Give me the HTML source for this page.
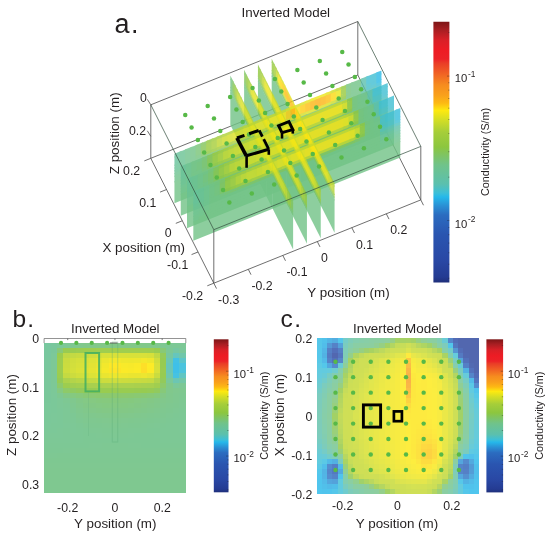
<!DOCTYPE html>
<html lang="en"><head><meta charset="utf-8"><title>Inverted Model</title>
<style>html,body{margin:0;padding:0;background:#fff}svg{display:block}text{font-family:"Liberation Sans", Arial, Helvetica, sans-serif}</style></head><body>
<svg width="550" height="539" viewBox="0 0 550 539">
<rect width="550" height="539" fill="#fff"/>
<polyline points="150.80,104.80 357.80,21.50 357.80,75.00 150.80,158.30 150.80,104.80" fill="none" stroke="#4a4a4a" stroke-width="0.8"/>
<polyline points="150.80,158.30 213.80,283.20 420.80,199.90 357.80,75.00" fill="none" stroke="#4a4a4a" stroke-width="0.8"/>
<g opacity="0.8" transform="matrix(23.468 46.525 0.000 49.409 271.71 58.72)">
<rect x="0.0000" y="0.0000" width="0.1273" height="0.0778" fill="#8ac643"/>
<rect x="0.0909" y="0.0000" width="0.1273" height="0.0778" fill="#9ccb3b"/>
<rect x="0.1818" y="0.0000" width="0.1273" height="0.0778" fill="#aed136"/>
<rect x="0.2727" y="0.0000" width="0.1273" height="0.0778" fill="#ccdb28"/>
<rect x="0.3636" y="0.0000" width="0.1273" height="0.0778" fill="#d3de25"/>
<rect x="0.4545" y="0.0000" width="0.1273" height="0.0778" fill="#dbe021"/>
<rect x="0.5455" y="0.0000" width="0.4000" height="0.0778" fill="#e4e31c"/>
<rect x="0.9091" y="0.0000" width="0.0909" height="0.0778" fill="#dbe021"/>
<rect x="0.0000" y="0.0556" width="0.1273" height="0.1889" fill="#95c93d"/>
<rect x="0.0909" y="0.0556" width="0.1273" height="0.1889" fill="#a6ce39"/>
<rect x="0.1818" y="0.0556" width="0.1273" height="0.1889" fill="#ccdb28"/>
<rect x="0.2727" y="0.0556" width="0.1273" height="0.1889" fill="#fde610"/>
<rect x="0.3636" y="0.0556" width="0.1273" height="0.1889" fill="#fdd911"/>
<rect x="0.4545" y="0.0556" width="0.1273" height="0.1889" fill="#fdcc12"/>
<rect x="0.5455" y="0.0556" width="0.4545" height="0.1889" fill="#fdbf13"/>
<rect x="0.0000" y="0.2222" width="0.1273" height="0.0778" fill="#8ac643"/>
<rect x="0.0909" y="0.2222" width="0.1273" height="0.0778" fill="#98ca3c"/>
<rect x="0.1818" y="0.2222" width="0.1273" height="0.0778" fill="#a6ce39"/>
<rect x="0.2727" y="0.2222" width="0.1273" height="0.0778" fill="#c4d82b"/>
<rect x="0.3636" y="0.2222" width="0.1273" height="0.0778" fill="#ccdb28"/>
<rect x="0.4545" y="0.2222" width="0.2182" height="0.0778" fill="#d3de25"/>
<rect x="0.6364" y="0.2222" width="0.2182" height="0.0778" fill="#dbe021"/>
<rect x="0.8182" y="0.2222" width="0.1818" height="0.0778" fill="#d3de25"/>
<rect x="0.0000" y="0.2778" width="0.1273" height="0.0778" fill="#77c476"/>
<rect x="0.0909" y="0.2778" width="0.1273" height="0.0778" fill="#7ac46e"/>
<rect x="0.1818" y="0.2778" width="0.1273" height="0.0778" fill="#7dc466"/>
<rect x="0.2727" y="0.2778" width="0.4000" height="0.0778" fill="#80c45d"/>
<rect x="0.6364" y="0.2778" width="0.3091" height="0.0778" fill="#84c555"/>
<rect x="0.9091" y="0.2778" width="0.0909" height="0.0778" fill="#80c45d"/>
<rect x="0.0000" y="0.3333" width="1.0000" height="0.6667" fill="#71c386"/>
</g>
<g opacity="0.8" transform="matrix(23.467 46.525 0.000 49.409 257.91 64.28)">
<rect x="0.0000" y="0.0000" width="0.1273" height="0.0778" fill="#8ac643"/>
<rect x="0.0909" y="0.0000" width="0.1273" height="0.0778" fill="#98ca3c"/>
<rect x="0.1818" y="0.0000" width="0.1273" height="0.0778" fill="#a6ce39"/>
<rect x="0.2727" y="0.0000" width="0.1273" height="0.0778" fill="#bdd62f"/>
<rect x="0.3636" y="0.0000" width="0.3091" height="0.0778" fill="#c4d82b"/>
<rect x="0.6364" y="0.0000" width="0.3636" height="0.0778" fill="#ccdb28"/>
<rect x="0.0000" y="0.0556" width="0.1273" height="0.1889" fill="#91c83e"/>
<rect x="0.0909" y="0.0556" width="0.1273" height="0.1889" fill="#a3cd3a"/>
<rect x="0.1818" y="0.0556" width="0.1273" height="0.1889" fill="#c4d82b"/>
<rect x="0.2727" y="0.0556" width="0.1273" height="0.1889" fill="#e4e31c"/>
<rect x="0.3636" y="0.0556" width="0.2182" height="0.1889" fill="#ede518"/>
<rect x="0.5455" y="0.0556" width="0.4545" height="0.1889" fill="#f6e713"/>
<rect x="0.0000" y="0.2222" width="0.1273" height="0.0778" fill="#87c54c"/>
<rect x="0.0909" y="0.2222" width="0.1273" height="0.0778" fill="#95c93d"/>
<rect x="0.1818" y="0.2222" width="0.1273" height="0.0778" fill="#a3cd3a"/>
<rect x="0.2727" y="0.2222" width="0.1273" height="0.0778" fill="#b5d332"/>
<rect x="0.3636" y="0.2222" width="0.4000" height="0.0778" fill="#bdd62f"/>
<rect x="0.7273" y="0.2222" width="0.2727" height="0.0778" fill="#c4d82b"/>
<rect x="0.0000" y="0.2778" width="0.1273" height="0.0778" fill="#77c476"/>
<rect x="0.0909" y="0.2778" width="0.1273" height="0.0778" fill="#7ac46e"/>
<rect x="0.1818" y="0.2778" width="0.2182" height="0.0778" fill="#7dc466"/>
<rect x="0.3636" y="0.2778" width="0.6364" height="0.0778" fill="#80c45d"/>
<rect x="0.0000" y="0.3333" width="1.0000" height="0.6667" fill="#71c386"/>
</g>
<g opacity="0.8" transform="matrix(86.250 -34.708 0.000 49.409 295.18 105.25)">
<rect x="0.0000" y="0.0000" width="0.0824" height="0.0778" fill="#d3de25"/>
<rect x="0.0588" y="0.0000" width="0.0824" height="0.0778" fill="#dbe021"/>
<rect x="0.1176" y="0.0000" width="0.0824" height="0.0778" fill="#e4e31c"/>
<rect x="0.1765" y="0.0000" width="0.2000" height="0.0778" fill="#ede518"/>
<rect x="0.3529" y="0.0000" width="0.0824" height="0.0778" fill="#e4e31c"/>
<rect x="0.4118" y="0.0000" width="0.0824" height="0.0778" fill="#d3de25"/>
<rect x="0.4706" y="0.0000" width="0.0824" height="0.0778" fill="#bdd62f"/>
<rect x="0.5294" y="0.0000" width="0.0824" height="0.0778" fill="#91c83e"/>
<rect x="0.5882" y="0.0000" width="0.0824" height="0.0778" fill="#74c37e"/>
<rect x="0.6471" y="0.0000" width="0.1412" height="0.0778" fill="#71c386"/>
<rect x="0.7647" y="0.0000" width="0.0824" height="0.0778" fill="#5bc0ae"/>
<rect x="0.8235" y="0.0000" width="0.1412" height="0.0778" fill="#3fbfd3"/>
<rect x="0.9412" y="0.0000" width="0.0588" height="0.0778" fill="#2bbae6"/>
<rect x="0.0000" y="0.0556" width="0.0824" height="0.1333" fill="#fdd911"/>
<rect x="0.0588" y="0.0556" width="0.0824" height="0.1333" fill="#fdcc12"/>
<rect x="0.1176" y="0.0556" width="0.0824" height="0.1333" fill="#fdbf13"/>
<rect x="0.1765" y="0.0556" width="0.0824" height="0.1333" fill="#fcb614"/>
<rect x="0.2353" y="0.0556" width="0.0824" height="0.1333" fill="#fcb016"/>
<rect x="0.2941" y="0.0556" width="0.0824" height="0.1333" fill="#fcb614"/>
<rect x="0.3529" y="0.0556" width="0.0824" height="0.1333" fill="#fdbf13"/>
<rect x="0.4118" y="0.0556" width="0.0824" height="0.1333" fill="#fdd911"/>
<rect x="0.4706" y="0.0556" width="0.0824" height="0.1333" fill="#ede518"/>
<rect x="0.5294" y="0.0556" width="0.0824" height="0.1333" fill="#98ca3c"/>
<rect x="0.5882" y="0.0556" width="0.0824" height="0.1333" fill="#74c37e"/>
<rect x="0.6471" y="0.0556" width="0.1412" height="0.1333" fill="#71c386"/>
<rect x="0.7647" y="0.0556" width="0.0824" height="0.1333" fill="#5bc0ae"/>
<rect x="0.8235" y="0.0556" width="0.1412" height="0.1333" fill="#3fbfd3"/>
<rect x="0.9412" y="0.0556" width="0.0588" height="0.1333" fill="#2bbae6"/>
<rect x="0.0000" y="0.1667" width="0.0824" height="0.0778" fill="#fdd911"/>
<rect x="0.0588" y="0.1667" width="0.0824" height="0.0778" fill="#fdcc12"/>
<rect x="0.1176" y="0.1667" width="0.0824" height="0.0778" fill="#fdbf13"/>
<rect x="0.1765" y="0.1667" width="0.0824" height="0.0778" fill="#fcb614"/>
<rect x="0.2353" y="0.1667" width="0.0824" height="0.0778" fill="#fcb016"/>
<rect x="0.2941" y="0.1667" width="0.0824" height="0.0778" fill="#fcb614"/>
<rect x="0.3529" y="0.1667" width="0.0824" height="0.0778" fill="#fdbf13"/>
<rect x="0.4118" y="0.1667" width="0.0824" height="0.0778" fill="#fdd911"/>
<rect x="0.4706" y="0.1667" width="0.0824" height="0.0778" fill="#ede518"/>
<rect x="0.5294" y="0.1667" width="0.0824" height="0.0778" fill="#98ca3c"/>
<rect x="0.5882" y="0.1667" width="0.0824" height="0.0778" fill="#74c37e"/>
<rect x="0.6471" y="0.1667" width="0.1412" height="0.0778" fill="#71c386"/>
<rect x="0.7647" y="0.1667" width="0.0824" height="0.0778" fill="#5bc0ae"/>
<rect x="0.8235" y="0.1667" width="0.0824" height="0.0778" fill="#46bfca"/>
<rect x="0.8824" y="0.1667" width="0.0824" height="0.0778" fill="#3fbfd3"/>
<rect x="0.9412" y="0.1667" width="0.0588" height="0.0778" fill="#2bbae6"/>
<rect x="0.0000" y="0.2222" width="0.0824" height="0.0778" fill="#ccdb28"/>
<rect x="0.0588" y="0.2222" width="0.0824" height="0.0778" fill="#d3de25"/>
<rect x="0.1176" y="0.2222" width="0.1412" height="0.0778" fill="#dbe021"/>
<rect x="0.2353" y="0.2222" width="0.0824" height="0.0778" fill="#e4e31c"/>
<rect x="0.2941" y="0.2222" width="0.1412" height="0.0778" fill="#dbe021"/>
<rect x="0.4118" y="0.2222" width="0.0824" height="0.0778" fill="#ccdb28"/>
<rect x="0.4706" y="0.2222" width="0.0824" height="0.0778" fill="#b5d332"/>
<rect x="0.5294" y="0.2222" width="0.0824" height="0.0778" fill="#8ec73f"/>
<rect x="0.5882" y="0.2222" width="0.0824" height="0.0778" fill="#74c37e"/>
<rect x="0.6471" y="0.2222" width="0.1412" height="0.0778" fill="#71c386"/>
<rect x="0.7647" y="0.2222" width="0.0824" height="0.0778" fill="#5dc0aa"/>
<rect x="0.8235" y="0.2222" width="0.1412" height="0.0778" fill="#46bfca"/>
<rect x="0.9412" y="0.2222" width="0.0588" height="0.0778" fill="#36bddc"/>
<rect x="0.0000" y="0.2778" width="0.1412" height="0.0778" fill="#80c45d"/>
<rect x="0.1176" y="0.2778" width="0.3176" height="0.0778" fill="#84c555"/>
<rect x="0.4118" y="0.2778" width="0.1412" height="0.0778" fill="#80c45d"/>
<rect x="0.5294" y="0.2778" width="0.0824" height="0.0778" fill="#77c476"/>
<rect x="0.5882" y="0.2778" width="0.2000" height="0.0778" fill="#71c386"/>
<rect x="0.7647" y="0.2778" width="0.0824" height="0.0778" fill="#5fc1a6"/>
<rect x="0.8235" y="0.2778" width="0.1412" height="0.0778" fill="#54c0b7"/>
<rect x="0.9412" y="0.2778" width="0.0588" height="0.0778" fill="#46bfca"/>
<rect x="0.0000" y="0.3333" width="0.7882" height="0.0778" fill="#71c386"/>
<rect x="0.7647" y="0.3333" width="0.0824" height="0.0778" fill="#64c19f"/>
<rect x="0.8235" y="0.3333" width="0.1412" height="0.0778" fill="#5dc0aa"/>
<rect x="0.9412" y="0.3333" width="0.0588" height="0.0778" fill="#5bc0ae"/>
<rect x="0.0000" y="0.3889" width="0.7882" height="0.0778" fill="#71c386"/>
<rect x="0.7647" y="0.3889" width="0.0824" height="0.0778" fill="#66c29b"/>
<rect x="0.8235" y="0.3889" width="0.0824" height="0.0778" fill="#64c19f"/>
<rect x="0.8824" y="0.3889" width="0.1176" height="0.0778" fill="#62c1a3"/>
<rect x="0.0000" y="0.4444" width="0.7882" height="0.0778" fill="#71c386"/>
<rect x="0.7647" y="0.4444" width="0.0824" height="0.0778" fill="#6ac293"/>
<rect x="0.8235" y="0.4444" width="0.1412" height="0.0778" fill="#68c297"/>
<rect x="0.9412" y="0.4444" width="0.0588" height="0.0778" fill="#66c29b"/>
<rect x="0.0000" y="0.5000" width="0.7882" height="0.0778" fill="#71c386"/>
<rect x="0.7647" y="0.5000" width="0.0824" height="0.0778" fill="#6dc390"/>
<rect x="0.8235" y="0.5000" width="0.1765" height="0.0778" fill="#6ac293"/>
<rect x="0.0000" y="0.5556" width="0.7882" height="0.0778" fill="#71c386"/>
<rect x="0.7647" y="0.5556" width="0.1412" height="0.0778" fill="#6fc38c"/>
<rect x="0.8824" y="0.5556" width="0.1176" height="0.0778" fill="#6dc390"/>
<rect x="0.0000" y="0.6111" width="0.7882" height="0.0778" fill="#71c386"/>
<rect x="0.7647" y="0.6111" width="0.2353" height="0.0778" fill="#6fc38c"/>
<rect x="0.0000" y="0.6667" width="1.0000" height="0.3333" fill="#71c386"/>
</g>
<g opacity="0.8" transform="matrix(23.468 46.525 0.000 49.409 244.11 69.83)">
<rect x="0.0000" y="0.0000" width="0.1273" height="0.0778" fill="#7dc466"/>
<rect x="0.0909" y="0.0000" width="0.1273" height="0.0778" fill="#8ec73f"/>
<rect x="0.1818" y="0.0000" width="0.1273" height="0.0778" fill="#9ccb3b"/>
<rect x="0.2727" y="0.0000" width="0.1273" height="0.0778" fill="#b5d332"/>
<rect x="0.3636" y="0.0000" width="0.2182" height="0.0778" fill="#bdd62f"/>
<rect x="0.5455" y="0.0000" width="0.4545" height="0.0778" fill="#c4d82b"/>
<rect x="0.0000" y="0.0556" width="0.1273" height="0.1889" fill="#84c555"/>
<rect x="0.0909" y="0.0556" width="0.1273" height="0.1889" fill="#95c93d"/>
<rect x="0.1818" y="0.0556" width="0.1273" height="0.1889" fill="#aed136"/>
<rect x="0.2727" y="0.0556" width="0.1273" height="0.1889" fill="#dbe021"/>
<rect x="0.3636" y="0.0556" width="0.2182" height="0.1889" fill="#e4e31c"/>
<rect x="0.5455" y="0.0556" width="0.4545" height="0.1889" fill="#ede518"/>
<rect x="0.0000" y="0.2222" width="0.1273" height="0.0778" fill="#7dc466"/>
<rect x="0.0909" y="0.2222" width="0.1273" height="0.0778" fill="#8ac643"/>
<rect x="0.1818" y="0.2222" width="0.1273" height="0.0778" fill="#9ccb3b"/>
<rect x="0.2727" y="0.2222" width="0.1273" height="0.0778" fill="#aed136"/>
<rect x="0.3636" y="0.2222" width="0.3091" height="0.0778" fill="#b5d332"/>
<rect x="0.6364" y="0.2222" width="0.3636" height="0.0778" fill="#bdd62f"/>
<rect x="0.0000" y="0.2778" width="0.1273" height="0.0778" fill="#74c37e"/>
<rect x="0.0909" y="0.2778" width="0.1273" height="0.0778" fill="#77c476"/>
<rect x="0.1818" y="0.2778" width="0.1273" height="0.0778" fill="#7ac46e"/>
<rect x="0.2727" y="0.2778" width="0.3091" height="0.0778" fill="#7dc466"/>
<rect x="0.5455" y="0.2778" width="0.4545" height="0.0778" fill="#80c45d"/>
<rect x="0.0000" y="0.3333" width="1.0000" height="0.6667" fill="#71c386"/>
</g>
<g opacity="0.8" transform="matrix(23.468 46.525 0.000 49.409 230.31 75.38)">
<rect x="0.0000" y="0.0000" width="0.1273" height="0.0778" fill="#74c37e"/>
<rect x="0.0909" y="0.0000" width="0.1273" height="0.0778" fill="#80c45d"/>
<rect x="0.1818" y="0.0000" width="0.1273" height="0.0778" fill="#95c93d"/>
<rect x="0.2727" y="0.0000" width="0.1273" height="0.0778" fill="#a6ce39"/>
<rect x="0.3636" y="0.0000" width="0.1273" height="0.0778" fill="#aed136"/>
<rect x="0.4545" y="0.0000" width="0.2182" height="0.0778" fill="#b5d332"/>
<rect x="0.6364" y="0.0000" width="0.3636" height="0.0778" fill="#bdd62f"/>
<rect x="0.0000" y="0.0556" width="0.1273" height="0.1889" fill="#74c37e"/>
<rect x="0.0909" y="0.0556" width="0.1273" height="0.1889" fill="#87c54c"/>
<rect x="0.1818" y="0.0556" width="0.1273" height="0.1889" fill="#9fcc3b"/>
<rect x="0.2727" y="0.0556" width="0.1273" height="0.1889" fill="#c4d82b"/>
<rect x="0.3636" y="0.0556" width="0.1273" height="0.1889" fill="#d3de25"/>
<rect x="0.4545" y="0.0556" width="0.2182" height="0.1889" fill="#dbe021"/>
<rect x="0.6364" y="0.0556" width="0.3636" height="0.1889" fill="#e4e31c"/>
<rect x="0.0000" y="0.2222" width="0.1273" height="0.0778" fill="#74c37e"/>
<rect x="0.0909" y="0.2222" width="0.1273" height="0.0778" fill="#80c45d"/>
<rect x="0.1818" y="0.2222" width="0.1273" height="0.0778" fill="#91c83e"/>
<rect x="0.2727" y="0.2222" width="0.1273" height="0.0778" fill="#a3cd3a"/>
<rect x="0.3636" y="0.2222" width="0.1273" height="0.0778" fill="#a6ce39"/>
<rect x="0.4545" y="0.2222" width="0.2182" height="0.0778" fill="#aed136"/>
<rect x="0.6364" y="0.2222" width="0.3636" height="0.0778" fill="#b5d332"/>
<rect x="0.0000" y="0.2778" width="0.1273" height="0.0778" fill="#71c386"/>
<rect x="0.0909" y="0.2778" width="0.1273" height="0.0778" fill="#74c37e"/>
<rect x="0.1818" y="0.2778" width="0.1273" height="0.0778" fill="#77c476"/>
<rect x="0.2727" y="0.2778" width="0.7273" height="0.0778" fill="#7dc466"/>
<rect x="0.0000" y="0.3333" width="1.0000" height="0.6667" fill="#71c386"/>
</g>
<g opacity="0.8" transform="matrix(86.250 -34.708 0.000 49.409 301.48 117.74)">
<rect x="0.0000" y="0.0000" width="0.4941" height="0.0778" fill="#ccdb28"/>
<rect x="0.4706" y="0.0000" width="0.0824" height="0.0778" fill="#bdd62f"/>
<rect x="0.5294" y="0.0000" width="0.0824" height="0.0778" fill="#8ec73f"/>
<rect x="0.5882" y="0.0000" width="0.0824" height="0.0778" fill="#74c37e"/>
<rect x="0.6471" y="0.0000" width="0.1412" height="0.0778" fill="#71c386"/>
<rect x="0.7647" y="0.0000" width="0.0824" height="0.0778" fill="#5dc0aa"/>
<rect x="0.8235" y="0.0000" width="0.1765" height="0.0778" fill="#3fbfd3"/>
<rect x="0.0000" y="0.0556" width="0.4941" height="0.1333" fill="#fde610"/>
<rect x="0.4706" y="0.0556" width="0.0824" height="0.1333" fill="#e4e31c"/>
<rect x="0.5294" y="0.0556" width="0.0824" height="0.1333" fill="#98ca3c"/>
<rect x="0.5882" y="0.0556" width="0.0824" height="0.1333" fill="#74c37e"/>
<rect x="0.6471" y="0.0556" width="0.1412" height="0.1333" fill="#71c386"/>
<rect x="0.7647" y="0.0556" width="0.0824" height="0.1333" fill="#5dc0aa"/>
<rect x="0.8235" y="0.0556" width="0.1765" height="0.1333" fill="#3fbfd3"/>
<rect x="0.0000" y="0.1667" width="0.4941" height="0.0778" fill="#fde610"/>
<rect x="0.4706" y="0.1667" width="0.0824" height="0.0778" fill="#e4e31c"/>
<rect x="0.5294" y="0.1667" width="0.0824" height="0.0778" fill="#98ca3c"/>
<rect x="0.5882" y="0.1667" width="0.0824" height="0.0778" fill="#74c37e"/>
<rect x="0.6471" y="0.1667" width="0.1412" height="0.0778" fill="#71c386"/>
<rect x="0.7647" y="0.1667" width="0.0824" height="0.0778" fill="#5dc0aa"/>
<rect x="0.8235" y="0.1667" width="0.1412" height="0.0778" fill="#46bfca"/>
<rect x="0.9412" y="0.1667" width="0.0588" height="0.0778" fill="#3fbfd3"/>
<rect x="0.0000" y="0.2222" width="0.4941" height="0.0778" fill="#c4d82b"/>
<rect x="0.4706" y="0.2222" width="0.0824" height="0.0778" fill="#b5d332"/>
<rect x="0.5294" y="0.2222" width="0.0824" height="0.0778" fill="#8ec73f"/>
<rect x="0.5882" y="0.2222" width="0.0824" height="0.0778" fill="#74c37e"/>
<rect x="0.6471" y="0.2222" width="0.1412" height="0.0778" fill="#71c386"/>
<rect x="0.7647" y="0.2222" width="0.0824" height="0.0778" fill="#5fc1a6"/>
<rect x="0.8235" y="0.2222" width="0.1765" height="0.0778" fill="#46bfca"/>
<rect x="0.0000" y="0.2778" width="0.4941" height="0.0778" fill="#80c45d"/>
<rect x="0.4706" y="0.2778" width="0.0824" height="0.0778" fill="#7dc466"/>
<rect x="0.5294" y="0.2778" width="0.0824" height="0.0778" fill="#77c476"/>
<rect x="0.5882" y="0.2778" width="0.2000" height="0.0778" fill="#71c386"/>
<rect x="0.7647" y="0.2778" width="0.0824" height="0.0778" fill="#62c1a3"/>
<rect x="0.8235" y="0.2778" width="0.1765" height="0.0778" fill="#54c0b7"/>
<rect x="0.0000" y="0.3333" width="0.7882" height="0.0778" fill="#71c386"/>
<rect x="0.7647" y="0.3333" width="0.0824" height="0.0778" fill="#64c19f"/>
<rect x="0.8235" y="0.3333" width="0.1765" height="0.0778" fill="#5dc0aa"/>
<rect x="0.0000" y="0.3889" width="0.7882" height="0.0778" fill="#71c386"/>
<rect x="0.7647" y="0.3889" width="0.0824" height="0.0778" fill="#68c297"/>
<rect x="0.8235" y="0.3889" width="0.1412" height="0.0778" fill="#64c19f"/>
<rect x="0.9412" y="0.3889" width="0.0588" height="0.0778" fill="#62c1a3"/>
<rect x="0.0000" y="0.4444" width="0.7882" height="0.0778" fill="#71c386"/>
<rect x="0.7647" y="0.4444" width="0.0824" height="0.0778" fill="#6ac293"/>
<rect x="0.8235" y="0.4444" width="0.1765" height="0.0778" fill="#68c297"/>
<rect x="0.0000" y="0.5000" width="0.7882" height="0.0778" fill="#71c386"/>
<rect x="0.7647" y="0.5000" width="0.0824" height="0.0778" fill="#6dc390"/>
<rect x="0.8235" y="0.5000" width="0.1765" height="0.0778" fill="#6ac293"/>
<rect x="0.0000" y="0.5556" width="0.7882" height="0.0778" fill="#71c386"/>
<rect x="0.7647" y="0.5556" width="0.2353" height="0.0778" fill="#6fc38c"/>
<rect x="0.0000" y="0.6111" width="0.8471" height="0.0778" fill="#71c386"/>
<rect x="0.8235" y="0.6111" width="0.1765" height="0.0778" fill="#6fc38c"/>
<rect x="0.0000" y="0.6667" width="1.0000" height="0.3333" fill="#71c386"/>
</g>
<g opacity="0.8" transform="matrix(13.800 -5.553 0.000 49.409 281.38 110.80)">
<rect x="0.0000" y="0.0000" width="0.4667" height="0.0778" fill="#ccdb28"/>
<rect x="0.3333" y="0.0000" width="0.4667" height="0.0778" fill="#dbe021"/>
<rect x="0.6667" y="0.0000" width="0.3333" height="0.0778" fill="#e4e31c"/>
<rect x="0.0000" y="0.0556" width="0.4667" height="0.1889" fill="#fde610"/>
<rect x="0.3333" y="0.0556" width="0.4667" height="0.1889" fill="#fdcc12"/>
<rect x="0.6667" y="0.0556" width="0.3333" height="0.1889" fill="#fcb614"/>
<rect x="0.0000" y="0.2222" width="0.4667" height="0.0778" fill="#c4d82b"/>
<rect x="0.3333" y="0.2222" width="0.4667" height="0.0778" fill="#d3de25"/>
<rect x="0.6667" y="0.2222" width="0.3333" height="0.0778" fill="#dbe021"/>
<rect x="0.0000" y="0.2778" width="0.8000" height="0.0778" fill="#80c45d"/>
<rect x="0.6667" y="0.2778" width="0.3333" height="0.0778" fill="#84c555"/>
<rect x="0.0000" y="0.3333" width="1.0000" height="0.6667" fill="#71c386"/>
</g>
<g opacity="0.8" transform="matrix(6.300 12.490 0.000 49.409 295.18 105.25)">
<rect x="0.0000" y="0.0000" width="0.4667" height="0.0778" fill="#dbe021"/>
<rect x="0.3333" y="0.0000" width="0.4667" height="0.0778" fill="#d3de25"/>
<rect x="0.6667" y="0.0000" width="0.3333" height="0.0778" fill="#ccdb28"/>
<rect x="0.0000" y="0.0556" width="0.4667" height="0.1889" fill="#fdcc12"/>
<rect x="0.3333" y="0.0556" width="0.4667" height="0.1889" fill="#fdd911"/>
<rect x="0.6667" y="0.0556" width="0.3333" height="0.1889" fill="#fde610"/>
<rect x="0.0000" y="0.2222" width="0.4667" height="0.0778" fill="#d3de25"/>
<rect x="0.3333" y="0.2222" width="0.4667" height="0.0778" fill="#ccdb28"/>
<rect x="0.6667" y="0.2222" width="0.3333" height="0.0778" fill="#c4d82b"/>
<rect x="0.0000" y="0.2778" width="1.0000" height="0.0778" fill="#80c45d"/>
<rect x="0.0000" y="0.3333" width="1.0000" height="0.6667" fill="#71c386"/>
</g>
<g opacity="0.8" transform="matrix(86.250 -34.708 0.000 49.409 307.77 130.23)">
<rect x="0.0000" y="0.0000" width="0.4353" height="0.0778" fill="#ccdb28"/>
<rect x="0.4118" y="0.0000" width="0.0824" height="0.0778" fill="#c4d82b"/>
<rect x="0.4706" y="0.0000" width="0.0824" height="0.0778" fill="#b5d332"/>
<rect x="0.5294" y="0.0000" width="0.0824" height="0.0778" fill="#8ec73f"/>
<rect x="0.5882" y="0.0000" width="0.0824" height="0.0778" fill="#74c37e"/>
<rect x="0.6471" y="0.0000" width="0.1412" height="0.0778" fill="#71c386"/>
<rect x="0.7647" y="0.0000" width="0.0824" height="0.0778" fill="#5dc0aa"/>
<rect x="0.8235" y="0.0000" width="0.1765" height="0.0778" fill="#3fbfd3"/>
<rect x="0.0000" y="0.0556" width="0.4353" height="0.1333" fill="#fde610"/>
<rect x="0.4118" y="0.0556" width="0.0824" height="0.1333" fill="#f6e713"/>
<rect x="0.4706" y="0.0556" width="0.0824" height="0.1333" fill="#dbe021"/>
<rect x="0.5294" y="0.0556" width="0.0824" height="0.1333" fill="#98ca3c"/>
<rect x="0.5882" y="0.0556" width="0.0824" height="0.1333" fill="#74c37e"/>
<rect x="0.6471" y="0.0556" width="0.1412" height="0.1333" fill="#71c386"/>
<rect x="0.7647" y="0.0556" width="0.0824" height="0.1333" fill="#5dc0aa"/>
<rect x="0.8235" y="0.0556" width="0.1765" height="0.1333" fill="#3fbfd3"/>
<rect x="0.0000" y="0.1667" width="0.4353" height="0.0778" fill="#fde610"/>
<rect x="0.4118" y="0.1667" width="0.0824" height="0.0778" fill="#f6e713"/>
<rect x="0.4706" y="0.1667" width="0.0824" height="0.0778" fill="#dbe021"/>
<rect x="0.5294" y="0.1667" width="0.0824" height="0.0778" fill="#98ca3c"/>
<rect x="0.5882" y="0.1667" width="0.0824" height="0.0778" fill="#74c37e"/>
<rect x="0.6471" y="0.1667" width="0.1412" height="0.0778" fill="#71c386"/>
<rect x="0.7647" y="0.1667" width="0.0824" height="0.0778" fill="#5dc0aa"/>
<rect x="0.8235" y="0.1667" width="0.1412" height="0.0778" fill="#46bfca"/>
<rect x="0.9412" y="0.1667" width="0.0588" height="0.0778" fill="#3fbfd3"/>
<rect x="0.0000" y="0.2222" width="0.4353" height="0.0778" fill="#c4d82b"/>
<rect x="0.4118" y="0.2222" width="0.0824" height="0.0778" fill="#bdd62f"/>
<rect x="0.4706" y="0.2222" width="0.0824" height="0.0778" fill="#aed136"/>
<rect x="0.5294" y="0.2222" width="0.0824" height="0.0778" fill="#8ec73f"/>
<rect x="0.5882" y="0.2222" width="0.0824" height="0.0778" fill="#74c37e"/>
<rect x="0.6471" y="0.2222" width="0.1412" height="0.0778" fill="#71c386"/>
<rect x="0.7647" y="0.2222" width="0.0824" height="0.0778" fill="#5dc0aa"/>
<rect x="0.8235" y="0.2222" width="0.1765" height="0.0778" fill="#46bfca"/>
<rect x="0.0000" y="0.2778" width="0.4941" height="0.0778" fill="#80c45d"/>
<rect x="0.4706" y="0.2778" width="0.0824" height="0.0778" fill="#7dc466"/>
<rect x="0.5294" y="0.2778" width="0.0824" height="0.0778" fill="#77c476"/>
<rect x="0.5882" y="0.2778" width="0.2000" height="0.0778" fill="#71c386"/>
<rect x="0.7647" y="0.2778" width="0.0824" height="0.0778" fill="#62c1a3"/>
<rect x="0.8235" y="0.2778" width="0.1765" height="0.0778" fill="#54c0b7"/>
<rect x="0.0000" y="0.3333" width="0.7882" height="0.0778" fill="#71c386"/>
<rect x="0.7647" y="0.3333" width="0.0824" height="0.0778" fill="#64c19f"/>
<rect x="0.8235" y="0.3333" width="0.1765" height="0.0778" fill="#5dc0aa"/>
<rect x="0.0000" y="0.3889" width="0.7882" height="0.0778" fill="#71c386"/>
<rect x="0.7647" y="0.3889" width="0.0824" height="0.0778" fill="#68c297"/>
<rect x="0.8235" y="0.3889" width="0.1765" height="0.0778" fill="#64c19f"/>
<rect x="0.0000" y="0.4444" width="0.7882" height="0.0778" fill="#71c386"/>
<rect x="0.7647" y="0.4444" width="0.0824" height="0.0778" fill="#6ac293"/>
<rect x="0.8235" y="0.4444" width="0.1765" height="0.0778" fill="#68c297"/>
<rect x="0.0000" y="0.5000" width="0.7882" height="0.0778" fill="#71c386"/>
<rect x="0.7647" y="0.5000" width="0.0824" height="0.0778" fill="#6dc390"/>
<rect x="0.8235" y="0.5000" width="0.1765" height="0.0778" fill="#6ac293"/>
<rect x="0.0000" y="0.5556" width="0.7882" height="0.1333" fill="#71c386"/>
<rect x="0.7647" y="0.5556" width="0.2353" height="0.1333" fill="#6fc38c"/>
<rect x="0.0000" y="0.6667" width="1.0000" height="0.3333" fill="#71c386"/>
</g>
<g opacity="0.8" transform="matrix(13.800 -5.553 0.000 49.409 267.58 116.36)">
<rect x="0.0000" y="0.0000" width="0.8000" height="0.0778" fill="#c4d82b"/>
<rect x="0.6667" y="0.0000" width="0.3333" height="0.0778" fill="#ccdb28"/>
<rect x="0.0000" y="0.0556" width="1.0000" height="0.1889" fill="#f6e713"/>
<rect x="0.0000" y="0.2222" width="1.0000" height="0.0778" fill="#bdd62f"/>
<rect x="0.0000" y="0.2778" width="1.0000" height="0.0778" fill="#80c45d"/>
<rect x="0.0000" y="0.3333" width="1.0000" height="0.6667" fill="#71c386"/>
</g>
<g opacity="0.8" transform="matrix(6.300 12.490 0.000 49.409 281.38 110.80)">
<rect x="0.0000" y="0.0000" width="1.0000" height="0.0778" fill="#ccdb28"/>
<rect x="0.0000" y="0.0556" width="1.0000" height="0.1889" fill="#f6e713"/>
<rect x="0.0000" y="0.2222" width="1.0000" height="0.0778" fill="#c4d82b"/>
<rect x="0.0000" y="0.2778" width="1.0000" height="0.0778" fill="#80c45d"/>
<rect x="0.0000" y="0.3333" width="1.0000" height="0.6667" fill="#71c386"/>
</g>
<g opacity="0.8" transform="matrix(13.800 -5.553 0.000 49.409 253.78 121.91)">
<rect x="0.0000" y="0.0000" width="0.4667" height="0.0778" fill="#bdd62f"/>
<rect x="0.3333" y="0.0000" width="0.6667" height="0.0778" fill="#c4d82b"/>
<rect x="0.0000" y="0.0556" width="1.0000" height="0.1889" fill="#ede518"/>
<rect x="0.0000" y="0.2222" width="0.4667" height="0.0778" fill="#b5d332"/>
<rect x="0.3333" y="0.2222" width="0.6667" height="0.0778" fill="#bdd62f"/>
<rect x="0.0000" y="0.2778" width="1.0000" height="0.0778" fill="#80c45d"/>
<rect x="0.0000" y="0.3333" width="1.0000" height="0.6667" fill="#71c386"/>
</g>
<g opacity="0.8" transform="matrix(13.800 -5.553 0.000 49.409 287.68 123.29)">
<rect x="0.0000" y="0.0000" width="1.0000" height="0.0778" fill="#ccdb28"/>
<rect x="0.0000" y="0.0556" width="0.4667" height="0.1889" fill="#f6e713"/>
<rect x="0.3333" y="0.0556" width="0.6667" height="0.1889" fill="#fde610"/>
<rect x="0.0000" y="0.2222" width="1.0000" height="0.0778" fill="#c4d82b"/>
<rect x="0.0000" y="0.2778" width="1.0000" height="0.0778" fill="#80c45d"/>
<rect x="0.0000" y="0.3333" width="1.0000" height="0.6667" fill="#71c386"/>
</g>
<g opacity="0.8" transform="matrix(6.300 12.490 0.000 49.409 267.58 116.36)">
<rect x="0.0000" y="0.0000" width="1.0000" height="0.0778" fill="#c4d82b"/>
<rect x="0.0000" y="0.0556" width="1.0000" height="0.1889" fill="#ede518"/>
<rect x="0.0000" y="0.2222" width="1.0000" height="0.0778" fill="#bdd62f"/>
<rect x="0.0000" y="0.2778" width="1.0000" height="0.0778" fill="#80c45d"/>
<rect x="0.0000" y="0.3333" width="1.0000" height="0.6667" fill="#71c386"/>
</g>
<g opacity="0.8" transform="matrix(6.300 12.490 0.000 49.409 301.48 117.74)">
<rect x="0.0000" y="0.0000" width="1.0000" height="0.0778" fill="#ccdb28"/>
<rect x="0.0000" y="0.0556" width="1.0000" height="0.1889" fill="#fde610"/>
<rect x="0.0000" y="0.2222" width="1.0000" height="0.0778" fill="#c4d82b"/>
<rect x="0.0000" y="0.2778" width="1.0000" height="0.0778" fill="#80c45d"/>
<rect x="0.0000" y="0.3333" width="1.0000" height="0.6667" fill="#71c386"/>
</g>
<g opacity="0.8" transform="matrix(86.250 -34.708 0.000 49.409 314.07 142.72)">
<rect x="0.0000" y="0.0000" width="0.4353" height="0.0778" fill="#ccdb28"/>
<rect x="0.4118" y="0.0000" width="0.0824" height="0.0778" fill="#c4d82b"/>
<rect x="0.4706" y="0.0000" width="0.0824" height="0.0778" fill="#b5d332"/>
<rect x="0.5294" y="0.0000" width="0.0824" height="0.0778" fill="#8ec73f"/>
<rect x="0.5882" y="0.0000" width="0.0824" height="0.0778" fill="#74c37e"/>
<rect x="0.6471" y="0.0000" width="0.1412" height="0.0778" fill="#71c386"/>
<rect x="0.7647" y="0.0000" width="0.0824" height="0.0778" fill="#46bfca"/>
<rect x="0.8235" y="0.0000" width="0.1412" height="0.0778" fill="#3fbfd3"/>
<rect x="0.9412" y="0.0000" width="0.0588" height="0.0778" fill="#36bddc"/>
<rect x="0.0000" y="0.0556" width="0.4353" height="0.1333" fill="#fde610"/>
<rect x="0.4118" y="0.0556" width="0.0824" height="0.1333" fill="#f6e713"/>
<rect x="0.4706" y="0.0556" width="0.0824" height="0.1333" fill="#dbe021"/>
<rect x="0.5294" y="0.0556" width="0.0824" height="0.1333" fill="#95c93d"/>
<rect x="0.5882" y="0.0556" width="0.0824" height="0.1333" fill="#74c37e"/>
<rect x="0.6471" y="0.0556" width="0.1412" height="0.1333" fill="#71c386"/>
<rect x="0.7647" y="0.0556" width="0.0824" height="0.1333" fill="#46bfca"/>
<rect x="0.8235" y="0.0556" width="0.1412" height="0.1333" fill="#3fbfd3"/>
<rect x="0.9412" y="0.0556" width="0.0588" height="0.1333" fill="#36bddc"/>
<rect x="0.0000" y="0.1667" width="0.4353" height="0.0778" fill="#fde610"/>
<rect x="0.4118" y="0.1667" width="0.0824" height="0.0778" fill="#f6e713"/>
<rect x="0.4706" y="0.1667" width="0.0824" height="0.0778" fill="#dbe021"/>
<rect x="0.5294" y="0.1667" width="0.0824" height="0.0778" fill="#95c93d"/>
<rect x="0.5882" y="0.1667" width="0.0824" height="0.0778" fill="#74c37e"/>
<rect x="0.6471" y="0.1667" width="0.1412" height="0.0778" fill="#71c386"/>
<rect x="0.7647" y="0.1667" width="0.2000" height="0.0778" fill="#46bfca"/>
<rect x="0.9412" y="0.1667" width="0.0588" height="0.0778" fill="#36bddc"/>
<rect x="0.0000" y="0.2222" width="0.4353" height="0.0778" fill="#c4d82b"/>
<rect x="0.4118" y="0.2222" width="0.0824" height="0.0778" fill="#bdd62f"/>
<rect x="0.4706" y="0.2222" width="0.0824" height="0.0778" fill="#aed136"/>
<rect x="0.5294" y="0.2222" width="0.0824" height="0.0778" fill="#8ac643"/>
<rect x="0.5882" y="0.2222" width="0.0824" height="0.0778" fill="#74c37e"/>
<rect x="0.6471" y="0.2222" width="0.1412" height="0.0778" fill="#71c386"/>
<rect x="0.7647" y="0.2222" width="0.0824" height="0.0778" fill="#4dc0c1"/>
<rect x="0.8235" y="0.2222" width="0.1412" height="0.0778" fill="#46bfca"/>
<rect x="0.9412" y="0.2222" width="0.0588" height="0.0778" fill="#3fbfd3"/>
<rect x="0.0000" y="0.2778" width="0.4941" height="0.0778" fill="#80c45d"/>
<rect x="0.4706" y="0.2778" width="0.0824" height="0.0778" fill="#7dc466"/>
<rect x="0.5294" y="0.2778" width="0.0824" height="0.0778" fill="#77c476"/>
<rect x="0.5882" y="0.2778" width="0.2000" height="0.0778" fill="#71c386"/>
<rect x="0.7647" y="0.2778" width="0.2000" height="0.0778" fill="#54c0b7"/>
<rect x="0.9412" y="0.2778" width="0.0588" height="0.0778" fill="#4dc0c1"/>
<rect x="0.0000" y="0.3333" width="0.7882" height="0.0778" fill="#71c386"/>
<rect x="0.7647" y="0.3333" width="0.0824" height="0.0778" fill="#5fc1a6"/>
<rect x="0.8235" y="0.3333" width="0.1765" height="0.0778" fill="#5dc0aa"/>
<rect x="0.0000" y="0.3889" width="0.7882" height="0.0778" fill="#71c386"/>
<rect x="0.7647" y="0.3889" width="0.2000" height="0.0778" fill="#64c19f"/>
<rect x="0.9412" y="0.3889" width="0.0588" height="0.0778" fill="#62c1a3"/>
<rect x="0.0000" y="0.4444" width="0.7882" height="0.0778" fill="#71c386"/>
<rect x="0.7647" y="0.4444" width="0.2000" height="0.0778" fill="#68c297"/>
<rect x="0.9412" y="0.4444" width="0.0588" height="0.0778" fill="#66c29b"/>
<rect x="0.0000" y="0.5000" width="0.7882" height="0.0778" fill="#71c386"/>
<rect x="0.7647" y="0.5000" width="0.0824" height="0.0778" fill="#6dc390"/>
<rect x="0.8235" y="0.5000" width="0.1765" height="0.0778" fill="#6ac293"/>
<rect x="0.0000" y="0.5556" width="0.7882" height="0.0778" fill="#71c386"/>
<rect x="0.7647" y="0.5556" width="0.2000" height="0.0778" fill="#6fc38c"/>
<rect x="0.9412" y="0.5556" width="0.0588" height="0.0778" fill="#6dc390"/>
<rect x="0.0000" y="0.6111" width="0.7882" height="0.0778" fill="#71c386"/>
<rect x="0.7647" y="0.6111" width="0.2353" height="0.0778" fill="#6fc38c"/>
<rect x="0.0000" y="0.6667" width="1.0000" height="0.3333" fill="#71c386"/>
</g>
<g opacity="0.8" transform="matrix(13.800 -5.553 0.000 49.409 273.88 128.85)">
<rect x="0.0000" y="0.0000" width="0.8000" height="0.0778" fill="#c4d82b"/>
<rect x="0.6667" y="0.0000" width="0.3333" height="0.0778" fill="#ccdb28"/>
<rect x="0.0000" y="0.0556" width="1.0000" height="0.1889" fill="#f6e713"/>
<rect x="0.0000" y="0.2222" width="1.0000" height="0.0778" fill="#bdd62f"/>
<rect x="0.0000" y="0.2778" width="1.0000" height="0.0778" fill="#80c45d"/>
<rect x="0.0000" y="0.3333" width="1.0000" height="0.6667" fill="#71c386"/>
</g>
<g opacity="0.8" transform="matrix(6.300 12.490 0.000 49.409 253.78 121.91)">
<rect x="0.0000" y="0.0000" width="1.0000" height="0.0778" fill="#bdd62f"/>
<rect x="0.0000" y="0.0556" width="1.0000" height="0.1889" fill="#e4e31c"/>
<rect x="0.0000" y="0.2222" width="1.0000" height="0.0778" fill="#b5d332"/>
<rect x="0.0000" y="0.2778" width="1.0000" height="0.0778" fill="#7dc466"/>
<rect x="0.0000" y="0.3333" width="1.0000" height="0.6667" fill="#71c386"/>
</g>
<g opacity="0.8" transform="matrix(6.300 12.490 0.000 49.409 287.68 123.29)">
<rect x="0.0000" y="0.0000" width="1.0000" height="0.0778" fill="#ccdb28"/>
<rect x="0.0000" y="0.0556" width="1.0000" height="0.1889" fill="#f6e713"/>
<rect x="0.0000" y="0.2222" width="1.0000" height="0.0778" fill="#c4d82b"/>
<rect x="0.0000" y="0.2778" width="1.0000" height="0.0778" fill="#80c45d"/>
<rect x="0.0000" y="0.3333" width="1.0000" height="0.6667" fill="#71c386"/>
</g>
<g opacity="0.8" transform="matrix(13.800 -5.553 0.000 49.409 260.08 134.40)">
<rect x="0.0000" y="0.0000" width="0.4667" height="0.0778" fill="#bdd62f"/>
<rect x="0.3333" y="0.0000" width="0.6667" height="0.0778" fill="#c4d82b"/>
<rect x="0.0000" y="0.0556" width="1.0000" height="0.1889" fill="#ede518"/>
<rect x="0.0000" y="0.2222" width="0.4667" height="0.0778" fill="#b5d332"/>
<rect x="0.3333" y="0.2222" width="0.6667" height="0.0778" fill="#bdd62f"/>
<rect x="0.0000" y="0.2778" width="1.0000" height="0.0778" fill="#80c45d"/>
<rect x="0.0000" y="0.3333" width="1.0000" height="0.6667" fill="#71c386"/>
</g>
<g opacity="0.8" transform="matrix(13.800 -5.553 0.000 49.409 293.98 135.78)">
<rect x="0.0000" y="0.0000" width="1.0000" height="0.0778" fill="#ccdb28"/>
<rect x="0.0000" y="0.0556" width="0.4667" height="0.1889" fill="#f6e713"/>
<rect x="0.3333" y="0.0556" width="0.6667" height="0.1889" fill="#fde610"/>
<rect x="0.0000" y="0.2222" width="1.0000" height="0.0778" fill="#c4d82b"/>
<rect x="0.0000" y="0.2778" width="1.0000" height="0.0778" fill="#80c45d"/>
<rect x="0.0000" y="0.3333" width="1.0000" height="0.6667" fill="#71c386"/>
</g>
<g opacity="0.8" transform="matrix(6.300 12.490 0.000 49.409 273.88 128.85)">
<rect x="0.0000" y="0.0000" width="1.0000" height="0.0778" fill="#c4d82b"/>
<rect x="0.0000" y="0.0556" width="1.0000" height="0.1889" fill="#ede518"/>
<rect x="0.0000" y="0.2222" width="1.0000" height="0.0778" fill="#bdd62f"/>
<rect x="0.0000" y="0.2778" width="1.0000" height="0.0778" fill="#80c45d"/>
<rect x="0.0000" y="0.3333" width="1.0000" height="0.6667" fill="#71c386"/>
</g>
<g opacity="0.8" transform="matrix(6.300 12.490 0.000 49.409 307.77 130.23)">
<rect x="0.0000" y="0.0000" width="1.0000" height="0.0778" fill="#ccdb28"/>
<rect x="0.0000" y="0.0556" width="1.0000" height="0.1889" fill="#fde610"/>
<rect x="0.0000" y="0.2222" width="1.0000" height="0.0778" fill="#c4d82b"/>
<rect x="0.0000" y="0.2778" width="1.0000" height="0.0778" fill="#80c45d"/>
<rect x="0.0000" y="0.3333" width="1.0000" height="0.6667" fill="#71c386"/>
</g>
<g opacity="0.8" transform="matrix(79.350 -31.932 0.000 49.409 174.43 153.84)">
<rect x="0.0000" y="0.0000" width="0.0933" height="0.0778" fill="#66c29b"/>
<rect x="0.0667" y="0.0000" width="0.0933" height="0.0778" fill="#6ac293"/>
<rect x="0.1333" y="0.0000" width="0.0933" height="0.0778" fill="#6fc38c"/>
<rect x="0.2000" y="0.0000" width="0.0933" height="0.0778" fill="#71c386"/>
<rect x="0.2667" y="0.0000" width="0.0933" height="0.0778" fill="#77c476"/>
<rect x="0.3333" y="0.0000" width="0.0933" height="0.0778" fill="#80c45d"/>
<rect x="0.4000" y="0.0000" width="0.0933" height="0.0778" fill="#91c83e"/>
<rect x="0.4667" y="0.0000" width="0.0933" height="0.0778" fill="#9ccb3b"/>
<rect x="0.5333" y="0.0000" width="0.0933" height="0.0778" fill="#a3cd3a"/>
<rect x="0.6000" y="0.0000" width="0.1600" height="0.0778" fill="#aed136"/>
<rect x="0.7333" y="0.0000" width="0.1600" height="0.0778" fill="#b5d332"/>
<rect x="0.8667" y="0.0000" width="0.1333" height="0.0778" fill="#bdd62f"/>
<rect x="0.0000" y="0.0556" width="0.0933" height="0.1889" fill="#66c29b"/>
<rect x="0.0667" y="0.0556" width="0.0933" height="0.1889" fill="#6ac293"/>
<rect x="0.1333" y="0.0556" width="0.0933" height="0.1889" fill="#6fc38c"/>
<rect x="0.2000" y="0.0556" width="0.0933" height="0.1889" fill="#71c386"/>
<rect x="0.2667" y="0.0556" width="0.0933" height="0.1889" fill="#77c476"/>
<rect x="0.3333" y="0.0556" width="0.0933" height="0.1889" fill="#84c555"/>
<rect x="0.4000" y="0.0556" width="0.0933" height="0.1889" fill="#98ca3c"/>
<rect x="0.4667" y="0.0556" width="0.0933" height="0.1889" fill="#a6ce39"/>
<rect x="0.5333" y="0.0556" width="0.0933" height="0.1889" fill="#bdd62f"/>
<rect x="0.6000" y="0.0556" width="0.0933" height="0.1889" fill="#ccdb28"/>
<rect x="0.6667" y="0.0556" width="0.0933" height="0.1889" fill="#d3de25"/>
<rect x="0.7333" y="0.0556" width="0.1600" height="0.1889" fill="#dbe021"/>
<rect x="0.8667" y="0.0556" width="0.1333" height="0.1889" fill="#e4e31c"/>
<rect x="0.0000" y="0.2222" width="0.0933" height="0.0778" fill="#68c297"/>
<rect x="0.0667" y="0.2222" width="0.0933" height="0.0778" fill="#6ac293"/>
<rect x="0.1333" y="0.2222" width="0.0933" height="0.0778" fill="#6fc38c"/>
<rect x="0.2000" y="0.2222" width="0.0933" height="0.0778" fill="#71c386"/>
<rect x="0.2667" y="0.2222" width="0.0933" height="0.0778" fill="#74c37e"/>
<rect x="0.3333" y="0.2222" width="0.0933" height="0.0778" fill="#7dc466"/>
<rect x="0.4000" y="0.2222" width="0.0933" height="0.0778" fill="#8ec73f"/>
<rect x="0.4667" y="0.2222" width="0.0933" height="0.0778" fill="#98ca3c"/>
<rect x="0.5333" y="0.2222" width="0.0933" height="0.0778" fill="#9fcc3b"/>
<rect x="0.6000" y="0.2222" width="0.1600" height="0.0778" fill="#a6ce39"/>
<rect x="0.7333" y="0.2222" width="0.1600" height="0.0778" fill="#aed136"/>
<rect x="0.8667" y="0.2222" width="0.1333" height="0.0778" fill="#b5d332"/>
<rect x="0.0000" y="0.2778" width="0.0933" height="0.0778" fill="#68c297"/>
<rect x="0.0667" y="0.2778" width="0.0933" height="0.0778" fill="#6ac293"/>
<rect x="0.1333" y="0.2778" width="0.0933" height="0.0778" fill="#6fc38c"/>
<rect x="0.2000" y="0.2778" width="0.1600" height="0.0778" fill="#71c386"/>
<rect x="0.3333" y="0.2778" width="0.0933" height="0.0778" fill="#74c37e"/>
<rect x="0.4000" y="0.2778" width="0.0933" height="0.0778" fill="#77c476"/>
<rect x="0.4667" y="0.2778" width="0.0933" height="0.0778" fill="#7ac46e"/>
<rect x="0.5333" y="0.2778" width="0.4667" height="0.0778" fill="#7dc466"/>
<rect x="0.0000" y="0.3333" width="0.0933" height="0.0778" fill="#6ac293"/>
<rect x="0.0667" y="0.3333" width="0.0933" height="0.0778" fill="#6dc390"/>
<rect x="0.1333" y="0.3333" width="0.0933" height="0.0778" fill="#6fc38c"/>
<rect x="0.2000" y="0.3333" width="0.8000" height="0.0778" fill="#71c386"/>
<rect x="0.0000" y="0.3889" width="0.0933" height="0.0778" fill="#6dc390"/>
<rect x="0.0667" y="0.3889" width="0.1600" height="0.0778" fill="#6fc38c"/>
<rect x="0.2000" y="0.3889" width="0.8000" height="0.0778" fill="#71c386"/>
<rect x="0.0000" y="0.4444" width="0.1600" height="0.1333" fill="#6fc38c"/>
<rect x="0.1333" y="0.4444" width="0.8667" height="0.1333" fill="#71c386"/>
<rect x="0.0000" y="0.5556" width="1.0000" height="0.4444" fill="#71c386"/>
</g>
<g opacity="0.8" transform="matrix(13.800 -5.553 0.000 49.409 280.18 141.34)">
<rect x="0.0000" y="0.0000" width="0.8000" height="0.0778" fill="#c4d82b"/>
<rect x="0.6667" y="0.0000" width="0.3333" height="0.0778" fill="#ccdb28"/>
<rect x="0.0000" y="0.0556" width="1.0000" height="0.1889" fill="#f6e713"/>
<rect x="0.0000" y="0.2222" width="1.0000" height="0.0778" fill="#bdd62f"/>
<rect x="0.0000" y="0.2778" width="1.0000" height="0.0778" fill="#80c45d"/>
<rect x="0.0000" y="0.3333" width="1.0000" height="0.6667" fill="#71c386"/>
</g>
<g opacity="0.8" transform="matrix(6.300 12.490 0.000 49.409 260.08 134.40)">
<rect x="0.0000" y="0.0000" width="1.0000" height="0.0778" fill="#bdd62f"/>
<rect x="0.0000" y="0.0556" width="1.0000" height="0.1889" fill="#e4e31c"/>
<rect x="0.0000" y="0.2222" width="1.0000" height="0.0778" fill="#b5d332"/>
<rect x="0.0000" y="0.2778" width="1.0000" height="0.0778" fill="#7dc466"/>
<rect x="0.0000" y="0.3333" width="1.0000" height="0.6667" fill="#71c386"/>
</g>
<g opacity="0.8" transform="matrix(6.300 12.490 0.000 49.409 293.98 135.78)">
<rect x="0.0000" y="0.0000" width="1.0000" height="0.0778" fill="#ccdb28"/>
<rect x="0.0000" y="0.0556" width="1.0000" height="0.1889" fill="#f6e713"/>
<rect x="0.0000" y="0.2222" width="1.0000" height="0.0778" fill="#c4d82b"/>
<rect x="0.0000" y="0.2778" width="1.0000" height="0.0778" fill="#80c45d"/>
<rect x="0.0000" y="0.3333" width="1.0000" height="0.6667" fill="#71c386"/>
</g>
<g opacity="0.8" transform="matrix(13.800 -5.553 0.000 49.409 266.38 146.89)">
<rect x="0.0000" y="0.0000" width="0.4667" height="0.0778" fill="#bdd62f"/>
<rect x="0.3333" y="0.0000" width="0.6667" height="0.0778" fill="#c4d82b"/>
<rect x="0.0000" y="0.0556" width="1.0000" height="0.1889" fill="#ede518"/>
<rect x="0.0000" y="0.2222" width="0.4667" height="0.0778" fill="#b5d332"/>
<rect x="0.3333" y="0.2222" width="0.6667" height="0.0778" fill="#bdd62f"/>
<rect x="0.0000" y="0.2778" width="1.0000" height="0.0778" fill="#80c45d"/>
<rect x="0.0000" y="0.3333" width="1.0000" height="0.6667" fill="#71c386"/>
</g>
<g opacity="0.8" transform="matrix(13.800 -5.553 0.000 49.409 300.28 148.27)">
<rect x="0.0000" y="0.0000" width="1.0000" height="0.0778" fill="#ccdb28"/>
<rect x="0.0000" y="0.0556" width="0.4667" height="0.1889" fill="#f6e713"/>
<rect x="0.3333" y="0.0556" width="0.6667" height="0.1889" fill="#fde610"/>
<rect x="0.0000" y="0.2222" width="1.0000" height="0.0778" fill="#c4d82b"/>
<rect x="0.0000" y="0.2778" width="1.0000" height="0.0778" fill="#80c45d"/>
<rect x="0.0000" y="0.3333" width="1.0000" height="0.6667" fill="#71c386"/>
</g>
<g opacity="0.8" transform="matrix(6.300 12.490 0.000 49.409 280.18 141.34)">
<rect x="0.0000" y="0.0000" width="1.0000" height="0.0778" fill="#c4d82b"/>
<rect x="0.0000" y="0.0556" width="1.0000" height="0.1889" fill="#ede518"/>
<rect x="0.0000" y="0.2222" width="1.0000" height="0.0778" fill="#bdd62f"/>
<rect x="0.0000" y="0.2778" width="1.0000" height="0.0778" fill="#80c45d"/>
<rect x="0.0000" y="0.3333" width="1.0000" height="0.6667" fill="#71c386"/>
</g>
<g opacity="0.8" transform="matrix(79.350 -31.932 0.000 49.409 180.73 166.33)">
<rect x="0.0000" y="0.0000" width="0.0933" height="0.0778" fill="#68c297"/>
<rect x="0.0667" y="0.0000" width="0.0933" height="0.0778" fill="#6dc390"/>
<rect x="0.1333" y="0.0000" width="0.1600" height="0.0778" fill="#71c386"/>
<rect x="0.2667" y="0.0000" width="0.0933" height="0.0778" fill="#77c476"/>
<rect x="0.3333" y="0.0000" width="0.0933" height="0.0778" fill="#84c555"/>
<rect x="0.4000" y="0.0000" width="0.0933" height="0.0778" fill="#95c93d"/>
<rect x="0.4667" y="0.0000" width="0.0933" height="0.0778" fill="#9fcc3b"/>
<rect x="0.5333" y="0.0000" width="0.0933" height="0.0778" fill="#a6ce39"/>
<rect x="0.6000" y="0.0000" width="0.0933" height="0.0778" fill="#aed136"/>
<rect x="0.6667" y="0.0000" width="0.2267" height="0.0778" fill="#b5d332"/>
<rect x="0.8667" y="0.0000" width="0.1333" height="0.0778" fill="#bdd62f"/>
<rect x="0.0000" y="0.0556" width="0.0933" height="0.1889" fill="#68c297"/>
<rect x="0.0667" y="0.0556" width="0.0933" height="0.1889" fill="#6dc390"/>
<rect x="0.1333" y="0.0556" width="0.0933" height="0.1889" fill="#71c386"/>
<rect x="0.2000" y="0.0556" width="0.0933" height="0.1889" fill="#74c37e"/>
<rect x="0.2667" y="0.0556" width="0.0933" height="0.1889" fill="#7ac46e"/>
<rect x="0.3333" y="0.0556" width="0.0933" height="0.1889" fill="#87c54c"/>
<rect x="0.4000" y="0.0556" width="0.0933" height="0.1889" fill="#9ccb3b"/>
<rect x="0.4667" y="0.0556" width="0.0933" height="0.1889" fill="#aed136"/>
<rect x="0.5333" y="0.0556" width="0.0933" height="0.1889" fill="#c4d82b"/>
<rect x="0.6000" y="0.0556" width="0.0933" height="0.1889" fill="#ccdb28"/>
<rect x="0.6667" y="0.0556" width="0.0933" height="0.1889" fill="#d3de25"/>
<rect x="0.7333" y="0.0556" width="0.1600" height="0.1889" fill="#dbe021"/>
<rect x="0.8667" y="0.0556" width="0.1333" height="0.1889" fill="#e4e31c"/>
<rect x="0.0000" y="0.2222" width="0.0933" height="0.0778" fill="#68c297"/>
<rect x="0.0667" y="0.2222" width="0.0933" height="0.0778" fill="#6dc390"/>
<rect x="0.1333" y="0.2222" width="0.1600" height="0.0778" fill="#71c386"/>
<rect x="0.2667" y="0.2222" width="0.0933" height="0.0778" fill="#77c476"/>
<rect x="0.3333" y="0.2222" width="0.0933" height="0.0778" fill="#80c45d"/>
<rect x="0.4000" y="0.2222" width="0.0933" height="0.0778" fill="#91c83e"/>
<rect x="0.4667" y="0.2222" width="0.0933" height="0.0778" fill="#9ccb3b"/>
<rect x="0.5333" y="0.2222" width="0.0933" height="0.0778" fill="#a3cd3a"/>
<rect x="0.6000" y="0.2222" width="0.0933" height="0.0778" fill="#a6ce39"/>
<rect x="0.6667" y="0.2222" width="0.2267" height="0.0778" fill="#aed136"/>
<rect x="0.8667" y="0.2222" width="0.1333" height="0.0778" fill="#b5d332"/>
<rect x="0.0000" y="0.2778" width="0.0933" height="0.0778" fill="#6ac293"/>
<rect x="0.0667" y="0.2778" width="0.0933" height="0.0778" fill="#6dc390"/>
<rect x="0.1333" y="0.2778" width="0.1600" height="0.0778" fill="#71c386"/>
<rect x="0.2667" y="0.2778" width="0.1600" height="0.0778" fill="#74c37e"/>
<rect x="0.4000" y="0.2778" width="0.0933" height="0.0778" fill="#77c476"/>
<rect x="0.4667" y="0.2778" width="0.0933" height="0.0778" fill="#7ac46e"/>
<rect x="0.5333" y="0.2778" width="0.4667" height="0.0778" fill="#7dc466"/>
<rect x="0.0000" y="0.3333" width="0.0933" height="0.0778" fill="#6ac293"/>
<rect x="0.0667" y="0.3333" width="0.0933" height="0.0778" fill="#6fc38c"/>
<rect x="0.1333" y="0.3333" width="0.8667" height="0.0778" fill="#71c386"/>
<rect x="0.0000" y="0.3889" width="0.0933" height="0.0778" fill="#6dc390"/>
<rect x="0.0667" y="0.3889" width="0.0933" height="0.0778" fill="#6fc38c"/>
<rect x="0.1333" y="0.3889" width="0.8667" height="0.0778" fill="#71c386"/>
<rect x="0.0000" y="0.4444" width="0.1600" height="0.0778" fill="#6fc38c"/>
<rect x="0.1333" y="0.4444" width="0.8667" height="0.0778" fill="#71c386"/>
<rect x="0.0000" y="0.5000" width="0.0933" height="0.0778" fill="#6fc38c"/>
<rect x="0.0667" y="0.5000" width="0.9333" height="0.0778" fill="#71c386"/>
<rect x="0.0000" y="0.5556" width="1.0000" height="0.4444" fill="#71c386"/>
</g>
<g opacity="0.8" transform="matrix(13.800 -5.553 0.000 49.409 286.48 153.83)">
<rect x="0.0000" y="0.0000" width="0.8000" height="0.0778" fill="#c4d82b"/>
<rect x="0.6667" y="0.0000" width="0.3333" height="0.0778" fill="#ccdb28"/>
<rect x="0.0000" y="0.0556" width="0.4667" height="0.1889" fill="#ede518"/>
<rect x="0.3333" y="0.0556" width="0.6667" height="0.1889" fill="#f6e713"/>
<rect x="0.0000" y="0.2222" width="1.0000" height="0.0778" fill="#bdd62f"/>
<rect x="0.0000" y="0.2778" width="1.0000" height="0.0778" fill="#80c45d"/>
<rect x="0.0000" y="0.3333" width="1.0000" height="0.6667" fill="#71c386"/>
</g>
<g opacity="0.8" transform="matrix(6.300 12.490 0.000 49.409 266.38 146.89)">
<rect x="0.0000" y="0.0000" width="1.0000" height="0.0778" fill="#bdd62f"/>
<rect x="0.0000" y="0.0556" width="1.0000" height="0.1889" fill="#e4e31c"/>
<rect x="0.0000" y="0.2222" width="1.0000" height="0.0778" fill="#b5d332"/>
<rect x="0.0000" y="0.2778" width="1.0000" height="0.0778" fill="#7dc466"/>
<rect x="0.0000" y="0.3333" width="1.0000" height="0.6667" fill="#71c386"/>
</g>
<g opacity="0.8" transform="matrix(13.800 -5.553 0.000 49.409 272.68 159.38)">
<rect x="0.0000" y="0.0000" width="0.4667" height="0.0778" fill="#bdd62f"/>
<rect x="0.3333" y="0.0000" width="0.6667" height="0.0778" fill="#c4d82b"/>
<rect x="0.0000" y="0.0556" width="0.4667" height="0.1889" fill="#e4e31c"/>
<rect x="0.3333" y="0.0556" width="0.6667" height="0.1889" fill="#ede518"/>
<rect x="0.0000" y="0.2222" width="0.8000" height="0.0778" fill="#b5d332"/>
<rect x="0.6667" y="0.2222" width="0.3333" height="0.0778" fill="#bdd62f"/>
<rect x="0.0000" y="0.2778" width="0.4667" height="0.0778" fill="#7dc466"/>
<rect x="0.3333" y="0.2778" width="0.6667" height="0.0778" fill="#80c45d"/>
<rect x="0.0000" y="0.3333" width="1.0000" height="0.6667" fill="#71c386"/>
</g>
<g opacity="0.8" transform="matrix(79.350 -31.932 0.000 49.409 187.03 178.82)">
<rect x="0.0000" y="0.0000" width="0.0933" height="0.0778" fill="#68c297"/>
<rect x="0.0667" y="0.0000" width="0.0933" height="0.0778" fill="#6ac293"/>
<rect x="0.1333" y="0.0000" width="0.0933" height="0.0778" fill="#6fc38c"/>
<rect x="0.2000" y="0.0000" width="0.0933" height="0.0778" fill="#71c386"/>
<rect x="0.2667" y="0.0000" width="0.0933" height="0.0778" fill="#77c476"/>
<rect x="0.3333" y="0.0000" width="0.0933" height="0.0778" fill="#84c555"/>
<rect x="0.4000" y="0.0000" width="0.0933" height="0.0778" fill="#91c83e"/>
<rect x="0.4667" y="0.0000" width="0.0933" height="0.0778" fill="#9fcc3b"/>
<rect x="0.5333" y="0.0000" width="0.0933" height="0.0778" fill="#a6ce39"/>
<rect x="0.6000" y="0.0000" width="0.0933" height="0.0778" fill="#aed136"/>
<rect x="0.6667" y="0.0000" width="0.2267" height="0.0778" fill="#b5d332"/>
<rect x="0.8667" y="0.0000" width="0.1333" height="0.0778" fill="#bdd62f"/>
<rect x="0.0000" y="0.0556" width="0.0933" height="0.1889" fill="#68c297"/>
<rect x="0.0667" y="0.0556" width="0.0933" height="0.1889" fill="#6ac293"/>
<rect x="0.1333" y="0.0556" width="0.0933" height="0.1889" fill="#6fc38c"/>
<rect x="0.2000" y="0.0556" width="0.0933" height="0.1889" fill="#74c37e"/>
<rect x="0.2667" y="0.0556" width="0.0933" height="0.1889" fill="#7ac46e"/>
<rect x="0.3333" y="0.0556" width="0.0933" height="0.1889" fill="#87c54c"/>
<rect x="0.4000" y="0.0556" width="0.0933" height="0.1889" fill="#9ccb3b"/>
<rect x="0.4667" y="0.0556" width="0.0933" height="0.1889" fill="#aed136"/>
<rect x="0.5333" y="0.0556" width="0.0933" height="0.1889" fill="#c4d82b"/>
<rect x="0.6000" y="0.0556" width="0.0933" height="0.1889" fill="#ccdb28"/>
<rect x="0.6667" y="0.0556" width="0.0933" height="0.1889" fill="#d3de25"/>
<rect x="0.7333" y="0.0556" width="0.1600" height="0.1889" fill="#dbe021"/>
<rect x="0.8667" y="0.0556" width="0.1333" height="0.1889" fill="#e4e31c"/>
<rect x="0.0000" y="0.2222" width="0.0933" height="0.0778" fill="#68c297"/>
<rect x="0.0667" y="0.2222" width="0.0933" height="0.0778" fill="#6ac293"/>
<rect x="0.1333" y="0.2222" width="0.0933" height="0.0778" fill="#6fc38c"/>
<rect x="0.2000" y="0.2222" width="0.0933" height="0.0778" fill="#71c386"/>
<rect x="0.2667" y="0.2222" width="0.0933" height="0.0778" fill="#77c476"/>
<rect x="0.3333" y="0.2222" width="0.0933" height="0.0778" fill="#80c45d"/>
<rect x="0.4000" y="0.2222" width="0.0933" height="0.0778" fill="#91c83e"/>
<rect x="0.4667" y="0.2222" width="0.0933" height="0.0778" fill="#9ccb3b"/>
<rect x="0.5333" y="0.2222" width="0.0933" height="0.0778" fill="#a3cd3a"/>
<rect x="0.6000" y="0.2222" width="0.1600" height="0.0778" fill="#a6ce39"/>
<rect x="0.7333" y="0.2222" width="0.1600" height="0.0778" fill="#aed136"/>
<rect x="0.8667" y="0.2222" width="0.1333" height="0.0778" fill="#b5d332"/>
<rect x="0.0000" y="0.2778" width="0.0933" height="0.0778" fill="#6ac293"/>
<rect x="0.0667" y="0.2778" width="0.0933" height="0.0778" fill="#6dc390"/>
<rect x="0.1333" y="0.2778" width="0.0933" height="0.0778" fill="#6fc38c"/>
<rect x="0.2000" y="0.2778" width="0.0933" height="0.0778" fill="#71c386"/>
<rect x="0.2667" y="0.2778" width="0.1600" height="0.0778" fill="#74c37e"/>
<rect x="0.4000" y="0.2778" width="0.0933" height="0.0778" fill="#77c476"/>
<rect x="0.4667" y="0.2778" width="0.0933" height="0.0778" fill="#7ac46e"/>
<rect x="0.5333" y="0.2778" width="0.4667" height="0.0778" fill="#7dc466"/>
<rect x="0.0000" y="0.3333" width="0.0933" height="0.0778" fill="#6ac293"/>
<rect x="0.0667" y="0.3333" width="0.0933" height="0.0778" fill="#6dc390"/>
<rect x="0.1333" y="0.3333" width="0.8667" height="0.0778" fill="#71c386"/>
<rect x="0.0000" y="0.3889" width="0.0933" height="0.0778" fill="#6dc390"/>
<rect x="0.0667" y="0.3889" width="0.0933" height="0.0778" fill="#6fc38c"/>
<rect x="0.1333" y="0.3889" width="0.8667" height="0.0778" fill="#71c386"/>
<rect x="0.0000" y="0.4444" width="0.1600" height="0.1333" fill="#6fc38c"/>
<rect x="0.1333" y="0.4444" width="0.8667" height="0.1333" fill="#71c386"/>
<rect x="0.0000" y="0.5556" width="1.0000" height="0.4444" fill="#71c386"/>
</g>
<g opacity="0.8" transform="matrix(20.475 40.593 0.000 49.409 314.07 142.72)">
<rect x="0.0000" y="0.0000" width="0.5400" height="0.0778" fill="#ccdb28"/>
<rect x="0.5000" y="0.0000" width="0.2400" height="0.0778" fill="#c4d82b"/>
<rect x="0.7000" y="0.0000" width="0.1400" height="0.0778" fill="#b5d332"/>
<rect x="0.8000" y="0.0000" width="0.1400" height="0.0778" fill="#aed136"/>
<rect x="0.9000" y="0.0000" width="0.1000" height="0.0778" fill="#a3cd3a"/>
<rect x="0.0000" y="0.0556" width="0.4400" height="0.1889" fill="#fde610"/>
<rect x="0.4000" y="0.0556" width="0.2400" height="0.1889" fill="#f6e713"/>
<rect x="0.6000" y="0.0556" width="0.1400" height="0.1889" fill="#ede518"/>
<rect x="0.7000" y="0.0556" width="0.1400" height="0.1889" fill="#dbe021"/>
<rect x="0.8000" y="0.0556" width="0.1400" height="0.1889" fill="#ccdb28"/>
<rect x="0.9000" y="0.0556" width="0.1000" height="0.1889" fill="#b5d332"/>
<rect x="0.0000" y="0.2222" width="0.5400" height="0.0778" fill="#c4d82b"/>
<rect x="0.5000" y="0.2222" width="0.2400" height="0.0778" fill="#bdd62f"/>
<rect x="0.7000" y="0.2222" width="0.1400" height="0.0778" fill="#aed136"/>
<rect x="0.8000" y="0.2222" width="0.1400" height="0.0778" fill="#a6ce39"/>
<rect x="0.9000" y="0.2222" width="0.1000" height="0.0778" fill="#9fcc3b"/>
<rect x="0.0000" y="0.2778" width="0.7400" height="0.0778" fill="#80c45d"/>
<rect x="0.7000" y="0.2778" width="0.2400" height="0.0778" fill="#7dc466"/>
<rect x="0.9000" y="0.2778" width="0.1000" height="0.0778" fill="#7ac46e"/>
<rect x="0.0000" y="0.3333" width="1.0000" height="0.6667" fill="#71c386"/>
</g>
<g opacity="0.8" transform="matrix(20.475 40.593 0.000 49.409 300.28 148.27)">
<rect x="0.0000" y="0.0000" width="0.3400" height="0.0778" fill="#ccdb28"/>
<rect x="0.3000" y="0.0000" width="0.3400" height="0.0778" fill="#c4d82b"/>
<rect x="0.6000" y="0.0000" width="0.1400" height="0.0778" fill="#bdd62f"/>
<rect x="0.7000" y="0.0000" width="0.1400" height="0.0778" fill="#aed136"/>
<rect x="0.8000" y="0.0000" width="0.1400" height="0.0778" fill="#a3cd3a"/>
<rect x="0.9000" y="0.0000" width="0.1000" height="0.0778" fill="#98ca3c"/>
<rect x="0.0000" y="0.0556" width="0.4400" height="0.1889" fill="#f6e713"/>
<rect x="0.4000" y="0.0556" width="0.2400" height="0.1889" fill="#ede518"/>
<rect x="0.6000" y="0.0556" width="0.1400" height="0.1889" fill="#e4e31c"/>
<rect x="0.7000" y="0.0556" width="0.1400" height="0.1889" fill="#d3de25"/>
<rect x="0.8000" y="0.0556" width="0.1400" height="0.1889" fill="#bdd62f"/>
<rect x="0.9000" y="0.0556" width="0.1000" height="0.1889" fill="#a6ce39"/>
<rect x="0.0000" y="0.2222" width="0.2400" height="0.0778" fill="#c4d82b"/>
<rect x="0.2000" y="0.2222" width="0.4400" height="0.0778" fill="#bdd62f"/>
<rect x="0.6000" y="0.2222" width="0.1400" height="0.0778" fill="#b5d332"/>
<rect x="0.7000" y="0.2222" width="0.1400" height="0.0778" fill="#a6ce39"/>
<rect x="0.8000" y="0.2222" width="0.1400" height="0.0778" fill="#9fcc3b"/>
<rect x="0.9000" y="0.2222" width="0.1000" height="0.0778" fill="#98ca3c"/>
<rect x="0.0000" y="0.2778" width="0.6400" height="0.0778" fill="#80c45d"/>
<rect x="0.6000" y="0.2778" width="0.3400" height="0.0778" fill="#7dc466"/>
<rect x="0.9000" y="0.2778" width="0.1000" height="0.0778" fill="#7ac46e"/>
<rect x="0.0000" y="0.3333" width="1.0000" height="0.6667" fill="#71c386"/>
</g>
<g opacity="0.8" transform="matrix(20.475 40.593 0.000 49.409 286.48 153.83)">
<rect x="0.0000" y="0.0000" width="0.3400" height="0.0778" fill="#c4d82b"/>
<rect x="0.3000" y="0.0000" width="0.3400" height="0.0778" fill="#bdd62f"/>
<rect x="0.6000" y="0.0000" width="0.1400" height="0.0778" fill="#b5d332"/>
<rect x="0.7000" y="0.0000" width="0.1400" height="0.0778" fill="#a3cd3a"/>
<rect x="0.8000" y="0.0000" width="0.1400" height="0.0778" fill="#98ca3c"/>
<rect x="0.9000" y="0.0000" width="0.1000" height="0.0778" fill="#8ac643"/>
<rect x="0.0000" y="0.0556" width="0.4400" height="0.1889" fill="#ede518"/>
<rect x="0.4000" y="0.0556" width="0.2400" height="0.1889" fill="#e4e31c"/>
<rect x="0.6000" y="0.0556" width="0.1400" height="0.1889" fill="#d3de25"/>
<rect x="0.7000" y="0.0556" width="0.1400" height="0.1889" fill="#bdd62f"/>
<rect x="0.8000" y="0.0556" width="0.1400" height="0.1889" fill="#a3cd3a"/>
<rect x="0.9000" y="0.0556" width="0.1000" height="0.1889" fill="#91c83e"/>
<rect x="0.0000" y="0.2222" width="0.3400" height="0.0778" fill="#bdd62f"/>
<rect x="0.3000" y="0.2222" width="0.3400" height="0.0778" fill="#b5d332"/>
<rect x="0.6000" y="0.2222" width="0.1400" height="0.0778" fill="#aed136"/>
<rect x="0.7000" y="0.2222" width="0.1400" height="0.0778" fill="#9fcc3b"/>
<rect x="0.8000" y="0.2222" width="0.1400" height="0.0778" fill="#95c93d"/>
<rect x="0.9000" y="0.2222" width="0.1000" height="0.0778" fill="#8ac643"/>
<rect x="0.0000" y="0.2778" width="0.4400" height="0.0778" fill="#80c45d"/>
<rect x="0.4000" y="0.2778" width="0.4400" height="0.0778" fill="#7dc466"/>
<rect x="0.8000" y="0.2778" width="0.1400" height="0.0778" fill="#7ac46e"/>
<rect x="0.9000" y="0.2778" width="0.1000" height="0.0778" fill="#77c476"/>
<rect x="0.0000" y="0.3333" width="1.0000" height="0.6667" fill="#71c386"/>
</g>
<g opacity="0.8" transform="matrix(79.350 -31.932 0.000 49.409 193.33 191.31)">
<rect x="0.0000" y="0.0000" width="0.0933" height="0.0778" fill="#66c29b"/>
<rect x="0.0667" y="0.0000" width="0.0933" height="0.0778" fill="#68c297"/>
<rect x="0.1333" y="0.0000" width="0.0933" height="0.0778" fill="#6dc390"/>
<rect x="0.2000" y="0.0000" width="0.0933" height="0.0778" fill="#71c386"/>
<rect x="0.2667" y="0.0000" width="0.0933" height="0.0778" fill="#74c37e"/>
<rect x="0.3333" y="0.0000" width="0.0933" height="0.0778" fill="#7dc466"/>
<rect x="0.4000" y="0.0000" width="0.0933" height="0.0778" fill="#8ec73f"/>
<rect x="0.4667" y="0.0000" width="0.0933" height="0.0778" fill="#9ccb3b"/>
<rect x="0.5333" y="0.0000" width="0.0933" height="0.0778" fill="#a3cd3a"/>
<rect x="0.6000" y="0.0000" width="0.0933" height="0.0778" fill="#a6ce39"/>
<rect x="0.6667" y="0.0000" width="0.0933" height="0.0778" fill="#aed136"/>
<rect x="0.7333" y="0.0000" width="0.1600" height="0.0778" fill="#b5d332"/>
<rect x="0.8667" y="0.0000" width="0.1333" height="0.0778" fill="#bdd62f"/>
<rect x="0.0000" y="0.0556" width="0.0933" height="0.1889" fill="#66c29b"/>
<rect x="0.0667" y="0.0556" width="0.0933" height="0.1889" fill="#68c297"/>
<rect x="0.1333" y="0.0556" width="0.0933" height="0.1889" fill="#6dc390"/>
<rect x="0.2000" y="0.0556" width="0.0933" height="0.1889" fill="#71c386"/>
<rect x="0.2667" y="0.0556" width="0.0933" height="0.1889" fill="#74c37e"/>
<rect x="0.3333" y="0.0556" width="0.0933" height="0.1889" fill="#80c45d"/>
<rect x="0.4000" y="0.0556" width="0.0933" height="0.1889" fill="#98ca3c"/>
<rect x="0.4667" y="0.0556" width="0.0933" height="0.1889" fill="#a6ce39"/>
<rect x="0.5333" y="0.0556" width="0.0933" height="0.1889" fill="#bdd62f"/>
<rect x="0.6000" y="0.0556" width="0.0933" height="0.1889" fill="#ccdb28"/>
<rect x="0.6667" y="0.0556" width="0.1600" height="0.1889" fill="#d3de25"/>
<rect x="0.8000" y="0.0556" width="0.0933" height="0.1889" fill="#dbe021"/>
<rect x="0.8667" y="0.0556" width="0.1333" height="0.1889" fill="#e4e31c"/>
<rect x="0.0000" y="0.2222" width="0.0933" height="0.0778" fill="#66c29b"/>
<rect x="0.0667" y="0.2222" width="0.0933" height="0.0778" fill="#68c297"/>
<rect x="0.1333" y="0.2222" width="0.0933" height="0.0778" fill="#6dc390"/>
<rect x="0.2000" y="0.2222" width="0.0933" height="0.0778" fill="#71c386"/>
<rect x="0.2667" y="0.2222" width="0.0933" height="0.0778" fill="#74c37e"/>
<rect x="0.3333" y="0.2222" width="0.0933" height="0.0778" fill="#7dc466"/>
<rect x="0.4000" y="0.2222" width="0.0933" height="0.0778" fill="#8ec73f"/>
<rect x="0.4667" y="0.2222" width="0.0933" height="0.0778" fill="#98ca3c"/>
<rect x="0.5333" y="0.2222" width="0.0933" height="0.0778" fill="#9fcc3b"/>
<rect x="0.6000" y="0.2222" width="0.0933" height="0.0778" fill="#a3cd3a"/>
<rect x="0.6667" y="0.2222" width="0.0933" height="0.0778" fill="#a6ce39"/>
<rect x="0.7333" y="0.2222" width="0.1600" height="0.0778" fill="#aed136"/>
<rect x="0.8667" y="0.2222" width="0.1333" height="0.0778" fill="#b5d332"/>
<rect x="0.0000" y="0.2778" width="0.0933" height="0.0778" fill="#68c297"/>
<rect x="0.0667" y="0.2778" width="0.0933" height="0.0778" fill="#6ac293"/>
<rect x="0.1333" y="0.2778" width="0.0933" height="0.0778" fill="#6dc390"/>
<rect x="0.2000" y="0.2778" width="0.1600" height="0.0778" fill="#71c386"/>
<rect x="0.3333" y="0.2778" width="0.0933" height="0.0778" fill="#74c37e"/>
<rect x="0.4000" y="0.2778" width="0.0933" height="0.0778" fill="#77c476"/>
<rect x="0.4667" y="0.2778" width="0.1600" height="0.0778" fill="#7ac46e"/>
<rect x="0.6000" y="0.2778" width="0.4000" height="0.0778" fill="#7dc466"/>
<rect x="0.0000" y="0.3333" width="0.1600" height="0.0778" fill="#6ac293"/>
<rect x="0.1333" y="0.3333" width="0.0933" height="0.0778" fill="#6dc390"/>
<rect x="0.2000" y="0.3333" width="0.8000" height="0.0778" fill="#71c386"/>
<rect x="0.0000" y="0.3889" width="0.1600" height="0.0778" fill="#6dc390"/>
<rect x="0.1333" y="0.3889" width="0.0933" height="0.0778" fill="#6fc38c"/>
<rect x="0.2000" y="0.3889" width="0.8000" height="0.0778" fill="#71c386"/>
<rect x="0.0000" y="0.4444" width="0.0933" height="0.0778" fill="#6dc390"/>
<rect x="0.0667" y="0.4444" width="0.1600" height="0.0778" fill="#6fc38c"/>
<rect x="0.2000" y="0.4444" width="0.8000" height="0.0778" fill="#71c386"/>
<rect x="0.0000" y="0.5000" width="0.1600" height="0.0778" fill="#6fc38c"/>
<rect x="0.1333" y="0.5000" width="0.8667" height="0.0778" fill="#71c386"/>
<rect x="0.0000" y="0.5556" width="0.0933" height="0.0778" fill="#6fc38c"/>
<rect x="0.0667" y="0.5556" width="0.9333" height="0.0778" fill="#71c386"/>
<rect x="0.0000" y="0.6111" width="1.0000" height="0.3889" fill="#71c386"/>
</g>
<g opacity="0.8" transform="matrix(20.475 40.593 0.000 49.409 272.68 159.38)">
<rect x="0.0000" y="0.0000" width="0.3400" height="0.0778" fill="#bdd62f"/>
<rect x="0.3000" y="0.0000" width="0.2400" height="0.0778" fill="#b5d332"/>
<rect x="0.5000" y="0.0000" width="0.1400" height="0.0778" fill="#aed136"/>
<rect x="0.6000" y="0.0000" width="0.1400" height="0.0778" fill="#a6ce39"/>
<rect x="0.7000" y="0.0000" width="0.1400" height="0.0778" fill="#98ca3c"/>
<rect x="0.8000" y="0.0000" width="0.1400" height="0.0778" fill="#8ac643"/>
<rect x="0.9000" y="0.0000" width="0.1000" height="0.0778" fill="#7dc466"/>
<rect x="0.0000" y="0.0556" width="0.3400" height="0.1889" fill="#e4e31c"/>
<rect x="0.3000" y="0.0556" width="0.2400" height="0.1889" fill="#dbe021"/>
<rect x="0.5000" y="0.0556" width="0.1400" height="0.1889" fill="#d3de25"/>
<rect x="0.6000" y="0.0556" width="0.1400" height="0.1889" fill="#c4d82b"/>
<rect x="0.7000" y="0.0556" width="0.1400" height="0.1889" fill="#a6ce39"/>
<rect x="0.8000" y="0.0556" width="0.1400" height="0.1889" fill="#95c93d"/>
<rect x="0.9000" y="0.0556" width="0.1000" height="0.1889" fill="#80c45d"/>
<rect x="0.0000" y="0.2222" width="0.3400" height="0.0778" fill="#b5d332"/>
<rect x="0.3000" y="0.2222" width="0.2400" height="0.0778" fill="#aed136"/>
<rect x="0.5000" y="0.2222" width="0.1400" height="0.0778" fill="#a6ce39"/>
<rect x="0.6000" y="0.2222" width="0.1400" height="0.0778" fill="#a3cd3a"/>
<rect x="0.7000" y="0.2222" width="0.1400" height="0.0778" fill="#98ca3c"/>
<rect x="0.8000" y="0.2222" width="0.1400" height="0.0778" fill="#8ac643"/>
<rect x="0.9000" y="0.2222" width="0.1000" height="0.0778" fill="#7ac46e"/>
<rect x="0.0000" y="0.2778" width="0.7400" height="0.0778" fill="#7dc466"/>
<rect x="0.7000" y="0.2778" width="0.1400" height="0.0778" fill="#7ac46e"/>
<rect x="0.8000" y="0.2778" width="0.1400" height="0.0778" fill="#77c476"/>
<rect x="0.9000" y="0.2778" width="0.1000" height="0.0778" fill="#74c37e"/>
<rect x="0.0000" y="0.3333" width="1.0000" height="0.6667" fill="#71c386"/>
</g>
<polyline points="150.80,104.80 213.80,229.70 420.80,146.40 357.80,21.50" fill="none" stroke="#33503f" stroke-width="0.85" stroke-opacity="0.85"/>
<polyline points="213.80,229.70 213.80,283.20" fill="none" stroke="#4a4a4a" stroke-width="0.8"/>
<polyline points="420.80,146.40 420.80,199.90" fill="none" stroke="#4a4a4a" stroke-width="0.8"/>
<circle cx="185.26" cy="115.07" r="2.25" fill="#57b947"/>
<circle cx="191.56" cy="127.56" r="2.25" fill="#57b947"/>
<circle cx="197.86" cy="140.05" r="2.25" fill="#57b947"/>
<circle cx="204.16" cy="152.54" r="2.25" fill="#57b947"/>
<circle cx="210.46" cy="165.03" r="2.25" fill="#57b947"/>
<circle cx="216.76" cy="177.52" r="2.25" fill="#57b947"/>
<circle cx="223.06" cy="190.01" r="2.25" fill="#57b947"/>
<circle cx="229.36" cy="202.50" r="2.25" fill="#57b947"/>
<circle cx="207.69" cy="106.05" r="2.25" fill="#57b947"/>
<circle cx="213.99" cy="118.54" r="2.25" fill="#57b947"/>
<circle cx="220.29" cy="131.03" r="2.25" fill="#57b947"/>
<circle cx="226.59" cy="143.52" r="2.25" fill="#57b947"/>
<circle cx="232.89" cy="156.01" r="2.25" fill="#57b947"/>
<circle cx="239.19" cy="168.50" r="2.25" fill="#57b947"/>
<circle cx="245.49" cy="180.99" r="2.25" fill="#57b947"/>
<circle cx="251.79" cy="193.48" r="2.25" fill="#57b947"/>
<circle cx="230.11" cy="97.02" r="2.25" fill="#57b947"/>
<circle cx="236.41" cy="109.51" r="2.25" fill="#57b947"/>
<circle cx="242.71" cy="122.00" r="2.25" fill="#57b947"/>
<circle cx="249.01" cy="134.49" r="2.25" fill="#57b947"/>
<circle cx="255.31" cy="146.98" r="2.25" fill="#57b947"/>
<circle cx="261.61" cy="159.47" r="2.25" fill="#57b947"/>
<circle cx="267.91" cy="171.96" r="2.25" fill="#57b947"/>
<circle cx="274.21" cy="184.45" r="2.25" fill="#57b947"/>
<circle cx="252.54" cy="88.00" r="2.25" fill="#57b947"/>
<circle cx="258.84" cy="100.49" r="2.25" fill="#57b947"/>
<circle cx="265.14" cy="112.98" r="2.25" fill="#57b947"/>
<circle cx="271.44" cy="125.47" r="2.25" fill="#57b947"/>
<circle cx="277.74" cy="137.96" r="2.25" fill="#57b947"/>
<circle cx="284.04" cy="150.45" r="2.25" fill="#57b947"/>
<circle cx="290.34" cy="162.94" r="2.25" fill="#57b947"/>
<circle cx="296.64" cy="175.43" r="2.25" fill="#57b947"/>
<circle cx="274.96" cy="78.97" r="2.25" fill="#57b947"/>
<circle cx="281.26" cy="91.46" r="2.25" fill="#57b947"/>
<circle cx="287.56" cy="103.95" r="2.25" fill="#57b947"/>
<circle cx="293.86" cy="116.44" r="2.25" fill="#57b947"/>
<circle cx="300.16" cy="128.93" r="2.25" fill="#57b947"/>
<circle cx="306.46" cy="141.42" r="2.25" fill="#57b947"/>
<circle cx="312.76" cy="153.91" r="2.25" fill="#57b947"/>
<circle cx="319.06" cy="166.40" r="2.25" fill="#57b947"/>
<circle cx="297.39" cy="69.95" r="2.25" fill="#57b947"/>
<circle cx="303.69" cy="82.44" r="2.25" fill="#57b947"/>
<circle cx="309.99" cy="94.93" r="2.25" fill="#57b947"/>
<circle cx="316.29" cy="107.42" r="2.25" fill="#57b947"/>
<circle cx="322.59" cy="119.91" r="2.25" fill="#57b947"/>
<circle cx="328.89" cy="132.40" r="2.25" fill="#57b947"/>
<circle cx="335.19" cy="144.89" r="2.25" fill="#57b947"/>
<circle cx="341.49" cy="157.38" r="2.25" fill="#57b947"/>
<circle cx="319.81" cy="60.92" r="2.25" fill="#57b947"/>
<circle cx="326.11" cy="73.41" r="2.25" fill="#57b947"/>
<circle cx="332.41" cy="85.90" r="2.25" fill="#57b947"/>
<circle cx="338.71" cy="98.39" r="2.25" fill="#57b947"/>
<circle cx="345.01" cy="110.88" r="2.25" fill="#57b947"/>
<circle cx="351.31" cy="123.37" r="2.25" fill="#57b947"/>
<circle cx="357.61" cy="135.86" r="2.25" fill="#57b947"/>
<circle cx="363.91" cy="148.35" r="2.25" fill="#57b947"/>
<circle cx="342.24" cy="51.90" r="2.25" fill="#57b947"/>
<circle cx="348.54" cy="64.39" r="2.25" fill="#57b947"/>
<circle cx="354.84" cy="76.88" r="2.25" fill="#57b947"/>
<circle cx="361.14" cy="89.37" r="2.25" fill="#57b947"/>
<circle cx="367.44" cy="101.86" r="2.25" fill="#57b947"/>
<circle cx="373.74" cy="114.35" r="2.25" fill="#57b947"/>
<circle cx="380.04" cy="126.84" r="2.25" fill="#57b947"/>
<circle cx="386.34" cy="139.33" r="2.25" fill="#57b947"/>
<polyline points="236.90,138.00 259.20,130.30" fill="none" stroke="#000" stroke-width="3.0" stroke-dasharray="8 5 10 30"/>
<polyline points="259.20,130.30 268.80,149.30" fill="none" stroke="#000" stroke-width="2.8" stroke-dasharray="7 3 11 30"/>
<polyline points="236.90,138.00 246.30,155.80" fill="none" stroke="#000" stroke-width="3.6"/>
<polyline points="246.30,155.80 268.80,149.30" fill="none" stroke="#000" stroke-width="3.0" stroke-linejoin="miter"/>
<polyline points="246.60,155.80 246.60,167.80" fill="none" stroke="#000" stroke-width="2.6"/>
<polyline points="268.80,149.30 268.80,154.80" fill="none" stroke="#000" stroke-width="2.6"/>
<polyline points="282.00,132.60 278.60,125.70 288.90,121.70 292.80,129.60 282.00,132.60" fill="none" stroke="#000" stroke-width="3.0"/>
<polyline points="282.00,132.60 282.00,138.60" fill="none" stroke="#000" stroke-width="2.6"/>
<polyline points="292.80,129.60 292.80,133.60" fill="none" stroke="#000" stroke-width="2.6"/>
<polyline points="150.80,158.30 144.31,160.91" fill="none" stroke="#4a4a4a" stroke-width="0.8"/>
<polyline points="166.55,189.52 160.06,192.14" fill="none" stroke="#4a4a4a" stroke-width="0.8"/>
<polyline points="182.30,220.75 175.81,223.36" fill="none" stroke="#4a4a4a" stroke-width="0.8"/>
<polyline points="198.05,251.97 191.56,254.59" fill="none" stroke="#4a4a4a" stroke-width="0.8"/>
<polyline points="213.80,283.20 207.31,285.81" fill="none" stroke="#4a4a4a" stroke-width="0.8"/>
<polyline points="213.80,283.20 216.50,288.56" fill="none" stroke="#4a4a4a" stroke-width="0.8"/>
<polyline points="248.30,269.32 251.00,274.67" fill="none" stroke="#4a4a4a" stroke-width="0.8"/>
<polyline points="282.80,255.43 285.50,260.79" fill="none" stroke="#4a4a4a" stroke-width="0.8"/>
<polyline points="317.30,241.55 320.00,246.91" fill="none" stroke="#4a4a4a" stroke-width="0.8"/>
<polyline points="351.80,227.67 354.50,233.02" fill="none" stroke="#4a4a4a" stroke-width="0.8"/>
<polyline points="386.30,213.78 389.00,219.14" fill="none" stroke="#4a4a4a" stroke-width="0.8"/>
<polyline points="420.80,199.90 423.50,205.26" fill="none" stroke="#4a4a4a" stroke-width="0.8"/>
<polyline points="150.80,104.80 147.30,99.30" fill="none" stroke="#4a4a4a" stroke-width="0.8"/>
<polyline points="150.80,136.27 147.30,130.77" fill="none" stroke="#4a4a4a" stroke-width="0.8"/>
<text x="285.80" y="16.60" font-size="13.4" text-anchor="middle" fill="#231f20">Inverted Model</text>
<text x="114.50" y="33.30" font-size="27" text-anchor="start" fill="#231f20" letter-spacing="1.6">a.</text>
<text x="146.80" y="102.40" font-size="12.3" text-anchor="end" fill="#231f20">0</text>
<text x="146.00" y="135.40" font-size="12.3" text-anchor="end" fill="#231f20">0.2</text>
<text x="140.20" y="174.80" font-size="12.3" text-anchor="end" fill="#231f20">0.2</text>
<text x="156.40" y="207.40" font-size="12.3" text-anchor="end" fill="#231f20">0.1</text>
<text x="171.70" y="237.10" font-size="12.3" text-anchor="end" fill="#231f20">0</text>
<text x="188.30" y="268.70" font-size="12.3" text-anchor="end" fill="#231f20">-0.1</text>
<text x="203.20" y="299.80" font-size="12.3" text-anchor="end" fill="#231f20">-0.2</text>
<text x="228.70" y="304.10" font-size="12.3" text-anchor="middle" fill="#231f20">-0.3</text>
<text x="262.00" y="290.40" font-size="12.3" text-anchor="middle" fill="#231f20">-0.2</text>
<text x="297.00" y="276.10" font-size="12.3" text-anchor="middle" fill="#231f20">-0.1</text>
<text x="324.50" y="262.10" font-size="12.3" text-anchor="middle" fill="#231f20">0</text>
<text x="364.60" y="249.00" font-size="12.3" text-anchor="middle" fill="#231f20">0.1</text>
<text x="398.70" y="234.40" font-size="12.3" text-anchor="middle" fill="#231f20">0.2</text>
<text x="348.50" y="297.30" font-size="13.4" text-anchor="middle" fill="#231f20">Y position (m)</text>
<text x="143.70" y="252.30" font-size="13.4" text-anchor="middle" fill="#231f20">X position (m)</text>
<text x="119.00" y="133.30" font-size="13.4" text-anchor="middle" fill="#231f20" transform="rotate(-90 119.00 133.30)">Z position (m)</text>
<linearGradient id="cba" x1="0" y1="0" x2="0" y2="1">
<stop offset="0.0000" stop-color="#7d1516"/>
<stop offset="0.0316" stop-color="#a81e22"/>
<stop offset="0.0700" stop-color="#d92027"/>
<stop offset="0.1083" stop-color="#ed1c24"/>
<stop offset="0.1429" stop-color="#ec2227"/>
<stop offset="0.1582" stop-color="#ea3c27"/>
<stop offset="0.2023" stop-color="#f16523"/>
<stop offset="0.2426" stop-color="#f68c1f"/>
<stop offset="0.2809" stop-color="#f9a01b"/>
<stop offset="0.3116" stop-color="#fdb913"/>
<stop offset="0.3404" stop-color="#fde910"/>
<stop offset="0.3730" stop-color="#d7df23"/>
<stop offset="0.4228" stop-color="#a6ce39"/>
<stop offset="0.4803" stop-color="#8cc63f"/>
<stop offset="0.5149" stop-color="#7dc466"/>
<stop offset="0.5494" stop-color="#70c38a"/>
<stop offset="0.6222" stop-color="#5bc0ae"/>
<stop offset="0.6568" stop-color="#3cbfd8"/>
<stop offset="0.6721" stop-color="#25b8ea"/>
<stop offset="0.7066" stop-color="#2a8fd4"/>
<stop offset="0.7411" stop-color="#2b6cc0"/>
<stop offset="0.8159" stop-color="#2a55b0"/>
<stop offset="0.9137" stop-color="#2948a5"/>
<stop offset="0.9789" stop-color="#243b92"/>
<stop offset="1.0000" stop-color="#1f2f7a"/>
</linearGradient>
<rect x="433.4" y="21.75" width="16.00" height="260.75" fill="url(#cba)"/>
<line x1="447.00" y1="76.10" x2="449.40" y2="76.10" stroke="#231f20" stroke-width="0.6" opacity="0.65"/>
<line x1="448.10" y1="32.57" x2="449.40" y2="32.57" stroke="#231f20" stroke-width="0.6" opacity="0.65"/>
<line x1="447.00" y1="220.70" x2="449.40" y2="220.70" stroke="#231f20" stroke-width="0.6" opacity="0.65"/>
<line x1="448.10" y1="177.17" x2="449.40" y2="177.17" stroke="#231f20" stroke-width="0.6" opacity="0.65"/>
<line x1="448.10" y1="151.71" x2="449.40" y2="151.71" stroke="#231f20" stroke-width="0.6" opacity="0.65"/>
<line x1="448.10" y1="133.64" x2="449.40" y2="133.64" stroke="#231f20" stroke-width="0.6" opacity="0.65"/>
<line x1="448.10" y1="119.63" x2="449.40" y2="119.63" stroke="#231f20" stroke-width="0.6" opacity="0.65"/>
<line x1="448.10" y1="108.18" x2="449.40" y2="108.18" stroke="#231f20" stroke-width="0.6" opacity="0.65"/>
<line x1="448.10" y1="98.50" x2="449.40" y2="98.50" stroke="#231f20" stroke-width="0.6" opacity="0.65"/>
<line x1="448.10" y1="90.11" x2="449.40" y2="90.11" stroke="#231f20" stroke-width="0.6" opacity="0.65"/>
<line x1="448.10" y1="82.72" x2="449.40" y2="82.72" stroke="#231f20" stroke-width="0.6" opacity="0.65"/>
<line x1="448.10" y1="278.24" x2="449.40" y2="278.24" stroke="#231f20" stroke-width="0.6" opacity="0.65"/>
<line x1="448.10" y1="264.23" x2="449.40" y2="264.23" stroke="#231f20" stroke-width="0.6" opacity="0.65"/>
<line x1="448.10" y1="252.78" x2="449.40" y2="252.78" stroke="#231f20" stroke-width="0.6" opacity="0.65"/>
<line x1="448.10" y1="243.10" x2="449.40" y2="243.10" stroke="#231f20" stroke-width="0.6" opacity="0.65"/>
<line x1="448.10" y1="234.71" x2="449.40" y2="234.71" stroke="#231f20" stroke-width="0.6" opacity="0.65"/>
<line x1="448.10" y1="227.32" x2="449.40" y2="227.32" stroke="#231f20" stroke-width="0.6" opacity="0.65"/>
<text x="454.80" y="82.40" font-size="11.3" fill="#231f20">10<tspan dy="-5.1" dx="0.6" font-size="8.4">-1</tspan></text>
<text x="454.80" y="227.50" font-size="11.3" fill="#231f20">10<tspan dy="-5.1" dx="0.6" font-size="8.4">-2</tspan></text>
<text x="488.70" y="151.90" font-size="10.8" text-anchor="middle" fill="#231f20" transform="rotate(-90 488.70 151.90)">Conductivity (S/m)</text>
<g shape-rendering="crispEdges" opacity="0.9">
<rect x="44.10" y="343.10" width="6.94" height="5.51" fill="#6ac295"/>
<rect x="50.54" y="343.10" width="6.94" height="5.51" fill="#6bc293"/>
<rect x="56.98" y="343.10" width="6.94" height="5.51" fill="#6dc38f"/>
<rect x="63.42" y="343.10" width="6.94" height="5.51" fill="#70c38b"/>
<rect x="69.86" y="343.10" width="6.94" height="5.51" fill="#71c386"/>
<rect x="76.30" y="343.10" width="6.94" height="5.51" fill="#73c382"/>
<rect x="82.75" y="343.10" width="6.94" height="5.51" fill="#74c37f"/>
<rect x="89.19" y="343.10" width="6.94" height="5.51" fill="#74c37e"/>
<rect x="95.63" y="343.10" width="13.38" height="5.51" fill="#75c37d"/>
<rect x="108.51" y="343.10" width="13.38" height="5.51" fill="#75c37c"/>
<rect x="121.39" y="343.10" width="19.82" height="5.51" fill="#75c37d"/>
<rect x="140.71" y="343.10" width="13.38" height="5.51" fill="#74c37e"/>
<rect x="153.60" y="343.10" width="6.94" height="5.51" fill="#73c381"/>
<rect x="160.04" y="343.10" width="6.94" height="5.51" fill="#71c387"/>
<rect x="166.48" y="343.10" width="6.94" height="5.51" fill="#70c38b"/>
<rect x="172.92" y="343.10" width="12.88" height="5.51" fill="#6fc38b"/>
<rect x="44.10" y="348.11" width="6.94" height="5.51" fill="#6ac294"/>
<rect x="50.54" y="348.11" width="6.94" height="5.51" fill="#6cc290"/>
<rect x="56.98" y="348.11" width="6.94" height="5.51" fill="#7cc469"/>
<rect x="63.42" y="348.11" width="6.94" height="5.51" fill="#8dc63f"/>
<rect x="69.86" y="348.11" width="6.94" height="5.51" fill="#8fc73e"/>
<rect x="76.30" y="348.11" width="6.94" height="5.51" fill="#91c83e"/>
<rect x="82.75" y="348.11" width="6.94" height="5.51" fill="#93c83d"/>
<rect x="89.19" y="348.11" width="6.94" height="5.51" fill="#94c83d"/>
<rect x="95.63" y="348.11" width="6.94" height="5.51" fill="#95c93d"/>
<rect x="102.07" y="348.11" width="45.59" height="5.51" fill="#96c93d"/>
<rect x="147.15" y="348.11" width="6.94" height="5.51" fill="#95c93d"/>
<rect x="153.60" y="348.11" width="6.94" height="5.51" fill="#8fc73e"/>
<rect x="160.04" y="348.11" width="6.94" height="5.51" fill="#7cc469"/>
<rect x="166.48" y="348.11" width="6.94" height="5.51" fill="#70c38a"/>
<rect x="172.92" y="348.11" width="6.94" height="5.51" fill="#69c297"/>
<rect x="179.36" y="348.11" width="6.44" height="5.51" fill="#6dc390"/>
<rect x="44.10" y="353.11" width="6.94" height="5.51" fill="#6ac294"/>
<rect x="50.54" y="353.11" width="6.94" height="5.51" fill="#6ec38e"/>
<rect x="56.98" y="353.11" width="6.94" height="5.51" fill="#8ec73e"/>
<rect x="63.42" y="353.11" width="6.94" height="5.51" fill="#b7d432"/>
<rect x="69.86" y="353.11" width="6.94" height="5.51" fill="#bdd62f"/>
<rect x="76.30" y="353.11" width="6.94" height="5.51" fill="#c2d82d"/>
<rect x="82.75" y="353.11" width="6.94" height="5.51" fill="#c5d92b"/>
<rect x="89.19" y="353.11" width="6.94" height="5.51" fill="#cadb29"/>
<rect x="95.63" y="353.11" width="6.94" height="5.51" fill="#d0dc26"/>
<rect x="102.07" y="353.11" width="6.94" height="5.51" fill="#d4de25"/>
<rect x="108.51" y="353.11" width="19.82" height="5.51" fill="#d5de24"/>
<rect x="127.83" y="353.11" width="6.94" height="5.51" fill="#d4de24"/>
<rect x="134.27" y="353.11" width="13.38" height="5.51" fill="#d4de25"/>
<rect x="147.15" y="353.11" width="6.94" height="5.51" fill="#d2dd25"/>
<rect x="153.60" y="353.11" width="6.94" height="5.51" fill="#bad530"/>
<rect x="160.04" y="353.11" width="6.94" height="5.51" fill="#89c648"/>
<rect x="166.48" y="353.11" width="6.94" height="5.51" fill="#69c296"/>
<rect x="172.92" y="353.11" width="6.94" height="5.51" fill="#56c0b5"/>
<rect x="179.36" y="353.11" width="6.44" height="5.51" fill="#61c1a3"/>
<rect x="44.10" y="358.12" width="6.94" height="5.51" fill="#6bc293"/>
<rect x="50.54" y="358.12" width="6.94" height="5.51" fill="#6fc38c"/>
<rect x="56.98" y="358.12" width="6.94" height="5.51" fill="#92c83e"/>
<rect x="63.42" y="358.12" width="6.94" height="5.51" fill="#c4d82c"/>
<rect x="69.86" y="358.12" width="6.94" height="5.51" fill="#cbdb28"/>
<rect x="76.30" y="358.12" width="6.94" height="5.51" fill="#d0dd26"/>
<rect x="82.75" y="358.12" width="6.94" height="5.51" fill="#d4de24"/>
<rect x="89.19" y="358.12" width="6.94" height="5.51" fill="#dae021"/>
<rect x="95.63" y="358.12" width="6.94" height="5.51" fill="#e1e21e"/>
<rect x="102.07" y="358.12" width="6.94" height="5.51" fill="#e9e41a"/>
<rect x="108.51" y="358.12" width="13.38" height="5.51" fill="#f0e617"/>
<rect x="121.39" y="358.12" width="6.94" height="5.51" fill="#ede518"/>
<rect x="127.83" y="358.12" width="6.94" height="5.51" fill="#ece518"/>
<rect x="134.27" y="358.12" width="6.94" height="5.51" fill="#ede518"/>
<rect x="140.71" y="358.12" width="6.94" height="5.51" fill="#f2e616"/>
<rect x="147.15" y="358.12" width="6.94" height="5.51" fill="#ede518"/>
<rect x="153.60" y="358.12" width="6.94" height="5.51" fill="#cbdb28"/>
<rect x="160.04" y="358.12" width="6.94" height="5.51" fill="#8bc640"/>
<rect x="166.48" y="358.12" width="6.94" height="5.51" fill="#60c1a6"/>
<rect x="172.92" y="358.12" width="6.94" height="5.51" fill="#2ebbe3"/>
<rect x="179.36" y="358.12" width="6.44" height="5.51" fill="#4bbfc4"/>
<rect x="44.10" y="363.13" width="6.94" height="5.51" fill="#6bc293"/>
<rect x="50.54" y="363.13" width="6.94" height="5.51" fill="#6fc38c"/>
<rect x="56.98" y="363.13" width="6.94" height="5.51" fill="#93c83d"/>
<rect x="63.42" y="363.13" width="6.94" height="5.51" fill="#c6d92b"/>
<rect x="69.86" y="363.13" width="6.94" height="5.51" fill="#cedc27"/>
<rect x="76.30" y="363.13" width="6.94" height="5.51" fill="#d3de25"/>
<rect x="82.75" y="363.13" width="6.94" height="5.51" fill="#d8df23"/>
<rect x="89.19" y="363.13" width="6.94" height="5.51" fill="#dfe11f"/>
<rect x="95.63" y="363.13" width="6.94" height="5.51" fill="#e6e31b"/>
<rect x="102.07" y="363.13" width="6.94" height="5.51" fill="#f1e616"/>
<rect x="108.51" y="363.13" width="13.38" height="5.51" fill="#fde610"/>
<rect x="121.39" y="363.13" width="6.94" height="5.51" fill="#f8e813"/>
<rect x="127.83" y="363.13" width="6.94" height="5.51" fill="#f7e713"/>
<rect x="134.27" y="363.13" width="6.94" height="5.51" fill="#fae812"/>
<rect x="140.71" y="363.13" width="6.94" height="5.51" fill="#fddc11"/>
<rect x="147.15" y="363.13" width="6.94" height="5.51" fill="#fde910"/>
<rect x="153.60" y="363.13" width="6.94" height="5.51" fill="#d3dd25"/>
<rect x="160.04" y="363.13" width="6.94" height="5.51" fill="#8cc63f"/>
<rect x="166.48" y="363.13" width="6.94" height="5.51" fill="#59c0b1"/>
<rect x="172.92" y="363.13" width="6.94" height="5.51" fill="#2bbae6"/>
<rect x="179.36" y="363.13" width="6.44" height="5.51" fill="#38bedb"/>
<rect x="44.10" y="368.13" width="6.94" height="5.51" fill="#6bc292"/>
<rect x="50.54" y="368.13" width="6.94" height="5.51" fill="#6fc38b"/>
<rect x="56.98" y="368.13" width="6.94" height="5.51" fill="#94c83d"/>
<rect x="63.42" y="368.13" width="6.94" height="5.51" fill="#c8da2a"/>
<rect x="69.86" y="368.13" width="6.94" height="5.51" fill="#d0dd26"/>
<rect x="76.30" y="368.13" width="6.94" height="5.51" fill="#d6df23"/>
<rect x="82.75" y="368.13" width="6.94" height="5.51" fill="#dce021"/>
<rect x="89.19" y="368.13" width="6.94" height="5.51" fill="#e3e21d"/>
<rect x="95.63" y="368.13" width="6.94" height="5.51" fill="#ebe419"/>
<rect x="102.07" y="368.13" width="6.94" height="5.51" fill="#f5e714"/>
<rect x="108.51" y="368.13" width="13.38" height="5.51" fill="#fde310"/>
<rect x="121.39" y="368.13" width="6.94" height="5.51" fill="#fbe811"/>
<rect x="127.83" y="368.13" width="6.94" height="5.51" fill="#f9e812"/>
<rect x="134.27" y="368.13" width="6.94" height="5.51" fill="#fbe911"/>
<rect x="140.71" y="368.13" width="6.94" height="5.51" fill="#fddb11"/>
<rect x="147.15" y="368.13" width="6.94" height="5.51" fill="#fde810"/>
<rect x="153.60" y="368.13" width="6.94" height="5.51" fill="#d3de25"/>
<rect x="160.04" y="368.13" width="6.94" height="5.51" fill="#8ec63f"/>
<rect x="166.48" y="368.13" width="6.94" height="5.51" fill="#5bc0ae"/>
<rect x="172.92" y="368.13" width="6.94" height="5.51" fill="#2bbae6"/>
<rect x="179.36" y="368.13" width="6.44" height="5.51" fill="#3abed9"/>
<rect x="44.10" y="373.14" width="6.94" height="5.51" fill="#6cc292"/>
<rect x="50.54" y="373.14" width="6.94" height="5.51" fill="#70c38b"/>
<rect x="56.98" y="373.14" width="6.94" height="5.51" fill="#91c83e"/>
<rect x="63.42" y="373.14" width="6.94" height="5.51" fill="#bed62e"/>
<rect x="69.86" y="373.14" width="6.94" height="5.51" fill="#c7d92a"/>
<rect x="76.30" y="373.14" width="6.94" height="5.51" fill="#cddc27"/>
<rect x="82.75" y="373.14" width="6.94" height="5.51" fill="#d2dd25"/>
<rect x="89.19" y="373.14" width="6.94" height="5.51" fill="#d9e022"/>
<rect x="95.63" y="373.14" width="6.94" height="5.51" fill="#e1e21e"/>
<rect x="102.07" y="373.14" width="6.94" height="5.51" fill="#e7e31b"/>
<rect x="108.51" y="373.14" width="13.38" height="5.51" fill="#ece518"/>
<rect x="121.39" y="373.14" width="6.94" height="5.51" fill="#eae41a"/>
<rect x="127.83" y="373.14" width="6.94" height="5.51" fill="#e8e31a"/>
<rect x="134.27" y="373.14" width="6.94" height="5.51" fill="#e7e31b"/>
<rect x="140.71" y="373.14" width="6.94" height="5.51" fill="#eae41a"/>
<rect x="147.15" y="373.14" width="6.94" height="5.51" fill="#e4e21d"/>
<rect x="153.60" y="373.14" width="6.94" height="5.51" fill="#c5d92b"/>
<rect x="160.04" y="373.14" width="6.94" height="5.51" fill="#8cc63f"/>
<rect x="166.48" y="373.14" width="6.94" height="5.51" fill="#62c1a2"/>
<rect x="172.92" y="373.14" width="6.94" height="5.51" fill="#33bcdf"/>
<rect x="179.36" y="373.14" width="6.44" height="5.51" fill="#50c0bc"/>
<rect x="44.10" y="378.15" width="6.94" height="5.51" fill="#6cc291"/>
<rect x="50.54" y="378.15" width="6.94" height="5.51" fill="#6fc38b"/>
<rect x="56.98" y="378.15" width="6.94" height="5.51" fill="#8ac644"/>
<rect x="63.42" y="378.15" width="6.94" height="5.51" fill="#a4ce39"/>
<rect x="69.86" y="378.15" width="6.94" height="5.51" fill="#abd037"/>
<rect x="76.30" y="378.15" width="6.94" height="5.51" fill="#b1d234"/>
<rect x="82.75" y="378.15" width="6.94" height="5.51" fill="#b7d431"/>
<rect x="89.19" y="378.15" width="6.94" height="5.51" fill="#bdd62f"/>
<rect x="95.63" y="378.15" width="6.94" height="5.51" fill="#c3d82c"/>
<rect x="102.07" y="378.15" width="6.94" height="5.51" fill="#c7d92a"/>
<rect x="108.51" y="378.15" width="13.38" height="5.51" fill="#c8da2a"/>
<rect x="121.39" y="378.15" width="6.94" height="5.51" fill="#c7d92a"/>
<rect x="127.83" y="378.15" width="6.94" height="5.51" fill="#c5d92b"/>
<rect x="134.27" y="378.15" width="6.94" height="5.51" fill="#c3d82c"/>
<rect x="140.71" y="378.15" width="6.94" height="5.51" fill="#c1d72d"/>
<rect x="147.15" y="378.15" width="6.94" height="5.51" fill="#bed62e"/>
<rect x="153.60" y="378.15" width="6.94" height="5.51" fill="#a9cf38"/>
<rect x="160.04" y="378.15" width="6.94" height="5.51" fill="#88c54a"/>
<rect x="166.48" y="378.15" width="6.94" height="5.51" fill="#6dc390"/>
<rect x="172.92" y="378.15" width="6.94" height="5.51" fill="#5dc0ab"/>
<rect x="179.36" y="378.15" width="6.44" height="5.51" fill="#64c19e"/>
<rect x="44.10" y="383.15" width="6.94" height="5.51" fill="#6cc291"/>
<rect x="50.54" y="383.15" width="6.94" height="5.51" fill="#6fc38c"/>
<rect x="56.98" y="383.15" width="6.94" height="5.51" fill="#81c55c"/>
<rect x="63.42" y="383.15" width="6.94" height="5.51" fill="#93c83d"/>
<rect x="69.86" y="383.15" width="6.94" height="5.51" fill="#97c93c"/>
<rect x="76.30" y="383.15" width="6.94" height="5.51" fill="#9aca3c"/>
<rect x="82.75" y="383.15" width="6.94" height="5.51" fill="#9ccb3b"/>
<rect x="89.19" y="383.15" width="6.94" height="5.51" fill="#9fcc3b"/>
<rect x="95.63" y="383.15" width="6.94" height="5.51" fill="#a1cc3a"/>
<rect x="102.07" y="383.15" width="6.94" height="5.51" fill="#a2cd3a"/>
<rect x="108.51" y="383.15" width="13.38" height="5.51" fill="#a3cd3a"/>
<rect x="121.39" y="383.15" width="13.38" height="5.51" fill="#a2cd3a"/>
<rect x="134.27" y="383.15" width="6.94" height="5.51" fill="#a1cc3a"/>
<rect x="140.71" y="383.15" width="6.94" height="5.51" fill="#9fcc3b"/>
<rect x="147.15" y="383.15" width="6.94" height="5.51" fill="#9ecb3b"/>
<rect x="153.60" y="383.15" width="6.94" height="5.51" fill="#97c93c"/>
<rect x="160.04" y="383.15" width="6.94" height="5.51" fill="#82c55a"/>
<rect x="166.48" y="383.15" width="6.94" height="5.51" fill="#74c37f"/>
<rect x="172.92" y="383.15" width="6.94" height="5.51" fill="#6dc390"/>
<rect x="179.36" y="383.15" width="6.44" height="5.51" fill="#70c38a"/>
<rect x="44.10" y="388.16" width="6.94" height="5.51" fill="#6cc291"/>
<rect x="50.54" y="388.16" width="6.94" height="5.51" fill="#6ec38d"/>
<rect x="56.98" y="388.16" width="6.94" height="5.51" fill="#78c474"/>
<rect x="63.42" y="388.16" width="6.94" height="5.51" fill="#82c559"/>
<rect x="69.86" y="388.16" width="6.94" height="5.51" fill="#85c550"/>
<rect x="76.30" y="388.16" width="6.94" height="5.51" fill="#88c549"/>
<rect x="82.75" y="388.16" width="6.94" height="5.51" fill="#8ac643"/>
<rect x="89.19" y="388.16" width="6.94" height="5.51" fill="#8cc63f"/>
<rect x="95.63" y="388.16" width="6.94" height="5.51" fill="#8ec73f"/>
<rect x="102.07" y="388.16" width="26.26" height="5.51" fill="#8fc73e"/>
<rect x="127.83" y="388.16" width="6.94" height="5.51" fill="#8ec73e"/>
<rect x="134.27" y="388.16" width="6.94" height="5.51" fill="#8dc63f"/>
<rect x="140.71" y="388.16" width="6.94" height="5.51" fill="#8cc63f"/>
<rect x="147.15" y="388.16" width="6.94" height="5.51" fill="#8bc643"/>
<rect x="153.60" y="388.16" width="6.94" height="5.51" fill="#86c54d"/>
<rect x="160.04" y="388.16" width="6.94" height="5.51" fill="#7bc46b"/>
<rect x="166.48" y="388.16" width="6.94" height="5.51" fill="#74c380"/>
<rect x="172.92" y="388.16" width="6.94" height="5.51" fill="#73c383"/>
<rect x="179.36" y="388.16" width="6.44" height="5.51" fill="#72c385"/>
<rect x="44.10" y="393.17" width="6.94" height="5.51" fill="#6cc290"/>
<rect x="50.54" y="393.17" width="6.94" height="5.51" fill="#6ec38e"/>
<rect x="56.98" y="393.17" width="6.94" height="5.51" fill="#71c386"/>
<rect x="63.42" y="393.17" width="6.94" height="5.51" fill="#76c37a"/>
<rect x="69.86" y="393.17" width="6.94" height="5.51" fill="#78c473"/>
<rect x="76.30" y="393.17" width="6.94" height="5.51" fill="#7bc46d"/>
<rect x="82.75" y="393.17" width="6.94" height="5.51" fill="#7cc467"/>
<rect x="89.19" y="393.17" width="6.94" height="5.51" fill="#7ec464"/>
<rect x="95.63" y="393.17" width="6.94" height="5.51" fill="#7fc461"/>
<rect x="102.07" y="393.17" width="6.94" height="5.51" fill="#80c45f"/>
<rect x="108.51" y="393.17" width="13.38" height="5.51" fill="#80c45e"/>
<rect x="121.39" y="393.17" width="6.94" height="5.51" fill="#80c45f"/>
<rect x="127.83" y="393.17" width="6.94" height="5.51" fill="#7fc460"/>
<rect x="134.27" y="393.17" width="6.94" height="5.51" fill="#7ec463"/>
<rect x="140.71" y="393.17" width="6.94" height="5.51" fill="#7dc466"/>
<rect x="147.15" y="393.17" width="6.94" height="5.51" fill="#7cc469"/>
<rect x="153.60" y="393.17" width="6.94" height="5.51" fill="#7ac46e"/>
<rect x="160.04" y="393.17" width="6.94" height="5.51" fill="#76c379"/>
<rect x="166.48" y="393.17" width="6.94" height="5.51" fill="#73c381"/>
<rect x="172.92" y="393.17" width="6.94" height="5.51" fill="#72c384"/>
<rect x="179.36" y="393.17" width="6.44" height="5.51" fill="#71c386"/>
<rect x="44.10" y="398.17" width="6.94" height="5.51" fill="#6cc290"/>
<rect x="50.54" y="398.17" width="6.94" height="5.51" fill="#6dc38e"/>
<rect x="56.98" y="398.17" width="6.94" height="5.51" fill="#6fc38c"/>
<rect x="63.42" y="398.17" width="6.94" height="5.51" fill="#71c388"/>
<rect x="69.86" y="398.17" width="6.94" height="5.51" fill="#73c382"/>
<rect x="76.30" y="398.17" width="6.94" height="5.51" fill="#75c37c"/>
<rect x="82.75" y="398.17" width="6.94" height="5.51" fill="#77c478"/>
<rect x="89.19" y="398.17" width="6.94" height="5.51" fill="#78c475"/>
<rect x="95.63" y="398.17" width="6.94" height="5.51" fill="#78c472"/>
<rect x="102.07" y="398.17" width="6.94" height="5.51" fill="#79c471"/>
<rect x="108.51" y="398.17" width="13.38" height="5.51" fill="#79c470"/>
<rect x="121.39" y="398.17" width="6.94" height="5.51" fill="#79c471"/>
<rect x="127.83" y="398.17" width="6.94" height="5.51" fill="#78c472"/>
<rect x="134.27" y="398.17" width="6.94" height="5.51" fill="#78c475"/>
<rect x="140.71" y="398.17" width="6.94" height="5.51" fill="#77c477"/>
<rect x="147.15" y="398.17" width="6.94" height="5.51" fill="#76c37a"/>
<rect x="153.60" y="398.17" width="6.94" height="5.51" fill="#75c37d"/>
<rect x="160.04" y="398.17" width="6.94" height="5.51" fill="#74c380"/>
<rect x="166.48" y="398.17" width="6.94" height="5.51" fill="#73c382"/>
<rect x="172.92" y="398.17" width="6.94" height="5.51" fill="#72c385"/>
<rect x="179.36" y="398.17" width="6.44" height="5.51" fill="#71c387"/>
<rect x="44.10" y="403.18" width="6.94" height="5.51" fill="#6dc390"/>
<rect x="50.54" y="403.18" width="6.94" height="5.51" fill="#6dc38e"/>
<rect x="56.98" y="403.18" width="6.94" height="5.51" fill="#6fc38c"/>
<rect x="63.42" y="403.18" width="6.94" height="5.51" fill="#70c38a"/>
<rect x="69.86" y="403.18" width="6.94" height="5.51" fill="#72c384"/>
<rect x="76.30" y="403.18" width="6.94" height="5.51" fill="#74c37f"/>
<rect x="82.75" y="403.18" width="6.94" height="5.51" fill="#75c37b"/>
<rect x="89.19" y="403.18" width="6.94" height="5.51" fill="#76c378"/>
<rect x="95.63" y="403.18" width="6.94" height="5.51" fill="#77c477"/>
<rect x="102.07" y="403.18" width="6.94" height="5.51" fill="#77c475"/>
<rect x="108.51" y="403.18" width="13.38" height="5.51" fill="#78c475"/>
<rect x="121.39" y="403.18" width="6.94" height="5.51" fill="#77c475"/>
<rect x="127.83" y="403.18" width="6.94" height="5.51" fill="#77c477"/>
<rect x="134.27" y="403.18" width="6.94" height="5.51" fill="#76c378"/>
<rect x="140.71" y="403.18" width="6.94" height="5.51" fill="#76c37b"/>
<rect x="147.15" y="403.18" width="6.94" height="5.51" fill="#75c37d"/>
<rect x="153.60" y="403.18" width="6.94" height="5.51" fill="#74c37f"/>
<rect x="160.04" y="403.18" width="6.94" height="5.51" fill="#73c382"/>
<rect x="166.48" y="403.18" width="6.94" height="5.51" fill="#72c384"/>
<rect x="172.92" y="403.18" width="6.94" height="5.51" fill="#71c386"/>
<rect x="179.36" y="403.18" width="6.44" height="5.51" fill="#71c388"/>
<rect x="44.10" y="408.19" width="6.94" height="5.51" fill="#6dc390"/>
<rect x="50.54" y="408.19" width="6.94" height="5.51" fill="#6dc38e"/>
<rect x="56.98" y="408.19" width="6.94" height="5.51" fill="#6ec38d"/>
<rect x="63.42" y="408.19" width="6.94" height="5.51" fill="#70c38b"/>
<rect x="69.86" y="408.19" width="6.94" height="5.51" fill="#71c387"/>
<rect x="76.30" y="408.19" width="6.94" height="5.51" fill="#73c382"/>
<rect x="82.75" y="408.19" width="6.94" height="5.51" fill="#74c37f"/>
<rect x="89.19" y="408.19" width="6.94" height="5.51" fill="#75c37d"/>
<rect x="95.63" y="408.19" width="6.94" height="5.51" fill="#75c37b"/>
<rect x="102.07" y="408.19" width="26.26" height="5.51" fill="#76c37a"/>
<rect x="127.83" y="408.19" width="6.94" height="5.51" fill="#75c37b"/>
<rect x="134.27" y="408.19" width="6.94" height="5.51" fill="#75c37d"/>
<rect x="140.71" y="408.19" width="6.94" height="5.51" fill="#74c37e"/>
<rect x="147.15" y="408.19" width="6.94" height="5.51" fill="#74c380"/>
<rect x="153.60" y="408.19" width="6.94" height="5.51" fill="#73c382"/>
<rect x="160.04" y="408.19" width="6.94" height="5.51" fill="#72c384"/>
<rect x="166.48" y="408.19" width="6.94" height="5.51" fill="#71c386"/>
<rect x="172.92" y="408.19" width="6.94" height="5.51" fill="#71c388"/>
<rect x="179.36" y="408.19" width="6.44" height="5.51" fill="#70c389"/>
<rect x="44.10" y="413.19" width="6.94" height="5.51" fill="#6dc38f"/>
<rect x="50.54" y="413.19" width="6.94" height="5.51" fill="#6ec38e"/>
<rect x="56.98" y="413.19" width="6.94" height="5.51" fill="#6ec38d"/>
<rect x="63.42" y="413.19" width="6.94" height="5.51" fill="#6fc38b"/>
<rect x="69.86" y="413.19" width="6.94" height="5.51" fill="#70c389"/>
<rect x="76.30" y="413.19" width="6.94" height="5.51" fill="#72c385"/>
<rect x="82.75" y="413.19" width="6.94" height="5.51" fill="#73c382"/>
<rect x="89.19" y="413.19" width="6.94" height="5.51" fill="#73c381"/>
<rect x="95.63" y="413.19" width="6.94" height="5.51" fill="#74c380"/>
<rect x="102.07" y="413.19" width="6.94" height="5.51" fill="#74c37f"/>
<rect x="108.51" y="413.19" width="13.38" height="5.51" fill="#74c37e"/>
<rect x="121.39" y="413.19" width="6.94" height="5.51" fill="#74c37f"/>
<rect x="127.83" y="413.19" width="6.94" height="5.51" fill="#74c380"/>
<rect x="134.27" y="413.19" width="6.94" height="5.51" fill="#73c381"/>
<rect x="140.71" y="413.19" width="6.94" height="5.51" fill="#73c382"/>
<rect x="147.15" y="413.19" width="6.94" height="5.51" fill="#72c383"/>
<rect x="153.60" y="413.19" width="6.94" height="5.51" fill="#72c385"/>
<rect x="160.04" y="413.19" width="6.94" height="5.51" fill="#71c386"/>
<rect x="166.48" y="413.19" width="6.94" height="5.51" fill="#71c388"/>
<rect x="172.92" y="413.19" width="6.94" height="5.51" fill="#70c389"/>
<rect x="179.36" y="413.19" width="6.44" height="5.51" fill="#70c38a"/>
<rect x="44.10" y="418.20" width="6.94" height="5.51" fill="#6dc38f"/>
<rect x="50.54" y="418.20" width="6.94" height="5.51" fill="#6ec38e"/>
<rect x="56.98" y="418.20" width="6.94" height="5.51" fill="#6ec38d"/>
<rect x="63.42" y="418.20" width="6.94" height="5.51" fill="#6fc38b"/>
<rect x="69.86" y="418.20" width="6.94" height="5.51" fill="#70c38a"/>
<rect x="76.30" y="418.20" width="6.94" height="5.51" fill="#71c387"/>
<rect x="82.75" y="418.20" width="6.94" height="5.51" fill="#72c385"/>
<rect x="89.19" y="418.20" width="6.94" height="5.51" fill="#72c384"/>
<rect x="95.63" y="418.20" width="6.94" height="5.51" fill="#72c383"/>
<rect x="102.07" y="418.20" width="6.94" height="5.51" fill="#73c383"/>
<rect x="108.51" y="418.20" width="13.38" height="5.51" fill="#73c382"/>
<rect x="121.39" y="418.20" width="6.94" height="5.51" fill="#73c383"/>
<rect x="127.83" y="418.20" width="6.94" height="5.51" fill="#72c383"/>
<rect x="134.27" y="418.20" width="6.94" height="5.51" fill="#72c384"/>
<rect x="140.71" y="418.20" width="6.94" height="5.51" fill="#72c385"/>
<rect x="147.15" y="418.20" width="6.94" height="5.51" fill="#71c386"/>
<rect x="153.60" y="418.20" width="6.94" height="5.51" fill="#71c387"/>
<rect x="160.04" y="418.20" width="6.94" height="5.51" fill="#71c388"/>
<rect x="166.48" y="418.20" width="6.94" height="5.51" fill="#70c389"/>
<rect x="172.92" y="418.20" width="12.88" height="5.51" fill="#70c38a"/>
<rect x="44.10" y="423.21" width="6.94" height="5.51" fill="#6ec38e"/>
<rect x="50.54" y="423.21" width="13.38" height="5.51" fill="#6ec38d"/>
<rect x="63.42" y="423.21" width="6.94" height="5.51" fill="#6fc38c"/>
<rect x="69.86" y="423.21" width="6.94" height="5.51" fill="#70c38b"/>
<rect x="76.30" y="423.21" width="6.94" height="5.51" fill="#70c389"/>
<rect x="82.75" y="423.21" width="6.94" height="5.51" fill="#71c387"/>
<rect x="89.19" y="423.21" width="13.38" height="5.51" fill="#71c386"/>
<rect x="102.07" y="423.21" width="6.94" height="5.51" fill="#72c386"/>
<rect x="108.51" y="423.21" width="13.38" height="5.51" fill="#72c385"/>
<rect x="121.39" y="423.21" width="6.94" height="5.51" fill="#72c386"/>
<rect x="127.83" y="423.21" width="13.38" height="5.51" fill="#71c386"/>
<rect x="140.71" y="423.21" width="6.94" height="5.51" fill="#71c387"/>
<rect x="147.15" y="423.21" width="6.94" height="5.51" fill="#71c388"/>
<rect x="153.60" y="423.21" width="6.94" height="5.51" fill="#71c389"/>
<rect x="160.04" y="423.21" width="6.94" height="5.51" fill="#70c389"/>
<rect x="166.48" y="423.21" width="13.38" height="5.51" fill="#70c38a"/>
<rect x="179.36" y="423.21" width="6.44" height="5.51" fill="#70c38b"/>
<rect x="44.10" y="428.21" width="13.38" height="5.51" fill="#6ec38d"/>
<rect x="56.98" y="428.21" width="6.94" height="5.51" fill="#6fc38c"/>
<rect x="63.42" y="428.21" width="6.94" height="5.51" fill="#6fc38b"/>
<rect x="69.86" y="428.21" width="6.94" height="5.51" fill="#70c38b"/>
<rect x="76.30" y="428.21" width="6.94" height="5.51" fill="#70c38a"/>
<rect x="82.75" y="428.21" width="6.94" height="5.51" fill="#70c389"/>
<rect x="89.19" y="428.21" width="13.38" height="5.51" fill="#71c388"/>
<rect x="102.07" y="428.21" width="26.26" height="5.51" fill="#71c387"/>
<rect x="127.83" y="428.21" width="19.82" height="5.51" fill="#71c388"/>
<rect x="147.15" y="428.21" width="13.38" height="5.51" fill="#70c389"/>
<rect x="160.04" y="428.21" width="19.82" height="5.51" fill="#70c38a"/>
<rect x="179.36" y="428.21" width="6.44" height="5.51" fill="#70c38b"/>
<rect x="44.10" y="433.22" width="19.82" height="5.51" fill="#6fc38c"/>
<rect x="63.42" y="433.22" width="6.94" height="5.51" fill="#6fc38b"/>
<rect x="69.86" y="433.22" width="13.38" height="5.51" fill="#70c38a"/>
<rect x="82.75" y="433.22" width="13.38" height="5.51" fill="#70c389"/>
<rect x="95.63" y="433.22" width="6.94" height="5.51" fill="#71c389"/>
<rect x="102.07" y="433.22" width="26.26" height="5.51" fill="#71c388"/>
<rect x="127.83" y="433.22" width="6.94" height="5.51" fill="#71c389"/>
<rect x="134.27" y="433.22" width="19.82" height="5.51" fill="#70c389"/>
<rect x="153.60" y="433.22" width="32.20" height="5.51" fill="#70c38a"/>
<rect x="44.10" y="438.23" width="19.82" height="5.51" fill="#6fc38b"/>
<rect x="63.42" y="438.23" width="6.94" height="5.51" fill="#70c38b"/>
<rect x="69.86" y="438.23" width="13.38" height="5.51" fill="#70c38a"/>
<rect x="82.75" y="438.23" width="77.79" height="5.51" fill="#70c389"/>
<rect x="160.04" y="438.23" width="25.76" height="5.51" fill="#70c38a"/>
<rect x="44.10" y="443.23" width="26.26" height="5.51" fill="#70c38a"/>
<rect x="69.86" y="443.23" width="19.82" height="5.51" fill="#70c389"/>
<rect x="89.19" y="443.23" width="13.38" height="5.51" fill="#71c389"/>
<rect x="102.07" y="443.23" width="26.26" height="5.51" fill="#71c388"/>
<rect x="127.83" y="443.23" width="13.38" height="5.51" fill="#71c389"/>
<rect x="140.71" y="443.23" width="45.09" height="5.51" fill="#70c389"/>
<rect x="44.10" y="448.24" width="19.82" height="5.51" fill="#70c389"/>
<rect x="63.42" y="448.24" width="6.94" height="5.51" fill="#71c389"/>
<rect x="69.86" y="448.24" width="115.94" height="5.51" fill="#71c388"/>
<rect x="44.10" y="453.25" width="13.38" height="5.51" fill="#71c388"/>
<rect x="56.98" y="453.25" width="128.82" height="5.51" fill="#71c387"/>
<rect x="44.10" y="458.25" width="141.70" height="5.51" fill="#71c386"/>
<rect x="44.10" y="463.26" width="141.70" height="5.51" fill="#72c386"/>
<rect x="44.10" y="468.27" width="141.70" height="5.51" fill="#72c385"/>
<rect x="44.10" y="473.27" width="141.70" height="5.51" fill="#72c384"/>
<rect x="44.10" y="478.28" width="141.70" height="5.51" fill="#72c384"/>
<rect x="44.10" y="483.29" width="141.70" height="5.51" fill="#72c384"/>
<rect x="44.10" y="488.29" width="141.70" height="5.01" fill="#72c384"/>
</g>
<path d="M44.1 343.1V338.5H185.8V343.1" fill="none" stroke="#666" stroke-width="0.7"/>
<line x1="67.72" y1="338.5" x2="67.72" y2="340.1" stroke="#444" stroke-width="0.7"/>
<line x1="114.95" y1="338.5" x2="114.95" y2="340.1" stroke="#444" stroke-width="0.7"/>
<line x1="162.18" y1="338.5" x2="162.18" y2="340.1" stroke="#444" stroke-width="0.7"/>
<rect x="85.5" y="353" width="13.6" height="38.4" fill="none" stroke="#3fae62" stroke-width="2" opacity="0.85"/>
<rect x="112.3" y="342" width="5.4" height="100" fill="none" stroke="#5aa878" stroke-width="1.1" opacity="0.3"/>
<line x1="88.5" y1="392" x2="88.5" y2="436" stroke="#5aa878" stroke-width="1" opacity="0.18"/>
<line x1="110" y1="343" x2="117.5" y2="343" stroke="#555" stroke-width="0.9"/>
<circle cx="61.00" cy="342.9" r="2.1" fill="#57b947"/>
<circle cx="76.37" cy="342.9" r="2.1" fill="#57b947"/>
<circle cx="91.74" cy="342.9" r="2.1" fill="#57b947"/>
<circle cx="107.11" cy="342.9" r="2.1" fill="#57b947"/>
<circle cx="122.48" cy="342.9" r="2.1" fill="#57b947"/>
<circle cx="137.85" cy="342.9" r="2.1" fill="#57b947"/>
<circle cx="153.22" cy="342.9" r="2.1" fill="#57b947"/>
<circle cx="168.59" cy="342.9" r="2.1" fill="#57b947"/>
<text x="115.30" y="333.30" font-size="13.4" text-anchor="middle" fill="#231f20">Inverted Model</text>
<text x="12.50" y="327.20" font-size="24.5" text-anchor="start" fill="#231f20" letter-spacing="1.2">b.</text>
<text x="39.20" y="343.00" font-size="12.3" text-anchor="end" fill="#231f20">0</text>
<text x="39.20" y="391.70" font-size="12.3" text-anchor="end" fill="#231f20">0.1</text>
<text x="39.20" y="440.40" font-size="12.3" text-anchor="end" fill="#231f20">0.2</text>
<text x="39.20" y="489.10" font-size="12.3" text-anchor="end" fill="#231f20">0.3</text>
<text x="67.70" y="511.60" font-size="12.3" text-anchor="middle" fill="#231f20">-0.2</text>
<text x="115.00" y="511.60" font-size="12.3" text-anchor="middle" fill="#231f20">0</text>
<text x="162.30" y="511.60" font-size="12.3" text-anchor="middle" fill="#231f20">0.2</text>
<text x="115.30" y="528.40" font-size="13.4" text-anchor="middle" fill="#231f20">Y position (m)</text>
<text x="15.60" y="415.00" font-size="13.4" text-anchor="middle" fill="#231f20" transform="rotate(-90 15.60 415.00)">Z position (m)</text>
<linearGradient id="cbb" x1="0" y1="0" x2="0" y2="1">
<stop offset="0.0000" stop-color="#7d1516"/>
<stop offset="0.0316" stop-color="#a81e22"/>
<stop offset="0.0700" stop-color="#d92027"/>
<stop offset="0.1083" stop-color="#ed1c24"/>
<stop offset="0.1429" stop-color="#ec2227"/>
<stop offset="0.1582" stop-color="#ea3c27"/>
<stop offset="0.2023" stop-color="#f16523"/>
<stop offset="0.2426" stop-color="#f68c1f"/>
<stop offset="0.2809" stop-color="#f9a01b"/>
<stop offset="0.3116" stop-color="#fdb913"/>
<stop offset="0.3404" stop-color="#fde910"/>
<stop offset="0.3730" stop-color="#d7df23"/>
<stop offset="0.4228" stop-color="#a6ce39"/>
<stop offset="0.4803" stop-color="#8cc63f"/>
<stop offset="0.5149" stop-color="#7dc466"/>
<stop offset="0.5494" stop-color="#70c38a"/>
<stop offset="0.6222" stop-color="#5bc0ae"/>
<stop offset="0.6568" stop-color="#3cbfd8"/>
<stop offset="0.6721" stop-color="#25b8ea"/>
<stop offset="0.7066" stop-color="#2a8fd4"/>
<stop offset="0.7411" stop-color="#2b6cc0"/>
<stop offset="0.8159" stop-color="#2a55b0"/>
<stop offset="0.9137" stop-color="#2948a5"/>
<stop offset="0.9789" stop-color="#243b92"/>
<stop offset="1.0000" stop-color="#1f2f7a"/>
</linearGradient>
<rect x="213.8" y="339.3" width="14.70" height="153.00" fill="url(#cbb)"/>
<line x1="226.10" y1="371.19" x2="228.50" y2="371.19" stroke="#231f20" stroke-width="0.6" opacity="0.65"/>
<line x1="227.20" y1="345.65" x2="228.50" y2="345.65" stroke="#231f20" stroke-width="0.6" opacity="0.65"/>
<line x1="226.10" y1="456.04" x2="228.50" y2="456.04" stroke="#231f20" stroke-width="0.6" opacity="0.65"/>
<line x1="227.20" y1="430.50" x2="228.50" y2="430.50" stroke="#231f20" stroke-width="0.6" opacity="0.65"/>
<line x1="227.20" y1="415.56" x2="228.50" y2="415.56" stroke="#231f20" stroke-width="0.6" opacity="0.65"/>
<line x1="227.20" y1="404.95" x2="228.50" y2="404.95" stroke="#231f20" stroke-width="0.6" opacity="0.65"/>
<line x1="227.20" y1="396.73" x2="228.50" y2="396.73" stroke="#231f20" stroke-width="0.6" opacity="0.65"/>
<line x1="227.20" y1="390.01" x2="228.50" y2="390.01" stroke="#231f20" stroke-width="0.6" opacity="0.65"/>
<line x1="227.20" y1="384.33" x2="228.50" y2="384.33" stroke="#231f20" stroke-width="0.6" opacity="0.65"/>
<line x1="227.20" y1="379.41" x2="228.50" y2="379.41" stroke="#231f20" stroke-width="0.6" opacity="0.65"/>
<line x1="227.20" y1="375.07" x2="228.50" y2="375.07" stroke="#231f20" stroke-width="0.6" opacity="0.65"/>
<line x1="227.20" y1="489.80" x2="228.50" y2="489.80" stroke="#231f20" stroke-width="0.6" opacity="0.65"/>
<line x1="227.20" y1="481.58" x2="228.50" y2="481.58" stroke="#231f20" stroke-width="0.6" opacity="0.65"/>
<line x1="227.20" y1="474.86" x2="228.50" y2="474.86" stroke="#231f20" stroke-width="0.6" opacity="0.65"/>
<line x1="227.20" y1="469.18" x2="228.50" y2="469.18" stroke="#231f20" stroke-width="0.6" opacity="0.65"/>
<line x1="227.20" y1="464.26" x2="228.50" y2="464.26" stroke="#231f20" stroke-width="0.6" opacity="0.65"/>
<line x1="227.20" y1="459.92" x2="228.50" y2="459.92" stroke="#231f20" stroke-width="0.6" opacity="0.65"/>
<text x="233.40" y="377.90" font-size="11.3" fill="#231f20">10<tspan dy="-5.1" dx="0.6" font-size="8.4">-1</tspan></text>
<text x="233.40" y="461.80" font-size="11.3" fill="#231f20">10<tspan dy="-5.1" dx="0.6" font-size="8.4">-2</tspan></text>
<text x="268.00" y="415.70" font-size="10.8" text-anchor="middle" fill="#231f20" transform="rotate(-90 268.00 415.70)">Conductivity (S/m)</text>
<g shape-rendering="crispEdges" opacity="0.8">
<rect x="316.60" y="338.00" width="5.74" height="5.53" fill="#2bbae5"/>
<rect x="321.84" y="338.00" width="5.74" height="5.53" fill="#26b3e7"/>
<rect x="327.08" y="338.00" width="5.74" height="5.53" fill="#28a3df"/>
<rect x="332.32" y="338.00" width="5.74" height="5.53" fill="#2999d9"/>
<rect x="337.55" y="338.00" width="5.74" height="5.53" fill="#29b9e7"/>
<rect x="342.79" y="338.00" width="5.74" height="5.53" fill="#52c0bb"/>
<rect x="348.03" y="338.00" width="5.74" height="5.53" fill="#60c1a6"/>
<rect x="353.27" y="338.00" width="5.74" height="5.53" fill="#66c29b"/>
<rect x="358.51" y="338.00" width="5.74" height="5.53" fill="#69c295"/>
<rect x="363.75" y="338.00" width="5.74" height="5.53" fill="#6bc292"/>
<rect x="368.99" y="338.00" width="5.74" height="5.53" fill="#6ec38e"/>
<rect x="374.23" y="338.00" width="5.74" height="5.53" fill="#6fc38c"/>
<rect x="379.46" y="338.00" width="5.74" height="5.53" fill="#6fc38b"/>
<rect x="384.70" y="338.00" width="5.74" height="5.53" fill="#72c386"/>
<rect x="389.94" y="338.00" width="5.74" height="5.53" fill="#7cc46a"/>
<rect x="395.18" y="338.00" width="5.74" height="5.53" fill="#8fc73e"/>
<rect x="400.42" y="338.00" width="5.74" height="5.53" fill="#90c73e"/>
<rect x="405.66" y="338.00" width="5.74" height="5.53" fill="#93c83d"/>
<rect x="410.90" y="338.00" width="5.74" height="5.53" fill="#8bc640"/>
<rect x="416.14" y="338.00" width="5.74" height="5.53" fill="#7ec463"/>
<rect x="421.37" y="338.00" width="5.74" height="5.53" fill="#76c37b"/>
<rect x="426.61" y="338.00" width="5.74" height="5.53" fill="#70c389"/>
<rect x="431.85" y="338.00" width="5.74" height="5.53" fill="#6ec38d"/>
<rect x="437.09" y="338.00" width="5.74" height="5.53" fill="#64c19f"/>
<rect x="442.33" y="338.00" width="5.74" height="5.53" fill="#44bfcd"/>
<rect x="447.57" y="338.00" width="5.74" height="5.53" fill="#2b6abf"/>
<rect x="452.81" y="338.00" width="5.74" height="5.53" fill="#2948a5"/>
<rect x="458.05" y="338.00" width="20.95" height="5.53" fill="#27429c"/>
<rect x="316.60" y="343.03" width="5.74" height="5.53" fill="#2cbae4"/>
<rect x="321.84" y="343.03" width="5.74" height="5.53" fill="#26afe5"/>
<rect x="327.08" y="343.03" width="5.74" height="5.53" fill="#2a7fcb"/>
<rect x="332.32" y="343.03" width="5.74" height="5.53" fill="#2b64ba"/>
<rect x="337.55" y="343.03" width="5.74" height="5.53" fill="#2a8cd2"/>
<rect x="342.79" y="343.03" width="5.74" height="5.53" fill="#5ac0b0"/>
<rect x="348.03" y="343.03" width="5.74" height="5.53" fill="#66c29b"/>
<rect x="353.27" y="343.03" width="5.74" height="5.53" fill="#6ec38e"/>
<rect x="358.51" y="343.03" width="5.74" height="5.53" fill="#6fc38c"/>
<rect x="363.75" y="343.03" width="5.74" height="5.53" fill="#6fc38b"/>
<rect x="368.99" y="343.03" width="5.74" height="5.53" fill="#70c389"/>
<rect x="374.23" y="343.03" width="5.74" height="5.53" fill="#75c37d"/>
<rect x="379.46" y="343.03" width="5.74" height="5.53" fill="#7dc465"/>
<rect x="384.70" y="343.03" width="5.74" height="5.53" fill="#8dc63f"/>
<rect x="389.94" y="343.03" width="5.74" height="5.53" fill="#a0cc3a"/>
<rect x="395.18" y="343.03" width="5.74" height="5.53" fill="#b6d432"/>
<rect x="400.42" y="343.03" width="5.74" height="5.53" fill="#bad530"/>
<rect x="405.66" y="343.03" width="5.74" height="5.53" fill="#c4d82c"/>
<rect x="410.90" y="343.03" width="5.74" height="5.53" fill="#b9d431"/>
<rect x="416.14" y="343.03" width="5.74" height="5.53" fill="#a7ce39"/>
<rect x="421.37" y="343.03" width="5.74" height="5.53" fill="#9bcb3c"/>
<rect x="426.61" y="343.03" width="5.74" height="5.53" fill="#8ac644"/>
<rect x="431.85" y="343.03" width="5.74" height="5.53" fill="#7bc46c"/>
<rect x="437.09" y="343.03" width="5.74" height="5.53" fill="#6cc290"/>
<rect x="442.33" y="343.03" width="5.74" height="5.53" fill="#5ec0a9"/>
<rect x="447.57" y="343.03" width="5.74" height="5.53" fill="#29b9e7"/>
<rect x="452.81" y="343.03" width="5.74" height="5.53" fill="#2a54af"/>
<rect x="458.05" y="343.03" width="20.95" height="5.53" fill="#27429c"/>
<rect x="316.60" y="348.06" width="5.74" height="5.53" fill="#2cbae5"/>
<rect x="321.84" y="348.06" width="5.74" height="5.53" fill="#27a5e0"/>
<rect x="327.08" y="348.06" width="5.74" height="5.53" fill="#2b61b9"/>
<rect x="332.32" y="348.06" width="5.74" height="5.53" fill="#294ca9"/>
<rect x="337.55" y="348.06" width="5.74" height="5.53" fill="#2b61b8"/>
<rect x="342.79" y="348.06" width="5.74" height="5.53" fill="#5fc1a7"/>
<rect x="348.03" y="348.06" width="5.74" height="5.53" fill="#6ec38d"/>
<rect x="353.27" y="348.06" width="5.74" height="5.53" fill="#74c37e"/>
<rect x="358.51" y="348.06" width="5.74" height="5.53" fill="#7dc465"/>
<rect x="363.75" y="348.06" width="5.74" height="5.53" fill="#88c54a"/>
<rect x="368.99" y="348.06" width="5.74" height="5.53" fill="#93c83d"/>
<rect x="374.23" y="348.06" width="5.74" height="5.53" fill="#9fcc3b"/>
<rect x="379.46" y="348.06" width="5.74" height="5.53" fill="#add036"/>
<rect x="384.70" y="348.06" width="5.74" height="5.53" fill="#bbd52f"/>
<rect x="389.94" y="348.06" width="5.74" height="5.53" fill="#c2d82c"/>
<rect x="395.18" y="348.06" width="5.74" height="5.53" fill="#c4d82b"/>
<rect x="400.42" y="348.06" width="5.74" height="5.53" fill="#c5d92b"/>
<rect x="405.66" y="348.06" width="5.74" height="5.53" fill="#d3de25"/>
<rect x="410.90" y="348.06" width="5.74" height="5.53" fill="#c5d92b"/>
<rect x="416.14" y="348.06" width="5.74" height="5.53" fill="#c4d82c"/>
<rect x="421.37" y="348.06" width="5.74" height="5.53" fill="#c2d82d"/>
<rect x="426.61" y="348.06" width="5.74" height="5.53" fill="#b9d530"/>
<rect x="431.85" y="348.06" width="5.74" height="5.53" fill="#a6ce39"/>
<rect x="437.09" y="348.06" width="5.74" height="5.53" fill="#92c83e"/>
<rect x="442.33" y="348.06" width="5.74" height="5.53" fill="#69c295"/>
<rect x="447.57" y="348.06" width="5.74" height="5.53" fill="#52c0ba"/>
<rect x="452.81" y="348.06" width="5.74" height="5.53" fill="#2b7bc9"/>
<rect x="458.05" y="348.06" width="5.74" height="5.53" fill="#294ba7"/>
<rect x="463.28" y="348.06" width="15.72" height="5.53" fill="#27429c"/>
<rect x="316.60" y="353.10" width="5.74" height="5.53" fill="#2bbae5"/>
<rect x="321.84" y="353.10" width="5.74" height="5.53" fill="#28a0dd"/>
<rect x="327.08" y="353.10" width="5.74" height="5.53" fill="#2a59b3"/>
<rect x="332.32" y="353.10" width="5.74" height="5.53" fill="#27429d"/>
<rect x="337.55" y="353.10" width="5.74" height="5.53" fill="#2a56b0"/>
<rect x="342.79" y="353.10" width="5.74" height="5.53" fill="#61c1a4"/>
<rect x="348.03" y="353.10" width="5.74" height="5.53" fill="#7ac46e"/>
<rect x="353.27" y="353.10" width="5.74" height="5.53" fill="#9dcb3b"/>
<rect x="358.51" y="353.10" width="5.74" height="5.53" fill="#b2d234"/>
<rect x="363.75" y="353.10" width="5.74" height="5.53" fill="#bed62e"/>
<rect x="368.99" y="353.10" width="5.74" height="5.53" fill="#c3d82c"/>
<rect x="374.23" y="353.10" width="5.74" height="5.53" fill="#c4d82c"/>
<rect x="379.46" y="353.10" width="5.74" height="5.53" fill="#c4d82b"/>
<rect x="384.70" y="353.10" width="5.74" height="5.53" fill="#cada29"/>
<rect x="389.94" y="353.10" width="5.74" height="5.53" fill="#d2dd25"/>
<rect x="395.18" y="353.10" width="5.74" height="5.53" fill="#dae021"/>
<rect x="400.42" y="353.10" width="5.74" height="5.53" fill="#e0e11e"/>
<rect x="405.66" y="353.10" width="5.74" height="5.53" fill="#fde610"/>
<rect x="410.90" y="353.10" width="5.74" height="5.53" fill="#e3e21d"/>
<rect x="416.14" y="353.10" width="5.74" height="5.53" fill="#dae022"/>
<rect x="421.37" y="353.10" width="5.74" height="5.53" fill="#d3de25"/>
<rect x="426.61" y="353.10" width="5.74" height="5.53" fill="#c8da2a"/>
<rect x="431.85" y="353.10" width="5.74" height="5.53" fill="#c4d82b"/>
<rect x="437.09" y="353.10" width="5.74" height="5.53" fill="#c1d72d"/>
<rect x="442.33" y="353.10" width="5.74" height="5.53" fill="#94c93d"/>
<rect x="447.57" y="353.10" width="5.74" height="5.53" fill="#65c19d"/>
<rect x="452.81" y="353.10" width="5.74" height="5.53" fill="#3fbfd4"/>
<rect x="458.05" y="353.10" width="5.74" height="5.53" fill="#2a5ab3"/>
<rect x="463.28" y="353.10" width="5.74" height="5.53" fill="#27439e"/>
<rect x="468.52" y="353.10" width="10.48" height="5.53" fill="#27429c"/>
<rect x="316.60" y="358.13" width="5.74" height="5.53" fill="#2fbbe2"/>
<rect x="321.84" y="358.13" width="5.74" height="5.53" fill="#27aae3"/>
<rect x="327.08" y="358.13" width="5.74" height="5.53" fill="#2b63ba"/>
<rect x="332.32" y="358.13" width="5.74" height="5.53" fill="#294daa"/>
<rect x="337.55" y="358.13" width="5.74" height="5.53" fill="#2b68bd"/>
<rect x="342.79" y="358.13" width="5.74" height="5.53" fill="#67c299"/>
<rect x="348.03" y="358.13" width="5.74" height="5.53" fill="#8fc73e"/>
<rect x="353.27" y="358.13" width="5.74" height="5.53" fill="#b8d431"/>
<rect x="358.51" y="358.13" width="5.74" height="5.53" fill="#c3d82c"/>
<rect x="363.75" y="358.13" width="5.74" height="5.53" fill="#c4d82b"/>
<rect x="368.99" y="358.13" width="5.74" height="5.53" fill="#c5d92b"/>
<rect x="374.23" y="358.13" width="5.74" height="5.53" fill="#cedc27"/>
<rect x="379.46" y="358.13" width="5.74" height="5.53" fill="#d6df23"/>
<rect x="384.70" y="358.13" width="5.74" height="5.53" fill="#dee120"/>
<rect x="389.94" y="358.13" width="5.74" height="5.53" fill="#e4e31c"/>
<rect x="395.18" y="358.13" width="5.74" height="5.53" fill="#ebe419"/>
<rect x="400.42" y="358.13" width="5.74" height="5.53" fill="#f2e616"/>
<rect x="405.66" y="358.13" width="5.74" height="5.53" fill="#fdbb13"/>
<rect x="410.90" y="358.13" width="5.74" height="5.53" fill="#f5e714"/>
<rect x="416.14" y="358.13" width="5.74" height="5.53" fill="#ede518"/>
<rect x="421.37" y="358.13" width="5.74" height="5.53" fill="#e9e41a"/>
<rect x="426.61" y="358.13" width="5.74" height="5.53" fill="#dfe11f"/>
<rect x="431.85" y="358.13" width="5.74" height="5.53" fill="#d3de25"/>
<rect x="437.09" y="358.13" width="5.74" height="5.53" fill="#c4d82b"/>
<rect x="442.33" y="358.13" width="5.74" height="5.53" fill="#bcd62f"/>
<rect x="447.57" y="358.13" width="5.74" height="5.53" fill="#83c558"/>
<rect x="452.81" y="358.13" width="5.74" height="5.53" fill="#59c0b1"/>
<rect x="458.05" y="358.13" width="5.74" height="5.53" fill="#2a8ed3"/>
<rect x="463.28" y="358.13" width="5.74" height="5.53" fill="#294da9"/>
<rect x="468.52" y="358.13" width="10.48" height="5.53" fill="#27429c"/>
<rect x="316.60" y="363.16" width="5.74" height="5.53" fill="#35bdde"/>
<rect x="321.84" y="363.16" width="5.74" height="5.53" fill="#2abae6"/>
<rect x="327.08" y="363.16" width="5.74" height="5.53" fill="#2993d6"/>
<rect x="332.32" y="363.16" width="5.74" height="5.53" fill="#2b6fc2"/>
<rect x="337.55" y="363.16" width="5.74" height="5.53" fill="#45bfcb"/>
<rect x="342.79" y="363.16" width="5.74" height="5.53" fill="#73c381"/>
<rect x="348.03" y="363.16" width="5.74" height="5.53" fill="#9bcb3c"/>
<rect x="353.27" y="363.16" width="5.74" height="5.53" fill="#bfd72e"/>
<rect x="358.51" y="363.16" width="5.74" height="5.53" fill="#c4d82c"/>
<rect x="363.75" y="363.16" width="5.74" height="5.53" fill="#c4d82b"/>
<rect x="368.99" y="363.16" width="5.74" height="5.53" fill="#cbdb28"/>
<rect x="374.23" y="363.16" width="5.74" height="5.53" fill="#d3dd25"/>
<rect x="379.46" y="363.16" width="5.74" height="5.53" fill="#dbe021"/>
<rect x="384.70" y="363.16" width="5.74" height="5.53" fill="#e2e21d"/>
<rect x="389.94" y="363.16" width="5.74" height="5.53" fill="#e8e41a"/>
<rect x="395.18" y="363.16" width="5.74" height="5.53" fill="#efe517"/>
<rect x="400.42" y="363.16" width="5.74" height="5.53" fill="#f6e714"/>
<rect x="405.66" y="363.16" width="5.74" height="5.53" fill="#fbae17"/>
<rect x="410.90" y="363.16" width="5.74" height="5.53" fill="#f9e812"/>
<rect x="416.14" y="363.16" width="5.74" height="5.53" fill="#f2e615"/>
<rect x="421.37" y="363.16" width="5.74" height="5.53" fill="#f0e616"/>
<rect x="426.61" y="363.16" width="5.74" height="5.53" fill="#e8e31b"/>
<rect x="431.85" y="363.16" width="5.74" height="5.53" fill="#dee11f"/>
<rect x="437.09" y="363.16" width="5.74" height="5.53" fill="#d0dc26"/>
<rect x="442.33" y="363.16" width="5.74" height="5.53" fill="#c4d82c"/>
<rect x="447.57" y="363.16" width="5.74" height="5.53" fill="#a4cd39"/>
<rect x="452.81" y="363.16" width="5.74" height="5.53" fill="#67c29a"/>
<rect x="458.05" y="363.16" width="5.74" height="5.53" fill="#42bfcf"/>
<rect x="463.28" y="363.16" width="5.74" height="5.53" fill="#2a60b8"/>
<rect x="468.52" y="363.16" width="5.74" height="5.53" fill="#2845a0"/>
<rect x="473.76" y="363.16" width="5.24" height="5.53" fill="#27429c"/>
<rect x="316.60" y="368.19" width="5.74" height="5.53" fill="#3bbfd9"/>
<rect x="321.84" y="368.19" width="5.74" height="5.53" fill="#3cbfd8"/>
<rect x="327.08" y="368.19" width="5.74" height="5.53" fill="#3fbfd4"/>
<rect x="332.32" y="368.19" width="5.74" height="5.53" fill="#4cc0c2"/>
<rect x="337.55" y="368.19" width="5.74" height="5.53" fill="#67c299"/>
<rect x="342.79" y="368.19" width="5.74" height="5.53" fill="#83c556"/>
<rect x="348.03" y="368.19" width="5.74" height="5.53" fill="#a5ce39"/>
<rect x="353.27" y="368.19" width="5.74" height="5.53" fill="#c3d82c"/>
<rect x="358.51" y="368.19" width="5.74" height="5.53" fill="#c4d82b"/>
<rect x="363.75" y="368.19" width="5.74" height="5.53" fill="#c7da2a"/>
<rect x="368.99" y="368.19" width="5.74" height="5.53" fill="#d1dd26"/>
<rect x="374.23" y="368.19" width="5.74" height="5.53" fill="#d8df23"/>
<rect x="379.46" y="368.19" width="5.74" height="5.53" fill="#e0e11f"/>
<rect x="384.70" y="368.19" width="5.74" height="5.53" fill="#e6e31b"/>
<rect x="389.94" y="368.19" width="5.74" height="5.53" fill="#ece518"/>
<rect x="395.18" y="368.19" width="5.74" height="5.53" fill="#f2e616"/>
<rect x="400.42" y="368.19" width="5.74" height="5.53" fill="#fae812"/>
<rect x="405.66" y="368.19" width="5.74" height="5.53" fill="#faa41a"/>
<rect x="410.90" y="368.19" width="5.74" height="5.53" fill="#fde910"/>
<rect x="416.14" y="368.19" width="10.98" height="5.53" fill="#f7e713"/>
<rect x="426.61" y="368.19" width="5.74" height="5.53" fill="#f1e616"/>
<rect x="431.85" y="368.19" width="5.74" height="5.53" fill="#eae419"/>
<rect x="437.09" y="368.19" width="5.74" height="5.53" fill="#dee120"/>
<rect x="442.33" y="368.19" width="5.74" height="5.53" fill="#c5d92b"/>
<rect x="447.57" y="368.19" width="5.74" height="5.53" fill="#c3d82c"/>
<rect x="452.81" y="368.19" width="5.74" height="5.53" fill="#7fc461"/>
<rect x="458.05" y="368.19" width="5.74" height="5.53" fill="#5bc0ad"/>
<rect x="463.28" y="368.19" width="5.74" height="5.53" fill="#28a0dd"/>
<rect x="468.52" y="368.19" width="5.74" height="5.53" fill="#2a50ac"/>
<rect x="473.76" y="368.19" width="5.24" height="5.53" fill="#27429c"/>
<rect x="316.60" y="373.23" width="5.74" height="5.53" fill="#3fbfd5"/>
<rect x="321.84" y="373.23" width="5.74" height="5.53" fill="#44bfcd"/>
<rect x="327.08" y="373.23" width="5.74" height="5.53" fill="#56c0b5"/>
<rect x="332.32" y="373.23" width="5.74" height="5.53" fill="#64c19f"/>
<rect x="337.55" y="373.23" width="5.74" height="5.53" fill="#6fc38c"/>
<rect x="342.79" y="373.23" width="5.74" height="5.53" fill="#92c83e"/>
<rect x="348.03" y="373.23" width="5.74" height="5.53" fill="#b4d333"/>
<rect x="353.27" y="373.23" width="5.74" height="5.53" fill="#c4d82c"/>
<rect x="358.51" y="373.23" width="5.74" height="5.53" fill="#c5d92b"/>
<rect x="363.75" y="373.23" width="5.74" height="5.53" fill="#cedc27"/>
<rect x="368.99" y="373.23" width="5.74" height="5.53" fill="#d7df23"/>
<rect x="374.23" y="373.23" width="5.74" height="5.53" fill="#dee120"/>
<rect x="379.46" y="373.23" width="5.74" height="5.53" fill="#e5e31c"/>
<rect x="384.70" y="373.23" width="5.74" height="5.53" fill="#ebe419"/>
<rect x="389.94" y="373.23" width="5.74" height="5.53" fill="#f0e616"/>
<rect x="395.18" y="373.23" width="5.74" height="5.53" fill="#f5e714"/>
<rect x="400.42" y="373.23" width="5.74" height="5.53" fill="#fde910"/>
<rect x="405.66" y="373.23" width="5.74" height="5.53" fill="#f99f1b"/>
<rect x="410.90" y="373.23" width="5.74" height="5.53" fill="#fde410"/>
<rect x="416.14" y="373.23" width="5.74" height="5.53" fill="#fce910"/>
<rect x="421.37" y="373.23" width="5.74" height="5.53" fill="#fde910"/>
<rect x="426.61" y="373.23" width="5.74" height="5.53" fill="#fae811"/>
<rect x="431.85" y="373.23" width="5.74" height="5.53" fill="#f6e714"/>
<rect x="437.09" y="373.23" width="5.74" height="5.53" fill="#ede518"/>
<rect x="442.33" y="373.23" width="5.74" height="5.53" fill="#d7df23"/>
<rect x="447.57" y="373.23" width="5.74" height="5.53" fill="#c4d82b"/>
<rect x="452.81" y="373.23" width="5.74" height="5.53" fill="#a1cd3a"/>
<rect x="458.05" y="373.23" width="5.74" height="5.53" fill="#64c19f"/>
<rect x="463.28" y="373.23" width="5.74" height="5.53" fill="#41bfd2"/>
<rect x="468.52" y="373.23" width="5.74" height="5.53" fill="#2b67bc"/>
<rect x="473.76" y="373.23" width="5.24" height="5.53" fill="#2947a4"/>
<rect x="316.60" y="378.26" width="5.74" height="5.53" fill="#45bfcc"/>
<rect x="321.84" y="378.26" width="5.74" height="5.53" fill="#50c0bd"/>
<rect x="327.08" y="378.26" width="5.74" height="5.53" fill="#5fc1a7"/>
<rect x="332.32" y="378.26" width="5.74" height="5.53" fill="#6bc293"/>
<rect x="337.55" y="378.26" width="5.74" height="5.53" fill="#75c37d"/>
<rect x="342.79" y="378.26" width="5.74" height="5.53" fill="#9ecc3b"/>
<rect x="348.03" y="378.26" width="5.74" height="5.53" fill="#bdd62f"/>
<rect x="353.27" y="378.26" width="5.74" height="5.53" fill="#c4d82b"/>
<rect x="358.51" y="378.26" width="5.74" height="5.53" fill="#c9da29"/>
<rect x="363.75" y="378.26" width="5.74" height="5.53" fill="#d2dd25"/>
<rect x="368.99" y="378.26" width="5.74" height="5.53" fill="#dae022"/>
<rect x="374.23" y="378.26" width="5.74" height="5.53" fill="#e0e11e"/>
<rect x="379.46" y="378.26" width="5.74" height="5.53" fill="#e7e31b"/>
<rect x="384.70" y="378.26" width="5.74" height="5.53" fill="#ede518"/>
<rect x="389.94" y="378.26" width="5.74" height="5.53" fill="#f1e616"/>
<rect x="395.18" y="378.26" width="5.74" height="5.53" fill="#f6e713"/>
<rect x="400.42" y="378.26" width="5.74" height="5.53" fill="#fde810"/>
<rect x="405.66" y="378.26" width="5.74" height="5.53" fill="#f99f1b"/>
<rect x="410.90" y="378.26" width="5.74" height="5.53" fill="#fde210"/>
<rect x="416.14" y="378.26" width="5.74" height="5.53" fill="#fde810"/>
<rect x="421.37" y="378.26" width="5.74" height="5.53" fill="#fde610"/>
<rect x="426.61" y="378.26" width="5.74" height="5.53" fill="#fde910"/>
<rect x="431.85" y="378.26" width="5.74" height="5.53" fill="#fae812"/>
<rect x="437.09" y="378.26" width="5.74" height="5.53" fill="#f2e615"/>
<rect x="442.33" y="378.26" width="5.74" height="5.53" fill="#dee11f"/>
<rect x="447.57" y="378.26" width="5.74" height="5.53" fill="#cddb28"/>
<rect x="452.81" y="378.26" width="5.74" height="5.53" fill="#b4d333"/>
<rect x="458.05" y="378.26" width="5.74" height="5.53" fill="#6dc390"/>
<rect x="463.28" y="378.26" width="5.74" height="5.53" fill="#55c0b7"/>
<rect x="468.52" y="378.26" width="5.74" height="5.53" fill="#27abe3"/>
<rect x="473.76" y="378.26" width="5.24" height="5.53" fill="#2a53ae"/>
<rect x="316.60" y="383.29" width="5.74" height="5.53" fill="#4cc0c2"/>
<rect x="321.84" y="383.29" width="5.74" height="5.53" fill="#5cc0ad"/>
<rect x="327.08" y="383.29" width="5.74" height="5.53" fill="#65c19d"/>
<rect x="332.32" y="383.29" width="5.74" height="5.53" fill="#6fc38c"/>
<rect x="337.55" y="383.29" width="5.74" height="5.53" fill="#7ec463"/>
<rect x="342.79" y="383.29" width="5.74" height="5.53" fill="#aacf37"/>
<rect x="348.03" y="383.29" width="5.74" height="5.53" fill="#c1d72d"/>
<rect x="353.27" y="383.29" width="5.74" height="5.53" fill="#c4d82b"/>
<rect x="358.51" y="383.29" width="5.74" height="5.53" fill="#cddb28"/>
<rect x="363.75" y="383.29" width="5.74" height="5.53" fill="#d4de24"/>
<rect x="368.99" y="383.29" width="5.74" height="5.53" fill="#dce020"/>
<rect x="374.23" y="383.29" width="5.74" height="5.53" fill="#e2e21d"/>
<rect x="379.46" y="383.29" width="5.74" height="5.53" fill="#e8e41a"/>
<rect x="384.70" y="383.29" width="5.74" height="5.53" fill="#ede518"/>
<rect x="389.94" y="383.29" width="5.74" height="5.53" fill="#f2e616"/>
<rect x="395.18" y="383.29" width="5.74" height="5.53" fill="#f6e713"/>
<rect x="400.42" y="383.29" width="5.74" height="5.53" fill="#fde810"/>
<rect x="405.66" y="383.29" width="5.74" height="5.53" fill="#faa41a"/>
<rect x="410.90" y="383.29" width="5.74" height="5.53" fill="#fde210"/>
<rect x="416.14" y="383.29" width="5.74" height="5.53" fill="#fde710"/>
<rect x="421.37" y="383.29" width="5.74" height="5.53" fill="#fde610"/>
<rect x="426.61" y="383.29" width="5.74" height="5.53" fill="#fde910"/>
<rect x="431.85" y="383.29" width="5.74" height="5.53" fill="#fae811"/>
<rect x="437.09" y="383.29" width="5.74" height="5.53" fill="#f4e715"/>
<rect x="442.33" y="383.29" width="5.74" height="5.53" fill="#e1e21e"/>
<rect x="447.57" y="383.29" width="5.74" height="5.53" fill="#d0dd26"/>
<rect x="452.81" y="383.29" width="5.74" height="5.53" fill="#bad530"/>
<rect x="458.05" y="383.29" width="5.74" height="5.53" fill="#75c37b"/>
<rect x="463.28" y="383.29" width="5.74" height="5.53" fill="#60c1a5"/>
<rect x="468.52" y="383.29" width="5.74" height="5.53" fill="#31bce1"/>
<rect x="473.76" y="383.29" width="5.24" height="5.53" fill="#2b6fc2"/>
<rect x="316.60" y="388.32" width="5.74" height="5.53" fill="#53c0b8"/>
<rect x="321.84" y="388.32" width="5.74" height="5.53" fill="#60c1a6"/>
<rect x="327.08" y="388.32" width="5.74" height="5.53" fill="#6ac294"/>
<rect x="332.32" y="388.32" width="5.74" height="5.53" fill="#70c38b"/>
<rect x="337.55" y="388.32" width="5.74" height="5.53" fill="#8dc63f"/>
<rect x="342.79" y="388.32" width="5.74" height="5.53" fill="#b8d431"/>
<rect x="348.03" y="388.32" width="5.74" height="5.53" fill="#c3d82c"/>
<rect x="353.27" y="388.32" width="5.74" height="5.53" fill="#c6d92b"/>
<rect x="358.51" y="388.32" width="5.74" height="5.53" fill="#d0dd26"/>
<rect x="363.75" y="388.32" width="5.74" height="5.53" fill="#d7df23"/>
<rect x="368.99" y="388.32" width="5.74" height="5.53" fill="#dee11f"/>
<rect x="374.23" y="388.32" width="5.74" height="5.53" fill="#e4e21d"/>
<rect x="379.46" y="388.32" width="5.74" height="5.53" fill="#eae41a"/>
<rect x="384.70" y="388.32" width="5.74" height="5.53" fill="#eee517"/>
<rect x="389.94" y="388.32" width="5.74" height="5.53" fill="#f2e615"/>
<rect x="395.18" y="388.32" width="5.74" height="5.53" fill="#f6e713"/>
<rect x="400.42" y="388.32" width="5.74" height="5.53" fill="#fde910"/>
<rect x="405.66" y="388.32" width="5.74" height="5.53" fill="#fbad17"/>
<rect x="410.90" y="388.32" width="5.74" height="5.53" fill="#fde210"/>
<rect x="416.14" y="388.32" width="5.74" height="5.53" fill="#fde710"/>
<rect x="421.37" y="388.32" width="5.74" height="5.53" fill="#fde610"/>
<rect x="426.61" y="388.32" width="5.74" height="5.53" fill="#fde810"/>
<rect x="431.85" y="388.32" width="5.74" height="5.53" fill="#fbe911"/>
<rect x="437.09" y="388.32" width="5.74" height="5.53" fill="#f5e714"/>
<rect x="442.33" y="388.32" width="5.74" height="5.53" fill="#e4e21c"/>
<rect x="447.57" y="388.32" width="5.74" height="5.53" fill="#d4de25"/>
<rect x="452.81" y="388.32" width="5.74" height="5.53" fill="#bed62e"/>
<rect x="458.05" y="388.32" width="5.74" height="5.53" fill="#7cc46a"/>
<rect x="463.28" y="388.32" width="5.74" height="5.53" fill="#67c299"/>
<rect x="468.52" y="388.32" width="5.74" height="5.53" fill="#3cbfd8"/>
<rect x="473.76" y="388.32" width="5.24" height="5.53" fill="#25b5e8"/>
<rect x="316.60" y="393.35" width="5.74" height="5.53" fill="#5bc0ae"/>
<rect x="321.84" y="393.35" width="5.74" height="5.53" fill="#64c19f"/>
<rect x="327.08" y="393.35" width="5.74" height="5.53" fill="#6fc38c"/>
<rect x="332.32" y="393.35" width="5.74" height="5.53" fill="#75c37c"/>
<rect x="337.55" y="393.35" width="5.74" height="5.53" fill="#9ccb3b"/>
<rect x="342.79" y="393.35" width="5.74" height="5.53" fill="#c0d72d"/>
<rect x="348.03" y="393.35" width="5.74" height="5.53" fill="#c4d82c"/>
<rect x="353.27" y="393.35" width="5.74" height="5.53" fill="#cadb29"/>
<rect x="358.51" y="393.35" width="5.74" height="5.53" fill="#d3de25"/>
<rect x="363.75" y="393.35" width="5.74" height="5.53" fill="#dae022"/>
<rect x="368.99" y="393.35" width="5.74" height="5.53" fill="#e1e21e"/>
<rect x="374.23" y="393.35" width="5.74" height="5.53" fill="#e6e31c"/>
<rect x="379.46" y="393.35" width="5.74" height="5.53" fill="#ebe419"/>
<rect x="384.70" y="393.35" width="5.74" height="5.53" fill="#efe517"/>
<rect x="389.94" y="393.35" width="5.74" height="5.53" fill="#f3e615"/>
<rect x="395.18" y="393.35" width="5.74" height="5.53" fill="#f6e713"/>
<rect x="400.42" y="393.35" width="5.74" height="5.53" fill="#fce910"/>
<rect x="405.66" y="393.35" width="5.74" height="5.53" fill="#fdb714"/>
<rect x="410.90" y="393.35" width="5.74" height="5.53" fill="#fde210"/>
<rect x="416.14" y="393.35" width="10.98" height="5.53" fill="#fde610"/>
<rect x="426.61" y="393.35" width="5.74" height="5.53" fill="#fde810"/>
<rect x="431.85" y="393.35" width="5.74" height="5.53" fill="#fce911"/>
<rect x="437.09" y="393.35" width="5.74" height="5.53" fill="#f7e713"/>
<rect x="442.33" y="393.35" width="5.74" height="5.53" fill="#e7e31b"/>
<rect x="447.57" y="393.35" width="5.74" height="5.53" fill="#d7df23"/>
<rect x="452.81" y="393.35" width="5.74" height="5.53" fill="#c1d72d"/>
<rect x="458.05" y="393.35" width="5.74" height="5.53" fill="#83c558"/>
<rect x="463.28" y="393.35" width="5.74" height="5.53" fill="#6cc290"/>
<rect x="468.52" y="393.35" width="5.74" height="5.53" fill="#45bfcc"/>
<rect x="473.76" y="393.35" width="5.24" height="5.53" fill="#2ebbe3"/>
<rect x="316.60" y="398.39" width="5.74" height="5.53" fill="#5cc0ac"/>
<rect x="321.84" y="398.39" width="5.74" height="5.53" fill="#66c29c"/>
<rect x="327.08" y="398.39" width="5.74" height="5.53" fill="#6fc38c"/>
<rect x="332.32" y="398.39" width="5.74" height="5.53" fill="#7ac46f"/>
<rect x="337.55" y="398.39" width="5.74" height="5.53" fill="#a2cd3a"/>
<rect x="342.79" y="398.39" width="5.74" height="5.53" fill="#c2d82c"/>
<rect x="348.03" y="398.39" width="5.74" height="5.53" fill="#c4d82b"/>
<rect x="353.27" y="398.39" width="5.74" height="5.53" fill="#ccdb28"/>
<rect x="358.51" y="398.39" width="5.74" height="5.53" fill="#d4de24"/>
<rect x="363.75" y="398.39" width="5.74" height="5.53" fill="#dae021"/>
<rect x="368.99" y="398.39" width="5.74" height="5.53" fill="#e1e21e"/>
<rect x="374.23" y="398.39" width="5.74" height="5.53" fill="#e6e31c"/>
<rect x="379.46" y="398.39" width="5.74" height="5.53" fill="#ebe419"/>
<rect x="384.70" y="398.39" width="5.74" height="5.53" fill="#efe517"/>
<rect x="389.94" y="398.39" width="5.74" height="5.53" fill="#f3e615"/>
<rect x="395.18" y="398.39" width="5.74" height="5.53" fill="#f6e713"/>
<rect x="400.42" y="398.39" width="5.74" height="5.53" fill="#fce911"/>
<rect x="405.66" y="398.39" width="5.74" height="5.53" fill="#fdc712"/>
<rect x="410.90" y="398.39" width="5.74" height="5.53" fill="#fde310"/>
<rect x="416.14" y="398.39" width="10.98" height="5.53" fill="#fde610"/>
<rect x="426.61" y="398.39" width="5.74" height="5.53" fill="#fde810"/>
<rect x="431.85" y="398.39" width="5.74" height="5.53" fill="#fce910"/>
<rect x="437.09" y="398.39" width="5.74" height="5.53" fill="#f7e713"/>
<rect x="442.33" y="398.39" width="5.74" height="5.53" fill="#e7e31b"/>
<rect x="447.57" y="398.39" width="5.74" height="5.53" fill="#d8df23"/>
<rect x="452.81" y="398.39" width="5.74" height="5.53" fill="#c2d82d"/>
<rect x="458.05" y="398.39" width="5.74" height="5.53" fill="#85c550"/>
<rect x="463.28" y="398.39" width="5.74" height="5.53" fill="#6ec38e"/>
<rect x="468.52" y="398.39" width="5.74" height="5.53" fill="#4cc0c2"/>
<rect x="473.76" y="398.39" width="5.24" height="5.53" fill="#35bdde"/>
<rect x="316.60" y="403.42" width="5.74" height="5.53" fill="#5dc0aa"/>
<rect x="321.84" y="403.42" width="5.74" height="5.53" fill="#67c299"/>
<rect x="327.08" y="403.42" width="5.74" height="5.53" fill="#6fc38c"/>
<rect x="332.32" y="403.42" width="5.74" height="5.53" fill="#7fc461"/>
<rect x="337.55" y="403.42" width="5.74" height="5.53" fill="#a7ce39"/>
<rect x="342.79" y="403.42" width="5.74" height="5.53" fill="#c3d82c"/>
<rect x="348.03" y="403.42" width="5.74" height="5.53" fill="#c4d82b"/>
<rect x="353.27" y="403.42" width="5.74" height="5.53" fill="#cddc27"/>
<rect x="358.51" y="403.42" width="5.74" height="5.53" fill="#d5de24"/>
<rect x="363.75" y="403.42" width="5.74" height="5.53" fill="#dbe021"/>
<rect x="368.99" y="403.42" width="5.74" height="5.53" fill="#e1e21e"/>
<rect x="374.23" y="403.42" width="5.74" height="5.53" fill="#e6e31c"/>
<rect x="379.46" y="403.42" width="5.74" height="5.53" fill="#ebe419"/>
<rect x="384.70" y="403.42" width="5.74" height="5.53" fill="#efe517"/>
<rect x="389.94" y="403.42" width="5.74" height="5.53" fill="#f3e615"/>
<rect x="395.18" y="403.42" width="5.74" height="5.53" fill="#f6e713"/>
<rect x="400.42" y="403.42" width="5.74" height="5.53" fill="#fbe811"/>
<rect x="405.66" y="403.42" width="5.74" height="5.53" fill="#fdd511"/>
<rect x="410.90" y="403.42" width="5.74" height="5.53" fill="#fde410"/>
<rect x="416.14" y="403.42" width="10.98" height="5.53" fill="#fde610"/>
<rect x="426.61" y="403.42" width="5.74" height="5.53" fill="#fde810"/>
<rect x="431.85" y="403.42" width="5.74" height="5.53" fill="#fce910"/>
<rect x="437.09" y="403.42" width="5.74" height="5.53" fill="#f7e713"/>
<rect x="442.33" y="403.42" width="5.74" height="5.53" fill="#e7e31b"/>
<rect x="447.57" y="403.42" width="5.74" height="5.53" fill="#d8df23"/>
<rect x="452.81" y="403.42" width="5.74" height="5.53" fill="#c2d82c"/>
<rect x="458.05" y="403.42" width="5.74" height="5.53" fill="#88c54a"/>
<rect x="463.28" y="403.42" width="5.74" height="5.53" fill="#6fc38d"/>
<rect x="468.52" y="403.42" width="5.74" height="5.53" fill="#51c0bb"/>
<rect x="473.76" y="403.42" width="5.24" height="5.53" fill="#3cbfd8"/>
<rect x="316.60" y="408.45" width="5.74" height="5.53" fill="#5ec0a9"/>
<rect x="321.84" y="408.45" width="5.74" height="5.53" fill="#69c297"/>
<rect x="327.08" y="408.45" width="5.74" height="5.53" fill="#6fc38b"/>
<rect x="332.32" y="408.45" width="5.74" height="5.53" fill="#85c551"/>
<rect x="337.55" y="408.45" width="5.74" height="5.53" fill="#aed135"/>
<rect x="342.79" y="408.45" width="5.74" height="5.53" fill="#c4d82c"/>
<rect x="348.03" y="408.45" width="5.74" height="5.53" fill="#c4d82b"/>
<rect x="353.27" y="408.45" width="5.74" height="5.53" fill="#cfdc27"/>
<rect x="358.51" y="408.45" width="5.74" height="5.53" fill="#d6df24"/>
<rect x="363.75" y="408.45" width="5.74" height="5.53" fill="#dbe021"/>
<rect x="368.99" y="408.45" width="5.74" height="5.53" fill="#e1e21e"/>
<rect x="374.23" y="408.45" width="5.74" height="5.53" fill="#e6e31c"/>
<rect x="379.46" y="408.45" width="5.74" height="5.53" fill="#ebe419"/>
<rect x="384.70" y="408.45" width="5.74" height="5.53" fill="#efe517"/>
<rect x="389.94" y="408.45" width="5.74" height="5.53" fill="#f3e615"/>
<rect x="395.18" y="408.45" width="5.74" height="5.53" fill="#f6e713"/>
<rect x="400.42" y="408.45" width="5.74" height="5.53" fill="#fae811"/>
<rect x="405.66" y="408.45" width="5.74" height="5.53" fill="#fddf11"/>
<rect x="410.90" y="408.45" width="5.74" height="5.53" fill="#fde510"/>
<rect x="416.14" y="408.45" width="10.98" height="5.53" fill="#fde610"/>
<rect x="426.61" y="408.45" width="5.74" height="5.53" fill="#fde810"/>
<rect x="431.85" y="408.45" width="5.74" height="5.53" fill="#fce910"/>
<rect x="437.09" y="408.45" width="5.74" height="5.53" fill="#f7e713"/>
<rect x="442.33" y="408.45" width="5.74" height="5.53" fill="#e7e31b"/>
<rect x="447.57" y="408.45" width="5.74" height="5.53" fill="#d8df23"/>
<rect x="452.81" y="408.45" width="5.74" height="5.53" fill="#c2d82c"/>
<rect x="458.05" y="408.45" width="5.74" height="5.53" fill="#8ac644"/>
<rect x="463.28" y="408.45" width="5.74" height="5.53" fill="#6fc38c"/>
<rect x="468.52" y="408.45" width="5.74" height="5.53" fill="#54c0b8"/>
<rect x="473.76" y="408.45" width="5.24" height="5.53" fill="#40bfd2"/>
<rect x="316.60" y="413.48" width="5.74" height="5.53" fill="#5fc1a7"/>
<rect x="321.84" y="413.48" width="5.74" height="5.53" fill="#6ac294"/>
<rect x="327.08" y="413.48" width="5.74" height="5.53" fill="#70c389"/>
<rect x="332.32" y="413.48" width="5.74" height="5.53" fill="#8cc63f"/>
<rect x="337.55" y="413.48" width="5.74" height="5.53" fill="#b5d332"/>
<rect x="342.79" y="413.48" width="5.74" height="5.53" fill="#c4d82c"/>
<rect x="348.03" y="413.48" width="5.74" height="5.53" fill="#c4d82b"/>
<rect x="353.27" y="413.48" width="5.74" height="5.53" fill="#d0dd26"/>
<rect x="358.51" y="413.48" width="5.74" height="5.53" fill="#d7df23"/>
<rect x="363.75" y="413.48" width="5.74" height="5.53" fill="#dce021"/>
<rect x="368.99" y="413.48" width="5.74" height="5.53" fill="#e1e21e"/>
<rect x="374.23" y="413.48" width="5.74" height="5.53" fill="#e6e31c"/>
<rect x="379.46" y="413.48" width="5.74" height="5.53" fill="#ebe419"/>
<rect x="384.70" y="413.48" width="5.74" height="5.53" fill="#efe517"/>
<rect x="389.94" y="413.48" width="5.74" height="5.53" fill="#f3e615"/>
<rect x="395.18" y="413.48" width="5.74" height="5.53" fill="#f6e713"/>
<rect x="400.42" y="413.48" width="5.74" height="5.53" fill="#fae811"/>
<rect x="405.66" y="413.48" width="5.74" height="5.53" fill="#fde410"/>
<rect x="410.90" y="413.48" width="5.74" height="5.53" fill="#fde510"/>
<rect x="416.14" y="413.48" width="10.98" height="5.53" fill="#fde610"/>
<rect x="426.61" y="413.48" width="5.74" height="5.53" fill="#fde810"/>
<rect x="431.85" y="413.48" width="5.74" height="5.53" fill="#fce910"/>
<rect x="437.09" y="413.48" width="5.74" height="5.53" fill="#f7e713"/>
<rect x="442.33" y="413.48" width="5.74" height="5.53" fill="#e7e31b"/>
<rect x="447.57" y="413.48" width="5.74" height="5.53" fill="#d8df23"/>
<rect x="452.81" y="413.48" width="5.74" height="5.53" fill="#c2d82c"/>
<rect x="458.05" y="413.48" width="5.74" height="5.53" fill="#8cc63f"/>
<rect x="463.28" y="413.48" width="5.74" height="5.53" fill="#6fc38c"/>
<rect x="468.52" y="413.48" width="5.74" height="5.53" fill="#57c0b4"/>
<rect x="473.76" y="413.48" width="5.24" height="5.53" fill="#43bfcf"/>
<rect x="316.60" y="418.52" width="5.74" height="5.53" fill="#5ec0a8"/>
<rect x="321.84" y="418.52" width="5.74" height="5.53" fill="#69c297"/>
<rect x="327.08" y="418.52" width="5.74" height="5.53" fill="#70c38b"/>
<rect x="332.32" y="418.52" width="5.74" height="5.53" fill="#88c648"/>
<rect x="337.55" y="418.52" width="5.74" height="5.53" fill="#b2d234"/>
<rect x="342.79" y="418.52" width="5.74" height="5.53" fill="#c4d82c"/>
<rect x="348.03" y="418.52" width="5.74" height="5.53" fill="#c4d82b"/>
<rect x="353.27" y="418.52" width="5.74" height="5.53" fill="#cfdc27"/>
<rect x="358.51" y="418.52" width="5.74" height="5.53" fill="#d6df24"/>
<rect x="363.75" y="418.52" width="5.74" height="5.53" fill="#dbe021"/>
<rect x="368.99" y="418.52" width="5.74" height="5.53" fill="#e1e21e"/>
<rect x="374.23" y="418.52" width="5.74" height="5.53" fill="#e6e31c"/>
<rect x="379.46" y="418.52" width="5.74" height="5.53" fill="#ebe419"/>
<rect x="384.70" y="418.52" width="5.74" height="5.53" fill="#efe517"/>
<rect x="389.94" y="418.52" width="5.74" height="5.53" fill="#f3e615"/>
<rect x="395.18" y="418.52" width="5.74" height="5.53" fill="#f6e713"/>
<rect x="400.42" y="418.52" width="5.74" height="5.53" fill="#fae812"/>
<rect x="405.66" y="418.52" width="5.74" height="5.53" fill="#fde710"/>
<rect x="410.90" y="418.52" width="10.98" height="5.53" fill="#fde510"/>
<rect x="421.37" y="418.52" width="5.74" height="5.53" fill="#fde410"/>
<rect x="426.61" y="418.52" width="5.74" height="5.53" fill="#fde610"/>
<rect x="431.85" y="418.52" width="5.74" height="5.53" fill="#fde910"/>
<rect x="437.09" y="418.52" width="5.74" height="5.53" fill="#f7e713"/>
<rect x="442.33" y="418.52" width="5.74" height="5.53" fill="#e7e31b"/>
<rect x="447.57" y="418.52" width="5.74" height="5.53" fill="#d7df23"/>
<rect x="452.81" y="418.52" width="5.74" height="5.53" fill="#c2d82c"/>
<rect x="458.05" y="418.52" width="5.74" height="5.53" fill="#8ac645"/>
<rect x="463.28" y="418.52" width="5.74" height="5.53" fill="#6fc38c"/>
<rect x="468.52" y="418.52" width="5.74" height="5.53" fill="#55c0b6"/>
<rect x="473.76" y="418.52" width="5.24" height="5.53" fill="#42bfd0"/>
<rect x="316.60" y="423.55" width="5.74" height="5.53" fill="#5ec0aa"/>
<rect x="321.84" y="423.55" width="5.74" height="5.53" fill="#67c299"/>
<rect x="327.08" y="423.55" width="5.74" height="5.53" fill="#6fc38b"/>
<rect x="332.32" y="423.55" width="5.74" height="5.53" fill="#85c551"/>
<rect x="337.55" y="423.55" width="5.74" height="5.53" fill="#aed135"/>
<rect x="342.79" y="423.55" width="5.74" height="5.53" fill="#c4d82c"/>
<rect x="348.03" y="423.55" width="5.74" height="5.53" fill="#c4d82b"/>
<rect x="353.27" y="423.55" width="5.74" height="5.53" fill="#cedc27"/>
<rect x="358.51" y="423.55" width="5.74" height="5.53" fill="#d5de24"/>
<rect x="363.75" y="423.55" width="5.74" height="5.53" fill="#dbe021"/>
<rect x="368.99" y="423.55" width="5.74" height="5.53" fill="#e1e21e"/>
<rect x="374.23" y="423.55" width="5.74" height="5.53" fill="#e6e31c"/>
<rect x="379.46" y="423.55" width="5.74" height="5.53" fill="#ebe419"/>
<rect x="384.70" y="423.55" width="5.74" height="5.53" fill="#efe517"/>
<rect x="389.94" y="423.55" width="5.74" height="5.53" fill="#f3e615"/>
<rect x="395.18" y="423.55" width="5.74" height="5.53" fill="#f6e713"/>
<rect x="400.42" y="423.55" width="5.74" height="5.53" fill="#fae812"/>
<rect x="405.66" y="423.55" width="5.74" height="5.53" fill="#fde810"/>
<rect x="410.90" y="423.55" width="5.74" height="5.53" fill="#fde510"/>
<rect x="416.14" y="423.55" width="5.74" height="5.53" fill="#fde410"/>
<rect x="421.37" y="423.55" width="5.74" height="5.53" fill="#fde210"/>
<rect x="426.61" y="423.55" width="5.74" height="5.53" fill="#fde410"/>
<rect x="431.85" y="423.55" width="5.74" height="5.53" fill="#fde810"/>
<rect x="437.09" y="423.55" width="5.74" height="5.53" fill="#f7e713"/>
<rect x="442.33" y="423.55" width="5.74" height="5.53" fill="#e6e31b"/>
<rect x="447.57" y="423.55" width="5.74" height="5.53" fill="#d6df23"/>
<rect x="452.81" y="423.55" width="5.74" height="5.53" fill="#c1d82d"/>
<rect x="458.05" y="423.55" width="5.74" height="5.53" fill="#87c54b"/>
<rect x="463.28" y="423.55" width="5.74" height="5.53" fill="#6fc38c"/>
<rect x="468.52" y="423.55" width="5.74" height="5.53" fill="#53c0b9"/>
<rect x="473.76" y="423.55" width="5.24" height="5.53" fill="#41bfd1"/>
<rect x="316.60" y="428.58" width="5.74" height="5.53" fill="#5dc0ab"/>
<rect x="321.84" y="428.58" width="5.74" height="5.53" fill="#66c29c"/>
<rect x="327.08" y="428.58" width="5.74" height="5.53" fill="#6fc38c"/>
<rect x="332.32" y="428.58" width="5.74" height="5.53" fill="#82c55a"/>
<rect x="337.55" y="428.58" width="5.74" height="5.53" fill="#abd037"/>
<rect x="342.79" y="428.58" width="5.74" height="5.53" fill="#c3d82c"/>
<rect x="348.03" y="428.58" width="5.74" height="5.53" fill="#c4d82b"/>
<rect x="353.27" y="428.58" width="5.74" height="5.53" fill="#cddb28"/>
<rect x="358.51" y="428.58" width="5.74" height="5.53" fill="#d4de24"/>
<rect x="363.75" y="428.58" width="5.74" height="5.53" fill="#dae021"/>
<rect x="368.99" y="428.58" width="5.74" height="5.53" fill="#e1e21e"/>
<rect x="374.23" y="428.58" width="5.74" height="5.53" fill="#e6e31c"/>
<rect x="379.46" y="428.58" width="5.74" height="5.53" fill="#ebe419"/>
<rect x="384.70" y="428.58" width="5.74" height="5.53" fill="#efe517"/>
<rect x="389.94" y="428.58" width="5.74" height="5.53" fill="#f3e615"/>
<rect x="395.18" y="428.58" width="5.74" height="5.53" fill="#f6e713"/>
<rect x="400.42" y="428.58" width="5.74" height="5.53" fill="#fae812"/>
<rect x="405.66" y="428.58" width="5.74" height="5.53" fill="#fde810"/>
<rect x="410.90" y="428.58" width="5.74" height="5.53" fill="#fde510"/>
<rect x="416.14" y="428.58" width="5.74" height="5.53" fill="#fde210"/>
<rect x="421.37" y="428.58" width="5.74" height="5.53" fill="#fddf11"/>
<rect x="426.61" y="428.58" width="5.74" height="5.53" fill="#fde110"/>
<rect x="431.85" y="428.58" width="5.74" height="5.53" fill="#fde610"/>
<rect x="437.09" y="428.58" width="5.74" height="5.53" fill="#f7e813"/>
<rect x="442.33" y="428.58" width="5.74" height="5.53" fill="#e6e31c"/>
<rect x="447.57" y="428.58" width="5.74" height="5.53" fill="#d5de24"/>
<rect x="452.81" y="428.58" width="5.74" height="5.53" fill="#c1d72d"/>
<rect x="458.05" y="428.58" width="5.74" height="5.53" fill="#85c551"/>
<rect x="463.28" y="428.58" width="5.74" height="5.53" fill="#6ec38d"/>
<rect x="468.52" y="428.58" width="5.74" height="5.53" fill="#51c0bb"/>
<rect x="473.76" y="428.58" width="5.24" height="5.53" fill="#41bfd1"/>
<rect x="316.60" y="433.61" width="5.74" height="5.53" fill="#5cc0ad"/>
<rect x="321.84" y="433.61" width="5.74" height="5.53" fill="#64c19e"/>
<rect x="327.08" y="433.61" width="5.74" height="5.53" fill="#6fc38c"/>
<rect x="332.32" y="433.61" width="5.74" height="5.53" fill="#7dc465"/>
<rect x="337.55" y="433.61" width="5.74" height="5.53" fill="#a6ce39"/>
<rect x="342.79" y="433.61" width="5.74" height="5.53" fill="#c3d82c"/>
<rect x="348.03" y="433.61" width="5.74" height="5.53" fill="#c4d82b"/>
<rect x="353.27" y="433.61" width="5.74" height="5.53" fill="#ccdb28"/>
<rect x="358.51" y="433.61" width="5.74" height="5.53" fill="#d4de25"/>
<rect x="363.75" y="433.61" width="5.74" height="5.53" fill="#dae022"/>
<rect x="368.99" y="433.61" width="5.74" height="5.53" fill="#e1e21e"/>
<rect x="374.23" y="433.61" width="5.74" height="5.53" fill="#e6e31c"/>
<rect x="379.46" y="433.61" width="5.74" height="5.53" fill="#ebe419"/>
<rect x="384.70" y="433.61" width="5.74" height="5.53" fill="#efe517"/>
<rect x="389.94" y="433.61" width="5.74" height="5.53" fill="#f3e615"/>
<rect x="395.18" y="433.61" width="5.74" height="5.53" fill="#f6e713"/>
<rect x="400.42" y="433.61" width="5.74" height="5.53" fill="#fae812"/>
<rect x="405.66" y="433.61" width="5.74" height="5.53" fill="#fde910"/>
<rect x="410.90" y="433.61" width="5.74" height="5.53" fill="#fde410"/>
<rect x="416.14" y="433.61" width="5.74" height="5.53" fill="#fde111"/>
<rect x="421.37" y="433.61" width="5.74" height="5.53" fill="#fddb11"/>
<rect x="426.61" y="433.61" width="5.74" height="5.53" fill="#fddd11"/>
<rect x="431.85" y="433.61" width="5.74" height="5.53" fill="#fde310"/>
<rect x="437.09" y="433.61" width="5.74" height="5.53" fill="#f8e812"/>
<rect x="442.33" y="433.61" width="5.74" height="5.53" fill="#e5e31c"/>
<rect x="447.57" y="433.61" width="5.74" height="5.53" fill="#d4de24"/>
<rect x="452.81" y="433.61" width="5.74" height="5.53" fill="#c0d72d"/>
<rect x="458.05" y="433.61" width="5.74" height="5.53" fill="#81c55c"/>
<rect x="463.28" y="433.61" width="5.74" height="5.53" fill="#6dc38f"/>
<rect x="468.52" y="433.61" width="5.74" height="5.53" fill="#4fc0be"/>
<rect x="473.76" y="433.61" width="5.24" height="5.53" fill="#40bfd3"/>
<rect x="316.60" y="438.65" width="5.74" height="5.53" fill="#56c0b4"/>
<rect x="321.84" y="438.65" width="5.74" height="5.53" fill="#60c1a5"/>
<rect x="327.08" y="438.65" width="5.74" height="5.53" fill="#6ec38e"/>
<rect x="332.32" y="438.65" width="5.74" height="5.53" fill="#74c37f"/>
<rect x="337.55" y="438.65" width="5.74" height="5.53" fill="#9ccb3b"/>
<rect x="342.79" y="438.65" width="5.74" height="5.53" fill="#c1d72d"/>
<rect x="348.03" y="438.65" width="5.74" height="5.53" fill="#c4d82c"/>
<rect x="353.27" y="438.65" width="5.74" height="5.53" fill="#c9da29"/>
<rect x="358.51" y="438.65" width="5.74" height="5.53" fill="#d2dd25"/>
<rect x="363.75" y="438.65" width="5.74" height="5.53" fill="#d8df22"/>
<rect x="368.99" y="438.65" width="5.74" height="5.53" fill="#e0e11f"/>
<rect x="374.23" y="438.65" width="5.74" height="5.53" fill="#e5e31c"/>
<rect x="379.46" y="438.65" width="5.74" height="5.53" fill="#eae41a"/>
<rect x="384.70" y="438.65" width="5.74" height="5.53" fill="#eee517"/>
<rect x="389.94" y="438.65" width="5.74" height="5.53" fill="#f2e615"/>
<rect x="395.18" y="438.65" width="5.74" height="5.53" fill="#f6e713"/>
<rect x="400.42" y="438.65" width="5.74" height="5.53" fill="#fae812"/>
<rect x="405.66" y="438.65" width="5.74" height="5.53" fill="#fde910"/>
<rect x="410.90" y="438.65" width="5.74" height="5.53" fill="#fde410"/>
<rect x="416.14" y="438.65" width="5.74" height="5.53" fill="#fdde11"/>
<rect x="421.37" y="438.65" width="10.98" height="5.53" fill="#fdd611"/>
<rect x="431.85" y="438.65" width="5.74" height="5.53" fill="#fddd11"/>
<rect x="437.09" y="438.65" width="5.74" height="5.53" fill="#f9e812"/>
<rect x="442.33" y="438.65" width="5.74" height="5.53" fill="#e3e21d"/>
<rect x="447.57" y="438.65" width="5.74" height="5.53" fill="#d1dd26"/>
<rect x="452.81" y="438.65" width="5.74" height="5.53" fill="#b9d530"/>
<rect x="458.05" y="438.65" width="5.74" height="5.53" fill="#76c37a"/>
<rect x="463.28" y="438.65" width="5.74" height="5.53" fill="#69c297"/>
<rect x="468.52" y="438.65" width="5.74" height="5.53" fill="#4abfc5"/>
<rect x="473.76" y="438.65" width="5.24" height="5.53" fill="#3dbfd7"/>
<rect x="316.60" y="443.68" width="5.74" height="5.53" fill="#50c0bd"/>
<rect x="321.84" y="443.68" width="5.74" height="5.53" fill="#5dc0ab"/>
<rect x="327.08" y="443.68" width="5.74" height="5.53" fill="#69c297"/>
<rect x="332.32" y="443.68" width="5.74" height="5.53" fill="#6fc38b"/>
<rect x="337.55" y="443.68" width="5.74" height="5.53" fill="#91c83e"/>
<rect x="342.79" y="443.68" width="5.74" height="5.53" fill="#bdd62f"/>
<rect x="348.03" y="443.68" width="5.74" height="5.53" fill="#c4d82c"/>
<rect x="353.27" y="443.68" width="5.74" height="5.53" fill="#c7d92a"/>
<rect x="358.51" y="443.68" width="5.74" height="5.53" fill="#d0dd26"/>
<rect x="363.75" y="443.68" width="5.74" height="5.53" fill="#d7df23"/>
<rect x="368.99" y="443.68" width="5.74" height="5.53" fill="#dee11f"/>
<rect x="374.23" y="443.68" width="5.74" height="5.53" fill="#e4e21d"/>
<rect x="379.46" y="443.68" width="5.74" height="5.53" fill="#e9e41a"/>
<rect x="384.70" y="443.68" width="5.74" height="5.53" fill="#ede518"/>
<rect x="389.94" y="443.68" width="5.74" height="5.53" fill="#f2e616"/>
<rect x="395.18" y="443.68" width="5.74" height="5.53" fill="#f6e713"/>
<rect x="400.42" y="443.68" width="5.74" height="5.53" fill="#fae812"/>
<rect x="405.66" y="443.68" width="5.74" height="5.53" fill="#fde910"/>
<rect x="410.90" y="443.68" width="5.74" height="5.53" fill="#fde310"/>
<rect x="416.14" y="443.68" width="5.74" height="5.53" fill="#fddc11"/>
<rect x="421.37" y="443.68" width="5.74" height="5.53" fill="#fdd012"/>
<rect x="426.61" y="443.68" width="5.74" height="5.53" fill="#fdce12"/>
<rect x="431.85" y="443.68" width="5.74" height="5.53" fill="#fdd811"/>
<rect x="437.09" y="443.68" width="5.74" height="5.53" fill="#fbe811"/>
<rect x="442.33" y="443.68" width="5.74" height="5.53" fill="#e2e21e"/>
<rect x="447.57" y="443.68" width="5.74" height="5.53" fill="#cddc28"/>
<rect x="452.81" y="443.68" width="5.74" height="5.53" fill="#add036"/>
<rect x="458.05" y="443.68" width="5.74" height="5.53" fill="#6fc38c"/>
<rect x="463.28" y="443.68" width="5.74" height="5.53" fill="#63c1a0"/>
<rect x="468.52" y="443.68" width="5.74" height="5.53" fill="#44bfce"/>
<rect x="473.76" y="443.68" width="5.24" height="5.53" fill="#39bedb"/>
<rect x="316.60" y="448.71" width="5.74" height="5.53" fill="#49bfc7"/>
<rect x="321.84" y="448.71" width="5.74" height="5.53" fill="#54c0b8"/>
<rect x="327.08" y="448.71" width="5.74" height="5.53" fill="#62c1a1"/>
<rect x="332.32" y="448.71" width="5.74" height="5.53" fill="#6bc292"/>
<rect x="337.55" y="448.71" width="5.74" height="5.53" fill="#83c556"/>
<rect x="342.79" y="448.71" width="5.74" height="5.53" fill="#b6d432"/>
<rect x="348.03" y="448.71" width="5.74" height="5.53" fill="#c3d82c"/>
<rect x="353.27" y="448.71" width="5.74" height="5.53" fill="#c4d82b"/>
<rect x="358.51" y="448.71" width="5.74" height="5.53" fill="#cfdc27"/>
<rect x="363.75" y="448.71" width="5.74" height="5.53" fill="#d6df24"/>
<rect x="368.99" y="448.71" width="5.74" height="5.53" fill="#dde120"/>
<rect x="374.23" y="448.71" width="5.74" height="5.53" fill="#e2e21d"/>
<rect x="379.46" y="448.71" width="5.74" height="5.53" fill="#e8e31b"/>
<rect x="384.70" y="448.71" width="5.74" height="5.53" fill="#ede518"/>
<rect x="389.94" y="448.71" width="5.74" height="5.53" fill="#f1e616"/>
<rect x="395.18" y="448.71" width="5.74" height="5.53" fill="#f6e713"/>
<rect x="400.42" y="448.71" width="5.74" height="5.53" fill="#fae812"/>
<rect x="405.66" y="448.71" width="5.74" height="5.53" fill="#fde910"/>
<rect x="410.90" y="448.71" width="5.74" height="5.53" fill="#fde310"/>
<rect x="416.14" y="448.71" width="5.74" height="5.53" fill="#fdda11"/>
<rect x="421.37" y="448.71" width="5.74" height="5.53" fill="#fdcb12"/>
<rect x="426.61" y="448.71" width="5.74" height="5.53" fill="#fdc812"/>
<rect x="431.85" y="448.71" width="5.74" height="5.53" fill="#fdd311"/>
<rect x="437.09" y="448.71" width="5.74" height="5.53" fill="#fbe911"/>
<rect x="442.33" y="448.71" width="5.74" height="5.53" fill="#e0e11f"/>
<rect x="447.57" y="448.71" width="5.74" height="5.53" fill="#c8da2a"/>
<rect x="452.81" y="448.71" width="5.74" height="5.53" fill="#9fcc3b"/>
<rect x="458.05" y="448.71" width="5.74" height="5.53" fill="#69c296"/>
<rect x="463.28" y="448.71" width="5.74" height="5.53" fill="#5bc0ae"/>
<rect x="468.52" y="448.71" width="5.74" height="5.53" fill="#39beda"/>
<rect x="473.76" y="448.71" width="5.24" height="5.53" fill="#33bcdf"/>
<rect x="316.60" y="453.74" width="5.74" height="5.53" fill="#42bfd0"/>
<rect x="321.84" y="453.74" width="5.74" height="5.53" fill="#46bfcb"/>
<rect x="327.08" y="453.74" width="5.74" height="5.53" fill="#52c0ba"/>
<rect x="332.32" y="453.74" width="5.74" height="5.53" fill="#5fc1a6"/>
<rect x="337.55" y="453.74" width="5.74" height="5.53" fill="#70c389"/>
<rect x="342.79" y="453.74" width="5.74" height="5.53" fill="#a6ce39"/>
<rect x="348.03" y="453.74" width="5.74" height="5.53" fill="#c1d72d"/>
<rect x="353.27" y="453.74" width="5.74" height="5.53" fill="#c4d82b"/>
<rect x="358.51" y="453.74" width="5.74" height="5.53" fill="#ccdb28"/>
<rect x="363.75" y="453.74" width="5.74" height="5.53" fill="#d3de25"/>
<rect x="368.99" y="453.74" width="5.74" height="5.53" fill="#dbe021"/>
<rect x="374.23" y="453.74" width="5.74" height="5.53" fill="#e0e11e"/>
<rect x="379.46" y="453.74" width="5.74" height="5.53" fill="#e6e31c"/>
<rect x="384.70" y="453.74" width="5.74" height="5.53" fill="#ebe419"/>
<rect x="389.94" y="453.74" width="5.74" height="5.53" fill="#f0e616"/>
<rect x="395.18" y="453.74" width="5.74" height="5.53" fill="#f5e714"/>
<rect x="400.42" y="453.74" width="5.74" height="5.53" fill="#f9e812"/>
<rect x="405.66" y="453.74" width="5.74" height="5.53" fill="#fce910"/>
<rect x="410.90" y="453.74" width="5.74" height="5.53" fill="#fde410"/>
<rect x="416.14" y="453.74" width="5.74" height="5.53" fill="#fdda11"/>
<rect x="421.37" y="453.74" width="5.74" height="5.53" fill="#fdcb12"/>
<rect x="426.61" y="453.74" width="5.74" height="5.53" fill="#fdc812"/>
<rect x="431.85" y="453.74" width="5.74" height="5.53" fill="#fdd411"/>
<rect x="437.09" y="453.74" width="5.74" height="5.53" fill="#f9e812"/>
<rect x="442.33" y="453.74" width="5.74" height="5.53" fill="#dae021"/>
<rect x="447.57" y="453.74" width="5.74" height="5.53" fill="#bfd72e"/>
<rect x="452.81" y="453.74" width="5.74" height="5.53" fill="#8bc643"/>
<rect x="458.05" y="453.74" width="5.74" height="5.53" fill="#5bc0ae"/>
<rect x="463.28" y="453.74" width="5.74" height="5.53" fill="#25b7e9"/>
<rect x="468.52" y="453.74" width="5.74" height="5.53" fill="#26b2e7"/>
<rect x="473.76" y="453.74" width="5.24" height="5.53" fill="#2bbae5"/>
<rect x="316.60" y="458.77" width="5.74" height="5.53" fill="#3cbfd7"/>
<rect x="321.84" y="458.77" width="5.74" height="5.53" fill="#33bcdf"/>
<rect x="327.08" y="458.77" width="5.74" height="5.53" fill="#27a9e2"/>
<rect x="332.32" y="458.77" width="5.74" height="5.53" fill="#289edc"/>
<rect x="337.55" y="458.77" width="5.74" height="5.53" fill="#5cc0ac"/>
<rect x="342.79" y="458.77" width="5.74" height="5.53" fill="#95c93d"/>
<rect x="348.03" y="458.77" width="5.74" height="5.53" fill="#bad530"/>
<rect x="353.27" y="458.77" width="5.74" height="5.53" fill="#c4d82c"/>
<rect x="358.51" y="458.77" width="5.74" height="5.53" fill="#c6d92b"/>
<rect x="363.75" y="458.77" width="5.74" height="5.53" fill="#cedc27"/>
<rect x="368.99" y="458.77" width="5.74" height="5.53" fill="#d5de24"/>
<rect x="374.23" y="458.77" width="5.74" height="5.53" fill="#dbe021"/>
<rect x="379.46" y="458.77" width="5.74" height="5.53" fill="#e1e21e"/>
<rect x="384.70" y="458.77" width="5.74" height="5.53" fill="#e6e31b"/>
<rect x="389.94" y="458.77" width="5.74" height="5.53" fill="#ece518"/>
<rect x="395.18" y="458.77" width="5.74" height="5.53" fill="#f2e616"/>
<rect x="400.42" y="458.77" width="5.74" height="5.53" fill="#f5e714"/>
<rect x="405.66" y="458.77" width="5.74" height="5.53" fill="#f9e812"/>
<rect x="410.90" y="458.77" width="5.74" height="5.53" fill="#fde910"/>
<rect x="416.14" y="458.77" width="5.74" height="5.53" fill="#fde111"/>
<rect x="421.37" y="458.77" width="10.98" height="5.53" fill="#fdd411"/>
<rect x="431.85" y="458.77" width="5.74" height="5.53" fill="#fde111"/>
<rect x="437.09" y="458.77" width="5.74" height="5.53" fill="#efe517"/>
<rect x="442.33" y="458.77" width="5.74" height="5.53" fill="#cedc27"/>
<rect x="447.57" y="458.77" width="5.74" height="5.53" fill="#b8d431"/>
<rect x="452.81" y="458.77" width="5.74" height="5.53" fill="#6fc38b"/>
<rect x="458.05" y="458.77" width="5.74" height="5.53" fill="#2a90d5"/>
<rect x="463.28" y="458.77" width="5.74" height="5.53" fill="#2b6ec1"/>
<rect x="468.52" y="458.77" width="5.74" height="5.53" fill="#2996d8"/>
<rect x="473.76" y="458.77" width="5.24" height="5.53" fill="#25b7e9"/>
<rect x="316.60" y="463.81" width="5.74" height="5.53" fill="#33bcdf"/>
<rect x="321.84" y="463.81" width="5.74" height="5.53" fill="#26aee5"/>
<rect x="327.08" y="463.81" width="5.74" height="5.53" fill="#2b71c3"/>
<rect x="332.32" y="463.81" width="5.74" height="5.53" fill="#2a60b8"/>
<rect x="337.55" y="463.81" width="5.74" height="5.53" fill="#26ace4"/>
<rect x="342.79" y="463.81" width="5.74" height="5.53" fill="#83c558"/>
<rect x="348.03" y="463.81" width="5.74" height="5.53" fill="#aed135"/>
<rect x="353.27" y="463.81" width="5.74" height="5.53" fill="#c3d82c"/>
<rect x="358.51" y="463.81" width="5.74" height="5.53" fill="#c4d82b"/>
<rect x="363.75" y="463.81" width="5.74" height="5.53" fill="#c8da2a"/>
<rect x="368.99" y="463.81" width="5.74" height="5.53" fill="#d1dd26"/>
<rect x="374.23" y="463.81" width="5.74" height="5.53" fill="#d6df23"/>
<rect x="379.46" y="463.81" width="5.74" height="5.53" fill="#dce021"/>
<rect x="384.70" y="463.81" width="5.74" height="5.53" fill="#e2e21d"/>
<rect x="389.94" y="463.81" width="5.74" height="5.53" fill="#e8e41a"/>
<rect x="395.18" y="463.81" width="5.74" height="5.53" fill="#efe517"/>
<rect x="400.42" y="463.81" width="5.74" height="5.53" fill="#f2e616"/>
<rect x="405.66" y="463.81" width="5.74" height="5.53" fill="#f5e714"/>
<rect x="410.90" y="463.81" width="5.74" height="5.53" fill="#f9e812"/>
<rect x="416.14" y="463.81" width="5.74" height="5.53" fill="#fde810"/>
<rect x="421.37" y="463.81" width="5.74" height="5.53" fill="#fdde11"/>
<rect x="426.61" y="463.81" width="5.74" height="5.53" fill="#fde210"/>
<rect x="431.85" y="463.81" width="5.74" height="5.53" fill="#f8e813"/>
<rect x="437.09" y="463.81" width="5.74" height="5.53" fill="#e4e21c"/>
<rect x="442.33" y="463.81" width="5.74" height="5.53" fill="#c4d82b"/>
<rect x="447.57" y="463.81" width="5.74" height="5.53" fill="#b0d135"/>
<rect x="452.81" y="463.81" width="5.74" height="5.53" fill="#61c1a4"/>
<rect x="458.05" y="463.81" width="5.74" height="5.53" fill="#2b66bc"/>
<rect x="463.28" y="463.81" width="5.74" height="5.53" fill="#2a5fb7"/>
<rect x="468.52" y="463.81" width="5.74" height="5.53" fill="#2a83cd"/>
<rect x="473.76" y="463.81" width="5.24" height="5.53" fill="#26b1e6"/>
<rect x="316.60" y="468.84" width="5.74" height="5.53" fill="#2abae6"/>
<rect x="321.84" y="468.84" width="5.74" height="5.53" fill="#28a2de"/>
<rect x="327.08" y="468.84" width="5.74" height="5.53" fill="#2b68bd"/>
<rect x="332.32" y="468.84" width="5.74" height="5.53" fill="#2a58b2"/>
<rect x="337.55" y="468.84" width="5.74" height="5.53" fill="#2996d8"/>
<rect x="342.79" y="468.84" width="5.74" height="5.53" fill="#76c379"/>
<rect x="348.03" y="468.84" width="5.74" height="5.53" fill="#a3cd3a"/>
<rect x="353.27" y="468.84" width="5.74" height="5.53" fill="#c2d82d"/>
<rect x="358.51" y="468.84" width="5.74" height="5.53" fill="#c4d82c"/>
<rect x="363.75" y="468.84" width="5.74" height="5.53" fill="#c4d82b"/>
<rect x="368.99" y="468.84" width="5.74" height="5.53" fill="#ccdb28"/>
<rect x="374.23" y="468.84" width="5.74" height="5.53" fill="#d1dd25"/>
<rect x="379.46" y="468.84" width="5.74" height="5.53" fill="#d7df23"/>
<rect x="384.70" y="468.84" width="5.74" height="5.53" fill="#dee120"/>
<rect x="389.94" y="468.84" width="5.74" height="5.53" fill="#e4e31c"/>
<rect x="395.18" y="468.84" width="5.74" height="5.53" fill="#ebe419"/>
<rect x="400.42" y="468.84" width="5.74" height="5.53" fill="#efe517"/>
<rect x="405.66" y="468.84" width="5.74" height="5.53" fill="#f2e615"/>
<rect x="410.90" y="468.84" width="5.74" height="5.53" fill="#f5e714"/>
<rect x="416.14" y="468.84" width="5.74" height="5.53" fill="#f8e812"/>
<rect x="421.37" y="468.84" width="5.74" height="5.53" fill="#fde910"/>
<rect x="426.61" y="468.84" width="5.74" height="5.53" fill="#f8e813"/>
<rect x="431.85" y="468.84" width="5.74" height="5.53" fill="#ede518"/>
<rect x="437.09" y="468.84" width="5.74" height="5.53" fill="#d9e022"/>
<rect x="442.33" y="468.84" width="5.74" height="5.53" fill="#c4d82c"/>
<rect x="447.57" y="468.84" width="5.74" height="5.53" fill="#a5ce39"/>
<rect x="452.81" y="468.84" width="5.74" height="5.53" fill="#5ec0a9"/>
<rect x="458.05" y="468.84" width="5.74" height="5.53" fill="#2b68be"/>
<rect x="463.28" y="468.84" width="5.74" height="5.53" fill="#2b61b9"/>
<rect x="468.52" y="468.84" width="5.74" height="5.53" fill="#2a85ce"/>
<rect x="473.76" y="468.84" width="5.24" height="5.53" fill="#26b0e6"/>
<rect x="316.60" y="473.87" width="5.74" height="5.53" fill="#25b8ea"/>
<rect x="321.84" y="473.87" width="5.74" height="5.53" fill="#28a3df"/>
<rect x="327.08" y="473.87" width="5.74" height="5.53" fill="#2b70c3"/>
<rect x="332.32" y="473.87" width="5.74" height="5.53" fill="#2b65bb"/>
<rect x="337.55" y="473.87" width="5.74" height="5.53" fill="#25b6e9"/>
<rect x="342.79" y="473.87" width="5.74" height="5.53" fill="#6ac294"/>
<rect x="348.03" y="473.87" width="5.74" height="5.53" fill="#88c649"/>
<rect x="353.27" y="473.87" width="5.74" height="5.53" fill="#acd036"/>
<rect x="358.51" y="473.87" width="5.74" height="5.53" fill="#bed62e"/>
<rect x="363.75" y="473.87" width="5.74" height="5.53" fill="#c3d82c"/>
<rect x="368.99" y="473.87" width="5.74" height="5.53" fill="#c4d82c"/>
<rect x="374.23" y="473.87" width="5.74" height="5.53" fill="#c4d82b"/>
<rect x="379.46" y="473.87" width="5.74" height="5.53" fill="#c9da29"/>
<rect x="384.70" y="473.87" width="5.74" height="5.53" fill="#d1dd26"/>
<rect x="389.94" y="473.87" width="5.74" height="5.53" fill="#d9e022"/>
<rect x="395.18" y="473.87" width="5.74" height="5.53" fill="#e2e21e"/>
<rect x="400.42" y="473.87" width="5.74" height="5.53" fill="#e6e31c"/>
<rect x="405.66" y="473.87" width="5.74" height="5.53" fill="#eae41a"/>
<rect x="410.90" y="473.87" width="5.74" height="5.53" fill="#ede518"/>
<rect x="416.14" y="473.87" width="5.74" height="5.53" fill="#efe517"/>
<rect x="421.37" y="473.87" width="5.74" height="5.53" fill="#f1e616"/>
<rect x="426.61" y="473.87" width="5.74" height="5.53" fill="#e8e41a"/>
<rect x="431.85" y="473.87" width="5.74" height="5.53" fill="#dbe021"/>
<rect x="437.09" y="473.87" width="5.74" height="5.53" fill="#c8da2a"/>
<rect x="442.33" y="473.87" width="5.74" height="5.53" fill="#bdd62f"/>
<rect x="447.57" y="473.87" width="5.74" height="5.53" fill="#91c83e"/>
<rect x="452.81" y="473.87" width="5.74" height="5.53" fill="#63c1a0"/>
<rect x="458.05" y="473.87" width="5.74" height="5.53" fill="#2a93d6"/>
<rect x="463.28" y="473.87" width="5.74" height="5.53" fill="#2b75c5"/>
<rect x="468.52" y="473.87" width="5.74" height="5.53" fill="#2997d8"/>
<rect x="473.76" y="473.87" width="5.24" height="5.53" fill="#26b2e7"/>
<rect x="316.60" y="478.90" width="5.74" height="5.53" fill="#25b7e9"/>
<rect x="321.84" y="478.90" width="5.74" height="5.53" fill="#27abe3"/>
<rect x="327.08" y="478.90" width="5.74" height="5.53" fill="#2a91d5"/>
<rect x="332.32" y="478.90" width="5.74" height="5.53" fill="#2a8bd2"/>
<rect x="337.55" y="478.90" width="5.74" height="5.53" fill="#3cbfd8"/>
<rect x="342.79" y="478.90" width="5.74" height="5.53" fill="#65c19d"/>
<rect x="348.03" y="478.90" width="5.74" height="5.53" fill="#6fc38c"/>
<rect x="353.27" y="478.90" width="5.74" height="5.53" fill="#78c474"/>
<rect x="358.51" y="478.90" width="5.74" height="5.53" fill="#89c646"/>
<rect x="363.75" y="478.90" width="5.74" height="5.53" fill="#9aca3c"/>
<rect x="368.99" y="478.90" width="5.74" height="5.53" fill="#aacf37"/>
<rect x="374.23" y="478.90" width="5.74" height="5.53" fill="#bbd530"/>
<rect x="379.46" y="478.90" width="5.74" height="5.53" fill="#c2d82c"/>
<rect x="384.70" y="478.90" width="5.74" height="5.53" fill="#c4d82c"/>
<rect x="389.94" y="478.90" width="5.74" height="5.53" fill="#c5d92b"/>
<rect x="395.18" y="478.90" width="5.74" height="5.53" fill="#d1dd26"/>
<rect x="400.42" y="478.90" width="5.74" height="5.53" fill="#d5de24"/>
<rect x="405.66" y="478.90" width="5.74" height="5.53" fill="#d9df22"/>
<rect x="410.90" y="478.90" width="5.74" height="5.53" fill="#dce021"/>
<rect x="416.14" y="478.90" width="5.74" height="5.53" fill="#dde020"/>
<rect x="421.37" y="478.90" width="5.74" height="5.53" fill="#dee120"/>
<rect x="426.61" y="478.90" width="5.74" height="5.53" fill="#d1dd26"/>
<rect x="431.85" y="478.90" width="5.74" height="5.53" fill="#c5d92b"/>
<rect x="437.09" y="478.90" width="5.74" height="5.53" fill="#c2d82c"/>
<rect x="442.33" y="478.90" width="5.74" height="5.53" fill="#95c93d"/>
<rect x="447.57" y="478.90" width="5.74" height="5.53" fill="#71c388"/>
<rect x="452.81" y="478.90" width="5.74" height="5.53" fill="#65c19d"/>
<rect x="458.05" y="478.90" width="5.74" height="5.53" fill="#2ebbe3"/>
<rect x="463.28" y="478.90" width="5.74" height="5.53" fill="#289fdd"/>
<rect x="468.52" y="478.90" width="5.74" height="5.53" fill="#27abe3"/>
<rect x="473.76" y="478.90" width="5.24" height="5.53" fill="#25b6e9"/>
<rect x="316.60" y="483.94" width="5.74" height="5.53" fill="#25b7e9"/>
<rect x="321.84" y="483.94" width="5.74" height="5.53" fill="#26b1e6"/>
<rect x="327.08" y="483.94" width="5.74" height="5.53" fill="#27abe3"/>
<rect x="332.32" y="483.94" width="5.74" height="5.53" fill="#26aee4"/>
<rect x="337.55" y="483.94" width="5.74" height="5.53" fill="#3cbfd7"/>
<rect x="342.79" y="483.94" width="5.74" height="5.53" fill="#5ac0b0"/>
<rect x="348.03" y="483.94" width="5.74" height="5.53" fill="#66c29c"/>
<rect x="353.27" y="483.94" width="5.74" height="5.53" fill="#6fc38c"/>
<rect x="358.51" y="483.94" width="5.74" height="5.53" fill="#6fc38b"/>
<rect x="363.75" y="483.94" width="5.74" height="5.53" fill="#74c380"/>
<rect x="368.99" y="483.94" width="5.74" height="5.53" fill="#7ec463"/>
<rect x="374.23" y="483.94" width="5.74" height="5.53" fill="#90c73e"/>
<rect x="379.46" y="483.94" width="5.74" height="5.53" fill="#a2cd3a"/>
<rect x="384.70" y="483.94" width="5.74" height="5.53" fill="#b7d432"/>
<rect x="389.94" y="483.94" width="5.74" height="5.53" fill="#c2d82d"/>
<rect x="395.18" y="483.94" width="10.98" height="5.53" fill="#c4d82b"/>
<rect x="405.66" y="483.94" width="5.74" height="5.53" fill="#c7da2a"/>
<rect x="410.90" y="483.94" width="5.74" height="5.53" fill="#cadb29"/>
<rect x="416.14" y="483.94" width="5.74" height="5.53" fill="#cada29"/>
<rect x="421.37" y="483.94" width="5.74" height="5.53" fill="#c9da29"/>
<rect x="426.61" y="483.94" width="5.74" height="5.53" fill="#c4d92b"/>
<rect x="431.85" y="483.94" width="5.74" height="5.53" fill="#c0d72d"/>
<rect x="437.09" y="483.94" width="5.74" height="5.53" fill="#a4cd3a"/>
<rect x="442.33" y="483.94" width="5.74" height="5.53" fill="#77c477"/>
<rect x="447.57" y="483.94" width="5.74" height="5.53" fill="#6ec38d"/>
<rect x="452.81" y="483.94" width="5.74" height="5.53" fill="#60c1a5"/>
<rect x="458.05" y="483.94" width="5.74" height="5.53" fill="#3fbfd5"/>
<rect x="463.28" y="483.94" width="5.74" height="5.53" fill="#25b5e8"/>
<rect x="468.52" y="483.94" width="5.74" height="5.53" fill="#25b4e8"/>
<rect x="473.76" y="483.94" width="5.24" height="5.53" fill="#25b7ea"/>
<rect x="316.60" y="488.97" width="5.74" height="5.03" fill="#25b8ea"/>
<rect x="321.84" y="488.97" width="5.74" height="5.03" fill="#25b6e9"/>
<rect x="327.08" y="488.97" width="5.74" height="5.03" fill="#25b7e9"/>
<rect x="332.32" y="488.97" width="5.74" height="5.03" fill="#2bbae6"/>
<rect x="337.55" y="488.97" width="5.74" height="5.03" fill="#3dbfd7"/>
<rect x="342.79" y="488.97" width="5.74" height="5.03" fill="#4cc0c2"/>
<rect x="348.03" y="488.97" width="5.74" height="5.03" fill="#5dc0aa"/>
<rect x="353.27" y="488.97" width="5.74" height="5.03" fill="#64c19f"/>
<rect x="358.51" y="488.97" width="5.74" height="5.03" fill="#69c296"/>
<rect x="363.75" y="488.97" width="5.74" height="5.03" fill="#6ec38e"/>
<rect x="368.99" y="488.97" width="5.74" height="5.03" fill="#6fc38c"/>
<rect x="374.23" y="488.97" width="5.74" height="5.03" fill="#71c388"/>
<rect x="379.46" y="488.97" width="5.74" height="5.03" fill="#7ac470"/>
<rect x="384.70" y="488.97" width="5.74" height="5.03" fill="#8cc63f"/>
<rect x="389.94" y="488.97" width="5.74" height="5.03" fill="#a2cd3a"/>
<rect x="395.18" y="488.97" width="5.74" height="5.03" fill="#bbd530"/>
<rect x="400.42" y="488.97" width="5.74" height="5.03" fill="#c1d72d"/>
<rect x="405.66" y="488.97" width="5.74" height="5.03" fill="#c3d82c"/>
<rect x="410.90" y="488.97" width="16.22" height="5.03" fill="#c4d82c"/>
<rect x="426.61" y="488.97" width="5.74" height="5.03" fill="#bbd530"/>
<rect x="431.85" y="488.97" width="5.74" height="5.03" fill="#a0cc3a"/>
<rect x="437.09" y="488.97" width="5.74" height="5.03" fill="#83c557"/>
<rect x="442.33" y="488.97" width="5.74" height="5.03" fill="#6fc38b"/>
<rect x="447.57" y="488.97" width="5.74" height="5.03" fill="#67c299"/>
<rect x="452.81" y="488.97" width="5.74" height="5.03" fill="#5cc0ac"/>
<rect x="458.05" y="488.97" width="5.74" height="5.03" fill="#40bfd3"/>
<rect x="463.28" y="488.97" width="5.74" height="5.03" fill="#2abae6"/>
<rect x="468.52" y="488.97" width="5.74" height="5.03" fill="#25b7ea"/>
<rect x="473.76" y="488.97" width="5.24" height="5.03" fill="#25b8ea"/>
</g>
<circle cx="335.50" cy="361.70" r="2.2" fill="#57b947"/>
<circle cx="335.50" cy="377.17" r="2.2" fill="#57b947"/>
<circle cx="335.50" cy="392.64" r="2.2" fill="#57b947"/>
<circle cx="335.50" cy="408.11" r="2.2" fill="#57b947"/>
<circle cx="335.50" cy="423.58" r="2.2" fill="#57b947"/>
<circle cx="335.50" cy="439.05" r="2.2" fill="#57b947"/>
<circle cx="335.50" cy="454.52" r="2.2" fill="#57b947"/>
<circle cx="335.50" cy="469.99" r="2.2" fill="#57b947"/>
<circle cx="353.13" cy="361.70" r="2.2" fill="#57b947"/>
<circle cx="353.13" cy="377.17" r="2.2" fill="#57b947"/>
<circle cx="353.13" cy="392.64" r="2.2" fill="#57b947"/>
<circle cx="353.13" cy="408.11" r="2.2" fill="#57b947"/>
<circle cx="353.13" cy="423.58" r="2.2" fill="#57b947"/>
<circle cx="353.13" cy="439.05" r="2.2" fill="#57b947"/>
<circle cx="353.13" cy="454.52" r="2.2" fill="#57b947"/>
<circle cx="353.13" cy="469.99" r="2.2" fill="#57b947"/>
<circle cx="370.76" cy="361.70" r="2.2" fill="#57b947"/>
<circle cx="370.76" cy="377.17" r="2.2" fill="#57b947"/>
<circle cx="370.76" cy="392.64" r="2.2" fill="#57b947"/>
<circle cx="370.76" cy="408.11" r="2.2" fill="#57b947"/>
<circle cx="370.76" cy="423.58" r="2.2" fill="#57b947"/>
<circle cx="370.76" cy="439.05" r="2.2" fill="#57b947"/>
<circle cx="370.76" cy="454.52" r="2.2" fill="#57b947"/>
<circle cx="370.76" cy="469.99" r="2.2" fill="#57b947"/>
<circle cx="388.39" cy="361.70" r="2.2" fill="#57b947"/>
<circle cx="388.39" cy="377.17" r="2.2" fill="#57b947"/>
<circle cx="388.39" cy="392.64" r="2.2" fill="#57b947"/>
<circle cx="388.39" cy="408.11" r="2.2" fill="#57b947"/>
<circle cx="388.39" cy="423.58" r="2.2" fill="#57b947"/>
<circle cx="388.39" cy="439.05" r="2.2" fill="#57b947"/>
<circle cx="388.39" cy="454.52" r="2.2" fill="#57b947"/>
<circle cx="388.39" cy="469.99" r="2.2" fill="#57b947"/>
<circle cx="406.02" cy="361.70" r="2.2" fill="#57b947"/>
<circle cx="406.02" cy="377.17" r="2.2" fill="#57b947"/>
<circle cx="406.02" cy="392.64" r="2.2" fill="#57b947"/>
<circle cx="406.02" cy="408.11" r="2.2" fill="#57b947"/>
<circle cx="406.02" cy="423.58" r="2.2" fill="#57b947"/>
<circle cx="406.02" cy="439.05" r="2.2" fill="#57b947"/>
<circle cx="406.02" cy="454.52" r="2.2" fill="#57b947"/>
<circle cx="406.02" cy="469.99" r="2.2" fill="#57b947"/>
<circle cx="423.65" cy="361.70" r="2.2" fill="#57b947"/>
<circle cx="423.65" cy="377.17" r="2.2" fill="#57b947"/>
<circle cx="423.65" cy="392.64" r="2.2" fill="#57b947"/>
<circle cx="423.65" cy="408.11" r="2.2" fill="#57b947"/>
<circle cx="423.65" cy="423.58" r="2.2" fill="#57b947"/>
<circle cx="423.65" cy="439.05" r="2.2" fill="#57b947"/>
<circle cx="423.65" cy="454.52" r="2.2" fill="#57b947"/>
<circle cx="423.65" cy="469.99" r="2.2" fill="#57b947"/>
<circle cx="441.28" cy="361.70" r="2.2" fill="#57b947"/>
<circle cx="441.28" cy="377.17" r="2.2" fill="#57b947"/>
<circle cx="441.28" cy="392.64" r="2.2" fill="#57b947"/>
<circle cx="441.28" cy="408.11" r="2.2" fill="#57b947"/>
<circle cx="441.28" cy="423.58" r="2.2" fill="#57b947"/>
<circle cx="441.28" cy="439.05" r="2.2" fill="#57b947"/>
<circle cx="441.28" cy="454.52" r="2.2" fill="#57b947"/>
<circle cx="441.28" cy="469.99" r="2.2" fill="#57b947"/>
<circle cx="458.91" cy="361.70" r="2.2" fill="#57b947"/>
<circle cx="458.91" cy="377.17" r="2.2" fill="#57b947"/>
<circle cx="458.91" cy="392.64" r="2.2" fill="#57b947"/>
<circle cx="458.91" cy="408.11" r="2.2" fill="#57b947"/>
<circle cx="458.91" cy="423.58" r="2.2" fill="#57b947"/>
<circle cx="458.91" cy="439.05" r="2.2" fill="#57b947"/>
<circle cx="458.91" cy="454.52" r="2.2" fill="#57b947"/>
<circle cx="458.91" cy="469.99" r="2.2" fill="#57b947"/>
<rect x="363.4" y="404.9" width="17.2" height="22.2" fill="none" stroke="#000" stroke-width="2.9"/>
<rect x="393.9" y="411.4" width="8.0" height="9.8" fill="none" stroke="#000" stroke-width="2.7"/>
<text x="397.30" y="333.30" font-size="13.4" text-anchor="middle" fill="#231f20">Inverted Model</text>
<text x="280.50" y="326.90" font-size="24.5" text-anchor="start" fill="#231f20" letter-spacing="1.5">c.</text>
<text x="312.40" y="342.90" font-size="12.3" text-anchor="end" fill="#231f20">0.2</text>
<text x="312.40" y="381.90" font-size="12.3" text-anchor="end" fill="#231f20">0.1</text>
<text x="312.40" y="420.90" font-size="12.3" text-anchor="end" fill="#231f20">0</text>
<text x="312.40" y="459.90" font-size="12.3" text-anchor="end" fill="#231f20">-0.1</text>
<text x="312.40" y="498.90" font-size="12.3" text-anchor="end" fill="#231f20">-0.2</text>
<text x="342.70" y="510.30" font-size="12.3" text-anchor="middle" fill="#231f20">-0.2</text>
<text x="397.40" y="510.30" font-size="12.3" text-anchor="middle" fill="#231f20">0</text>
<text x="451.70" y="510.30" font-size="12.3" text-anchor="middle" fill="#231f20">0.2</text>
<text x="397.00" y="527.60" font-size="13.4" text-anchor="middle" fill="#231f20">Y position (m)</text>
<text x="284.00" y="415.00" font-size="13.4" text-anchor="middle" fill="#231f20" transform="rotate(-90 284.00 415.00)">X position (m)</text>
<linearGradient id="cbc" x1="0" y1="0" x2="0" y2="1">
<stop offset="0.0000" stop-color="#7d1516"/>
<stop offset="0.0316" stop-color="#a81e22"/>
<stop offset="0.0700" stop-color="#d92027"/>
<stop offset="0.1083" stop-color="#ed1c24"/>
<stop offset="0.1429" stop-color="#ec2227"/>
<stop offset="0.1582" stop-color="#ea3c27"/>
<stop offset="0.2023" stop-color="#f16523"/>
<stop offset="0.2426" stop-color="#f68c1f"/>
<stop offset="0.2809" stop-color="#f9a01b"/>
<stop offset="0.3116" stop-color="#fdb913"/>
<stop offset="0.3404" stop-color="#fde910"/>
<stop offset="0.3730" stop-color="#d7df23"/>
<stop offset="0.4228" stop-color="#a6ce39"/>
<stop offset="0.4803" stop-color="#8cc63f"/>
<stop offset="0.5149" stop-color="#7dc466"/>
<stop offset="0.5494" stop-color="#70c38a"/>
<stop offset="0.6222" stop-color="#5bc0ae"/>
<stop offset="0.6568" stop-color="#3cbfd8"/>
<stop offset="0.6721" stop-color="#25b8ea"/>
<stop offset="0.7066" stop-color="#2a8fd4"/>
<stop offset="0.7411" stop-color="#2b6cc0"/>
<stop offset="0.8159" stop-color="#2a55b0"/>
<stop offset="0.9137" stop-color="#2948a5"/>
<stop offset="0.9789" stop-color="#243b92"/>
<stop offset="1.0000" stop-color="#1f2f7a"/>
</linearGradient>
<rect x="486.4" y="339.3" width="16.70" height="153.10" fill="url(#cbc)"/>
<line x1="500.70" y1="371.21" x2="503.10" y2="371.21" stroke="#231f20" stroke-width="0.6" opacity="0.65"/>
<line x1="501.80" y1="345.65" x2="503.10" y2="345.65" stroke="#231f20" stroke-width="0.6" opacity="0.65"/>
<line x1="500.70" y1="456.11" x2="503.10" y2="456.11" stroke="#231f20" stroke-width="0.6" opacity="0.65"/>
<line x1="501.80" y1="430.56" x2="503.10" y2="430.56" stroke="#231f20" stroke-width="0.6" opacity="0.65"/>
<line x1="501.80" y1="415.61" x2="503.10" y2="415.61" stroke="#231f20" stroke-width="0.6" opacity="0.65"/>
<line x1="501.80" y1="405.00" x2="503.10" y2="405.00" stroke="#231f20" stroke-width="0.6" opacity="0.65"/>
<line x1="501.80" y1="396.77" x2="503.10" y2="396.77" stroke="#231f20" stroke-width="0.6" opacity="0.65"/>
<line x1="501.80" y1="390.05" x2="503.10" y2="390.05" stroke="#231f20" stroke-width="0.6" opacity="0.65"/>
<line x1="501.80" y1="384.36" x2="503.10" y2="384.36" stroke="#231f20" stroke-width="0.6" opacity="0.65"/>
<line x1="501.80" y1="379.44" x2="503.10" y2="379.44" stroke="#231f20" stroke-width="0.6" opacity="0.65"/>
<line x1="501.80" y1="375.10" x2="503.10" y2="375.10" stroke="#231f20" stroke-width="0.6" opacity="0.65"/>
<line x1="501.80" y1="489.90" x2="503.10" y2="489.90" stroke="#231f20" stroke-width="0.6" opacity="0.65"/>
<line x1="501.80" y1="481.67" x2="503.10" y2="481.67" stroke="#231f20" stroke-width="0.6" opacity="0.65"/>
<line x1="501.80" y1="474.95" x2="503.10" y2="474.95" stroke="#231f20" stroke-width="0.6" opacity="0.65"/>
<line x1="501.80" y1="469.27" x2="503.10" y2="469.27" stroke="#231f20" stroke-width="0.6" opacity="0.65"/>
<line x1="501.80" y1="464.34" x2="503.10" y2="464.34" stroke="#231f20" stroke-width="0.6" opacity="0.65"/>
<line x1="501.80" y1="460.00" x2="503.10" y2="460.00" stroke="#231f20" stroke-width="0.6" opacity="0.65"/>
<text x="507.80" y="377.90" font-size="11.3" fill="#231f20">10<tspan dy="-5.1" dx="0.6" font-size="8.4">-1</tspan></text>
<text x="507.80" y="461.80" font-size="11.3" fill="#231f20">10<tspan dy="-5.1" dx="0.6" font-size="8.4">-2</tspan></text>
<text x="543.00" y="415.70" font-size="10.8" text-anchor="middle" fill="#231f20" transform="rotate(-90 543.00 415.70)">Conductivity (S/m)</text>
</svg></body></html>
